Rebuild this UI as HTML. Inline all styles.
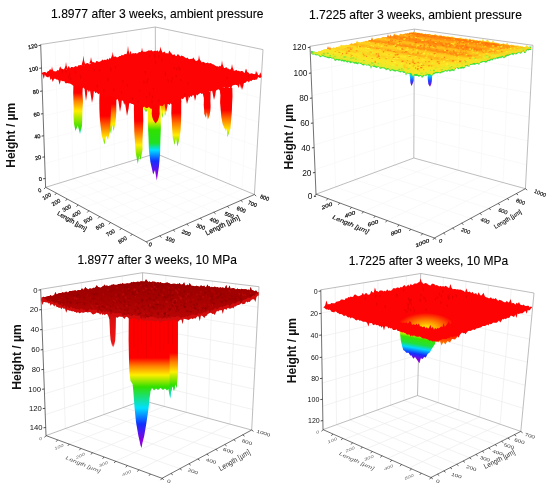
<!DOCTYPE html>
<html lang="en"><head><meta charset="utf-8"><title>Surface height maps</title>
<style>html,body{margin:0;padding:0;background:#fff}svg{display:block;font-family:"Liberation Sans",sans-serif;filter:blur(0.45px)}</style></head>
<body>
<svg width="550" height="492" viewBox="0 0 550 492">
<rect width="550" height="492" fill="#fff"/>
<defs>
<linearGradient id="g1" gradientUnits="userSpaceOnUse" x1="0" y1="100" x2="0" y2="180.5"><stop offset="0.000" stop-color="#ff8000"/><stop offset="0.099" stop-color="#ffee00"/><stop offset="0.261" stop-color="#f0f000"/><stop offset="0.373" stop-color="#30e000"/><stop offset="0.534" stop-color="#20e020"/><stop offset="0.621" stop-color="#00e0ff"/><stop offset="0.758" stop-color="#1030ff"/><stop offset="0.919" stop-color="#8a00e0"/></linearGradient>
<linearGradient id="g2" gradientUnits="userSpaceOnUse" x1="0" y1="85" x2="0" y2="134"><stop offset="0.163" stop-color="#ff0000"/><stop offset="0.327" stop-color="#ff8000"/><stop offset="0.531" stop-color="#ffee00"/><stop offset="0.878" stop-color="#30e000"/><stop offset="1.000" stop-color="#00e0ff"/><stop offset="1.000" stop-color="#1030ff"/><stop offset="1.000" stop-color="#8a00e0"/></linearGradient>
<linearGradient id="g3" gradientUnits="userSpaceOnUse" x1="0" y1="92" x2="0" y2="134"><stop offset="0.286" stop-color="#ff0000"/><stop offset="0.500" stop-color="#ff8000"/><stop offset="0.762" stop-color="#ffee00"/><stop offset="1.000" stop-color="#30e000"/><stop offset="1.000" stop-color="#00e0ff"/><stop offset="1.000" stop-color="#1030ff"/><stop offset="1.000" stop-color="#8a00e0"/></linearGradient>
<linearGradient id="g4" gradientUnits="userSpaceOnUse" x1="0" y1="92" x2="0" y2="144.5"><stop offset="0.457" stop-color="#ff0000"/><stop offset="0.686" stop-color="#ff8000"/><stop offset="0.876" stop-color="#ffee00"/><stop offset="1.000" stop-color="#30e000"/><stop offset="1.000" stop-color="#00e0ff"/><stop offset="1.000" stop-color="#1030ff"/><stop offset="1.000" stop-color="#8a00e0"/></linearGradient>
<linearGradient id="g5" gradientUnits="userSpaceOnUse" x1="0" y1="100" x2="0" y2="164"><stop offset="0.328" stop-color="#ff0000"/><stop offset="0.531" stop-color="#ff8000"/><stop offset="0.703" stop-color="#ffee00"/><stop offset="0.938" stop-color="#30e000"/><stop offset="1.000" stop-color="#00e0ff"/><stop offset="1.000" stop-color="#1030ff"/><stop offset="1.000" stop-color="#8a00e0"/></linearGradient>
<linearGradient id="g6" gradientUnits="userSpaceOnUse" x1="0" y1="98" x2="0" y2="146.5"><stop offset="0.309" stop-color="#ff0000"/><stop offset="0.536" stop-color="#ff8000"/><stop offset="0.763" stop-color="#ffee00"/><stop offset="1.000" stop-color="#30e000"/><stop offset="1.000" stop-color="#00e0ff"/><stop offset="1.000" stop-color="#1030ff"/><stop offset="1.000" stop-color="#8a00e0"/></linearGradient>
<linearGradient id="g7" gradientUnits="userSpaceOnUse" x1="0" y1="92" x2="0" y2="119.8"><stop offset="0.576" stop-color="#ff0000"/><stop offset="0.971" stop-color="#ff8000"/><stop offset="1.000" stop-color="#ffee00"/><stop offset="1.000" stop-color="#30e000"/><stop offset="1.000" stop-color="#00e0ff"/><stop offset="1.000" stop-color="#1030ff"/><stop offset="1.000" stop-color="#8a00e0"/></linearGradient>
<linearGradient id="g8" gradientUnits="userSpaceOnUse" x1="0" y1="88" x2="0" y2="137"><stop offset="0.449" stop-color="#ff0000"/><stop offset="0.653" stop-color="#ff8000"/><stop offset="0.857" stop-color="#ffee00"/><stop offset="1.000" stop-color="#30e000"/><stop offset="1.000" stop-color="#00e0ff"/><stop offset="1.000" stop-color="#1030ff"/><stop offset="1.000" stop-color="#8a00e0"/></linearGradient>
<linearGradient id="g9" gradientUnits="userSpaceOnUse" x1="0" y1="100" x2="0" y2="118"><stop offset="0.000" stop-color="#ff0000"/><stop offset="0.222" stop-color="#ff8000"/><stop offset="0.667" stop-color="#ffee00"/><stop offset="1.000" stop-color="#30e000"/><stop offset="1.000" stop-color="#00e0ff"/><stop offset="1.000" stop-color="#1030ff"/><stop offset="1.000" stop-color="#8a00e0"/></linearGradient>
<linearGradient id="g10" gradientUnits="userSpaceOnUse" x1="0" y1="100" x2="0" y2="112"><stop offset="0.000" stop-color="#ff0000"/><stop offset="0.000" stop-color="#ff8000"/><stop offset="0.667" stop-color="#ffee00"/><stop offset="1.000" stop-color="#30e000"/><stop offset="1.000" stop-color="#00e0ff"/><stop offset="1.000" stop-color="#1030ff"/><stop offset="1.000" stop-color="#8a00e0"/></linearGradient>
<linearGradient id="g11" gradientUnits="userSpaceOnUse" x1="0" y1="104" x2="0" y2="123.5"><stop offset="0.000" stop-color="#fd0303"/><stop offset="1.000" stop-color="#f00000"/></linearGradient>
<linearGradient id="g12" gradientUnits="userSpaceOnUse" x1="0" y1="70" x2="0" y2="86"><stop offset="0.125" stop-color="#30e060"/><stop offset="0.375" stop-color="#00c8ff"/><stop offset="0.688" stop-color="#2040ff"/><stop offset="1.000" stop-color="#8a00e0"/></linearGradient>
<linearGradient id="g13" gradientUnits="userSpaceOnUse" x1="0" y1="70" x2="0" y2="86.8"><stop offset="0.119" stop-color="#30e060"/><stop offset="0.357" stop-color="#00c8ff"/><stop offset="0.655" stop-color="#2040ff"/><stop offset="0.982" stop-color="#8a00e0"/></linearGradient>
<linearGradient id="g14" gradientUnits="userSpaceOnUse" x1="0" y1="312" x2="0" y2="448"><stop offset="0.029" stop-color="#ff0000"/><stop offset="0.338" stop-color="#ff0000"/><stop offset="0.397" stop-color="#ff8000"/><stop offset="0.463" stop-color="#ffee00"/><stop offset="0.551" stop-color="#30e000"/><stop offset="0.706" stop-color="#00e0ff"/><stop offset="0.824" stop-color="#1030ff"/><stop offset="0.941" stop-color="#8a00e0"/></linearGradient>
<linearGradient id="g15" gradientUnits="userSpaceOnUse" x1="0" y1="312" x2="0" y2="448"><stop offset="0.029" stop-color="#ff0000"/><stop offset="0.301" stop-color="#ff0000"/><stop offset="0.368" stop-color="#ff8000"/><stop offset="0.441" stop-color="#ffee00"/><stop offset="0.537" stop-color="#30e000"/><stop offset="0.625" stop-color="#00e0ff"/><stop offset="0.728" stop-color="#1030ff"/><stop offset="0.838" stop-color="#8a00e0"/></linearGradient>
<linearGradient id="g16" gradientUnits="userSpaceOnUse" x1="0" y1="305" x2="0" y2="347.6"><stop offset="0.000" stop-color="#c40808"/><stop offset="0.399" stop-color="#e01010"/><stop offset="1.000" stop-color="#f01818"/></linearGradient>
<linearGradient id="g17" gradientUnits="userSpaceOnUse" x1="0" y1="281" x2="0" y2="322"><stop offset="0" stop-color="#980000"/><stop offset="0.5" stop-color="#a80202"/><stop offset="1" stop-color="#bc0606"/></linearGradient>
<linearGradient id="g18" gradientUnits="userSpaceOnUse" x1="421" y1="328" x2="415" y2="362"><stop offset="0" stop-color="#ff3000"/><stop offset="0.12" stop-color="#ff9800"/><stop offset="0.2" stop-color="#ffee00"/><stop offset="0.32" stop-color="#38e400"/><stop offset="0.48" stop-color="#20e040"/><stop offset="0.6" stop-color="#00d8ff"/><stop offset="0.76" stop-color="#1030ff"/><stop offset="0.9" stop-color="#8000e0"/><stop offset="1" stop-color="#9400d8"/></linearGradient>
<linearGradient id="g19" gradientUnits="userSpaceOnUse" x1="0" y1="330" x2="0" y2="346"><stop offset="0.188" stop-color="#fd0303"/><stop offset="0.562" stop-color="#ff4000"/><stop offset="0.938" stop-color="#ff9000"/></linearGradient>
<radialGradient id="g20" gradientUnits="userSpaceOnUse" cx="426" cy="328.5" r="30" gradientTransform="translate(426 328.5) scale(1 0.52) translate(-426 -328.5)"><stop offset="0" stop-color="#fff000"/><stop offset="0.16" stop-color="#ffd800"/><stop offset="0.42" stop-color="#ff9a00"/><stop offset="0.72" stop-color="#ff4c00"/><stop offset="1" stop-color="#fd0303"/></radialGradient>
</defs>
<polyline points="41.5,68.3 155.4,48.1 261.6,73.8" fill="none" stroke="#f7f7f7" stroke-width="0.6"/>
<polyline points="42.3,92.1 155.5,69.2 260.1,97.9" fill="none" stroke="#f7f7f7" stroke-width="0.6"/>
<polyline points="43.2,115.9 155.6,90.2 258.7,122.1" fill="none" stroke="#f7f7f7" stroke-width="0.6"/>
<polyline points="44,139.7 155.6,111.3 257.3,146.2" fill="none" stroke="#f7f7f7" stroke-width="0.6"/>
<polyline points="44.8,163.5 155.7,132.4 255.8,170.4" fill="none" stroke="#f7f7f7" stroke-width="0.6"/>
<polyline points="58.2,194.1 168.1,158.6 168.8,29.8" fill="none" stroke="#f7f7f7" stroke-width="0.6"/>
<polyline points="70.8,200.9 180.5,163.8 182.2,32.6" fill="none" stroke="#f7f7f7" stroke-width="0.6"/>
<polyline points="83.3,207.7 192.8,168.9 195.7,35.5" fill="none" stroke="#f7f7f7" stroke-width="0.6"/>
<polyline points="95.9,214.6 205.1,174 209.2,38.3" fill="none" stroke="#f7f7f7" stroke-width="0.6"/>
<polyline points="108.5,221.4 217.4,179.1 222.6,41.1" fill="none" stroke="#f7f7f7" stroke-width="0.6"/>
<polyline points="121,228.2 229.8,184.2 236.1,44" fill="none" stroke="#f7f7f7" stroke-width="0.6"/>
<polyline points="133.6,235 242.1,189.4 249.5,46.8" fill="none" stroke="#f7f7f7" stroke-width="0.6"/>
<polyline points="159.7,235.9 59.4,183.1 55,42.3" fill="none" stroke="#f7f7f7" stroke-width="0.6"/>
<polyline points="173.2,230 73.2,178.9 69.4,40.1" fill="none" stroke="#f7f7f7" stroke-width="0.6"/>
<polyline points="186.8,224.1 86.9,174.6 83.7,37.9" fill="none" stroke="#f7f7f7" stroke-width="0.6"/>
<polyline points="200.3,218.2 100.7,170.4 98,35.8" fill="none" stroke="#f7f7f7" stroke-width="0.6"/>
<polyline points="213.8,212.2 114.5,166.2 112.3,33.6" fill="none" stroke="#f7f7f7" stroke-width="0.6"/>
<polyline points="227.3,206.3 128.2,161.9 126.7,31.4" fill="none" stroke="#f7f7f7" stroke-width="0.6"/>
<polyline points="240.9,200.4 142,157.7 141,29.2" fill="none" stroke="#f7f7f7" stroke-width="0.6"/>
<polyline points="40.7,44.5 155.3,27 263,49.6 254.4,194.5 155.8,153.5 45.6,187.3" fill="none" stroke="#a0a0a0" stroke-width="0.7"/>
<line x1="155.3" y1="27" x2="155.8" y2="153.5" stroke="#a0a0a0" stroke-width="0.7"/>
<polyline points="40.7,44.5 45.6,187.3 146.2,241.8 254.4,194.5" fill="none" stroke="#333" stroke-width="0.7"/>
<line x1="38.5" y1="45.6" x2="40.7" y2="45.3" stroke="#222" stroke-width="0.8"/>
<text x="37.7" y="47.3" font-size="5.6" text-anchor="end" transform="rotate(-12 37.7 47.3)" stroke="#111" stroke-width="0.22" fill="#111">120</text>
<line x1="39.3" y1="68.3" x2="41.5" y2="68" stroke="#222" stroke-width="0.8"/>
<text x="38.5" y="70" font-size="5.6" text-anchor="end" transform="rotate(-12 38.5 70)" stroke="#111" stroke-width="0.22" fill="#111">100</text>
<line x1="40.1" y1="91.3" x2="42.3" y2="91" stroke="#222" stroke-width="0.8"/>
<text x="39.3" y="93" font-size="5.6" text-anchor="end" transform="rotate(-12 39.3 93)" stroke="#111" stroke-width="0.22" fill="#111">80</text>
<line x1="40.9" y1="114" x2="43.1" y2="113.7" stroke="#222" stroke-width="0.8"/>
<text x="40.1" y="115.7" font-size="5.6" text-anchor="end" transform="rotate(-12 40.1 115.7)" stroke="#111" stroke-width="0.22" fill="#111">60</text>
<line x1="41.6" y1="136.1" x2="43.8" y2="135.8" stroke="#222" stroke-width="0.8"/>
<text x="40.8" y="137.8" font-size="5.6" text-anchor="end" transform="rotate(-12 40.8 137.8)" stroke="#111" stroke-width="0.22" fill="#111">40</text>
<line x1="42.4" y1="157.2" x2="44.6" y2="156.9" stroke="#222" stroke-width="0.8"/>
<text x="41.6" y="158.9" font-size="5.6" text-anchor="end" transform="rotate(-12 41.6 158.9)" stroke="#111" stroke-width="0.22" fill="#111">20</text>
<line x1="43.1" y1="178.8" x2="45.3" y2="178.5" stroke="#222" stroke-width="0.8"/>
<text x="42.3" y="180.5" font-size="5.6" text-anchor="end" transform="rotate(-12 42.3 180.5)" stroke="#111" stroke-width="0.22" fill="#111">0</text>
<line x1="45.6" y1="187.3" x2="44" y2="189.1" stroke="#222" stroke-width="0.7"/>
<line x1="56.4" y1="193.2" x2="54.8" y2="195" stroke="#222" stroke-width="0.7"/>
<line x1="67.2" y1="199" x2="65.6" y2="200.8" stroke="#222" stroke-width="0.7"/>
<line x1="78.1" y1="204.9" x2="76.5" y2="206.7" stroke="#222" stroke-width="0.7"/>
<line x1="88.9" y1="210.7" x2="87.3" y2="212.5" stroke="#222" stroke-width="0.7"/>
<line x1="99.7" y1="216.6" x2="98.1" y2="218.4" stroke="#222" stroke-width="0.7"/>
<line x1="110.5" y1="222.5" x2="108.9" y2="224.3" stroke="#222" stroke-width="0.7"/>
<line x1="121.3" y1="228.3" x2="119.7" y2="230.1" stroke="#222" stroke-width="0.7"/>
<line x1="132.1" y1="234.2" x2="130.5" y2="236" stroke="#222" stroke-width="0.7"/>
<line x1="146.2" y1="241.8" x2="148" y2="243.4" stroke="#222" stroke-width="0.7"/>
<line x1="159.7" y1="235.9" x2="161.5" y2="237.5" stroke="#222" stroke-width="0.7"/>
<line x1="173.2" y1="230" x2="175.1" y2="231.6" stroke="#222" stroke-width="0.7"/>
<line x1="186.8" y1="224.1" x2="188.6" y2="225.7" stroke="#222" stroke-width="0.7"/>
<line x1="200.3" y1="218.2" x2="202.1" y2="219.8" stroke="#222" stroke-width="0.7"/>
<line x1="213.8" y1="212.2" x2="215.6" y2="213.8" stroke="#222" stroke-width="0.7"/>
<line x1="227.3" y1="206.3" x2="229.2" y2="207.9" stroke="#222" stroke-width="0.7"/>
<line x1="240.9" y1="200.4" x2="242.7" y2="202" stroke="#222" stroke-width="0.7"/>
<line x1="254.4" y1="194.5" x2="256.2" y2="196.1" stroke="#222" stroke-width="0.7"/>
<text x="40.6" y="191.9" font-size="5.5" text-anchor="middle" transform="rotate(-30 40.6 191.9)" stroke="#111" stroke-width="0.22" fill="#111">0</text>
<text x="47.7" y="197.9" font-size="5.5" text-anchor="middle" transform="rotate(-30 47.7 197.9)" stroke="#111" stroke-width="0.22" fill="#111">100</text>
<text x="57" y="203.9" font-size="5.5" text-anchor="middle" transform="rotate(-30 57 203.9)" stroke="#111" stroke-width="0.22" fill="#111">200</text>
<text x="67.8" y="209.7" font-size="5.5" text-anchor="middle" transform="rotate(-30 67.8 209.7)" stroke="#111" stroke-width="0.22" fill="#111">300</text>
<text x="77.3" y="215.6" font-size="5.5" text-anchor="middle" transform="rotate(-30 77.3 215.6)" stroke="#111" stroke-width="0.22" fill="#111">400</text>
<text x="89" y="221.5" font-size="5.5" text-anchor="middle" transform="rotate(-30 89 221.5)" stroke="#111" stroke-width="0.22" fill="#111">500</text>
<text x="101" y="227.9" font-size="5.5" text-anchor="middle" transform="rotate(-30 101 227.9)" stroke="#111" stroke-width="0.22" fill="#111">600</text>
<text x="111.5" y="234.5" font-size="5.5" text-anchor="middle" transform="rotate(-30 111.5 234.5)" stroke="#111" stroke-width="0.22" fill="#111">700</text>
<text x="123.4" y="241.6" font-size="5.5" text-anchor="middle" transform="rotate(-30 123.4 241.6)" stroke="#111" stroke-width="0.22" fill="#111">800</text>
<text x="71" y="222.8" font-size="6.2" text-anchor="middle" transform="rotate(30 71 222.8)" stroke="#111" stroke-width="0.2" fill="#111">Length [µm]</text>
<text x="264" y="199.6" font-size="5.5" text-anchor="middle" transform="rotate(20 264 199.6)" stroke="#111" stroke-width="0.22" fill="#111">800</text>
<text x="251.8" y="205.7" font-size="5.5" text-anchor="middle" transform="rotate(20 251.8 205.7)" stroke="#111" stroke-width="0.22" fill="#111">700</text>
<text x="240.7" y="211.4" font-size="5.5" text-anchor="middle" transform="rotate(20 240.7 211.4)" stroke="#111" stroke-width="0.22" fill="#111">600</text>
<text x="228.5" y="216.9" font-size="5.5" text-anchor="middle" transform="rotate(20 228.5 216.9)" stroke="#111" stroke-width="0.22" fill="#111">500</text>
<text x="213.7" y="222.4" font-size="5.5" text-anchor="middle" transform="rotate(20 213.7 222.4)" stroke="#111" stroke-width="0.22" fill="#111">400</text>
<text x="200" y="228.6" font-size="5.5" text-anchor="middle" transform="rotate(20 200 228.6)" stroke="#111" stroke-width="0.22" fill="#111">300</text>
<text x="185.5" y="234.7" font-size="5.5" text-anchor="middle" transform="rotate(20 185.5 234.7)" stroke="#111" stroke-width="0.22" fill="#111">200</text>
<text x="169.5" y="241.4" font-size="5.5" text-anchor="middle" transform="rotate(20 169.5 241.4)" stroke="#111" stroke-width="0.22" fill="#111">100</text>
<text x="149.8" y="246.3" font-size="5.5" text-anchor="middle" transform="rotate(20 149.8 246.3)" stroke="#111" stroke-width="0.22" fill="#111">0</text>
<text x="223.5" y="227.3" font-size="7" text-anchor="middle" transform="rotate(-26 223.5 227.3)" stroke="#111" stroke-width="0.2" fill="#111">Length [µm]</text>
<text x="15.2" y="135.3" font-size="12" text-anchor="middle" font-weight="bold" transform="rotate(-90 15.2 135.3)" textLength="65" lengthAdjust="spacingAndGlyphs" fill="#111">Height / µm</text>
<text x="157.3" y="18.3" font-size="12.2" text-anchor="middle" textLength="212.5" lengthAdjust="spacingAndGlyphs" stroke="#000" stroke-width="0.1" fill="#000">1.8977 after 3 weeks, ambient pressure</text>
<polygon points="148,100 147.9,112.4 147.9,124.8 148.5,137.2 148.9,149.7 150.4,162.1 153.2,174.5 155,170 156.8,180.5 158.9,167.1 160.1,153.7 160.4,140.2 160.9,126.8 160.7,113.4 161,100" fill="url(#g1)"/>
<polygon points="73.4,85 73.2,92.7 73.4,100.3 73.7,108 73.5,115.7 73.9,123.3 75.5,131 77.8,125.5 80,134 82,125.8 82.3,117.7 82.5,109.5 83,101.3 82.5,93.2 82.8,85" fill="url(#g2)"/>
<polygon points="108.5,92 108.7,99 108.4,106 108.4,113 108.7,120 109.3,127 111,134 112.3,124.7 113.6,131 115.1,124.5 115.9,118 116.3,111.5 116.3,105 116.4,98.5 116.4,92" fill="url(#g3)"/>
<polygon points="99.6,92 99.3,100.8 99.4,109.5 99.8,118.2 100.7,127 101.8,135.8 104.5,144.5 106.2,135.7 108,140 109.9,132 110.4,124 110.7,116 111.1,108 111.1,100 111,92" fill="url(#g4)"/>
<polygon points="134,100 133.9,110.7 134.1,121.3 134.3,132 135,142.7 135.8,153.3 137.8,164 139.2,155.8 140.6,160 142.5,150 142.5,140 143,130 143.3,120 143,110 143.2,100" fill="url(#g5)"/>
<polygon points="171.5,98 171.5,105.8 171.3,113.7 171.8,121.5 172.2,129.3 172.7,137.2 174.5,145 176,138.5 177.5,146.5 179.5,138.4 180.6,130.3 181,122.2 181.2,114.2 181.2,106.1 181.2,98" fill="url(#g6)"/>
<polygon points="203.6,92 203.8,96.3 203.9,100.7 203.7,105 204.1,109.3 204.2,113.7 206,118 206.9,112.2 207.8,119.8 209.6,115.2 210.4,110.5 210.6,105.9 210.4,101.3 210.5,96.6 210.6,92" fill="url(#g7)"/>
<polygon points="220.3,88 220.4,95.2 220.1,102.5 220.7,109.8 221.3,117 222.7,124.2 226,131.5 226.8,128.3 227.6,137 230.4,128.8 231.1,120.7 231.8,112.5 232.1,104.3 232.5,96.2 232.3,88" fill="url(#g8)"/>
<polygon points="161,100 160.7,103 161,106 161.1,109 161.4,112 161.6,115 162.5,118 163.8,109.5 165,116 166,113.3 166.3,110.7 166.3,108 166.7,105.3 166.8,102.7 166.5,100" fill="url(#g9)"/>
<polygon points="143.5,100 143.3,102 143.3,104 143.5,106 143.8,108 144.4,110 146,112 147.6,110 147.9,108 148,106 148.4,104 148.4,102 148.5,100" fill="url(#g10)"/>
<polygon points="41.5,73.3 42.7,72.6 44,72.1 45.2,72 46.5,73 47.7,71.3 48.9,71.1 50.2,68.8 51.4,71.2 52.7,71.7 53.9,71 55.1,71.4 56.4,71.3 57.6,70 58.8,70.5 60.1,66.2 61.3,68.6 62.6,68.9 63.8,69.5 65,68.3 66.3,69.7 67.5,68.5 68.8,65.8 70,68.5 71.2,66.9 72.4,67.1 73.6,67.5 74.8,66.4 76,66.1 77.2,67 78.4,65.2 79.6,65.2 80.8,65.1 82,65.3 83.2,64.7 84.4,65.2 85.6,63.5 86.8,63.3 88,63 89.2,64.2 90.4,63.9 91.6,62.8 92.8,62.1 94,62.2 95.2,63.1 96.4,61.1 97.6,61.2 98.8,62 100,61.5 101.2,61.1 102.4,59.5 103.7,60.4 104.9,59.4 106.1,60.3 107.3,58.5 108.5,59.7 109.7,57.7 111,58.7 112.2,54.4 113.4,57.5 114.6,56.6 115.8,56.4 117,57.4 118.3,56.9 119.5,56.1 120.7,56.1 121.9,54.8 123.1,55.4 124.3,54.2 125.6,53.9 126.8,54.3 128,54.5 129.2,54.9 130.5,50.8 131.7,54.2 132.9,52.9 134.1,53.6 135.4,52.9 136.6,53.6 137.8,53.2 139,52 140.3,52.2 141.5,51.3 142.7,51.7 144,51.8 145.2,51.7 146.4,51.5 147.6,50.9 148.9,50.2 150.1,50.8 151.3,50.1 152.5,51.3 153.8,51.2 155,50.6 156.2,51.3 157.4,50.2 158.6,51.7 159.8,51 161,50.8 162.2,52.4 163.4,52.3 164.6,51.4 165.8,53.4 167,52.9 168.2,53.8 169.4,50.6 170.6,52.4 171.8,53.8 173,55.2 174.2,54 175.4,55.7 176.6,56.1 177.8,54 179,54.9 180.2,56.5 181.4,55.4 182.6,55.9 183.8,56.4 185,57.5 186.2,58.3 187.4,57.5 188.6,58.9 189.8,59.2 191,58.8 192.2,58.9 193.4,57.4 194.6,59.5 195.8,60.9 197,60.7 198.2,60.1 199.4,60.9 200.6,60.4 201.8,62.5 203,61.8 204.2,62.3 205.4,63.3 206.6,63 207.8,62.5 209,63.5 210.2,62.9 211.4,63.5 212.6,64.2 213.8,64.5 215,65.5 216.2,66.3 217.5,66.2 218.8,66.8 220,65.6 221.2,67 222.5,67.3 223.8,67.9 225,68 226.2,66.9 227.5,68.6 228.8,68.8 230,69.7 231.2,69.1 232.5,69.9 233.8,70.6 235,70.7 236.2,69.7 237.5,71 238.8,70.7 240,71.5 241.2,71.1 242.4,70.9 243.6,72.3 244.8,72.9 246,68.4 247.2,71.9 248.4,72.5 249.6,74 250.8,73.5 252,73.2 253.2,73.9 254.4,74 255.6,74.6 256.8,71.4 258,75.1 259.2,75.2 260.4,72.2 261.6,76.4 260.4,77.9 259.3,77.8 258.1,77.1 257,79.4 255.8,79.5 254.6,79.9 253.5,79.7 252.3,80.1 251.2,81.2 250,80.5 248.9,82.5 247.8,81.1 246.6,81.5 245.5,82.7 244.4,83.1 243.2,83.5 242.1,83.4 241,88.6 239.9,83.4 238.8,88 237.6,85.5 236.5,85 235.4,84.8 234.2,85.1 233.1,85.3 232,86 230.9,92.3 229.8,87 228.6,87.8 227.5,88.5 226.4,89.4 225.2,88 224.1,87.5 223,88.2 221.9,87.7 220.8,95.1 219.6,90 218.5,89.2 217.4,89.7 216.2,90.5 215.1,90.4 214,94.3 212.9,90.6 211.8,90.8 210.6,91.7 209.5,91.6 208.4,93.1 207.2,92.8 206.1,93.8 205,92.5 203.9,97.8 202.8,93.4 201.7,94.1 200.6,93 199.5,93.4 198.4,94.2 197.3,95.4 196.2,94.5 195.1,94.9 193.9,95.4 192.8,95.1 191.7,97.1 190.6,95.7 189.5,97.9 188.4,96.1 187.3,96.2 186.2,96.5 185.1,97.1 184,97.5 182.9,99.3 181.8,98.5 180.6,99.1 179.5,100.5 178.4,103.6 177.3,100.4 176.2,99.8 175.1,100.2 173.9,101 172.8,102.3 171.7,104.6 170.6,103.2 169.5,104.9 168.4,103.9 167.2,104.1 166.1,103.9 165,103.5 163.8,104.5 162.6,105.9 161.5,105.7 160.3,105.7 159.1,105.1 157.9,106.1 156.7,107.5 155.5,106.7 154.4,108.4 153.2,110.5 152,108.5 150.9,108.9 149.8,107.8 148.7,107.1 147.6,107.9 146.4,108.1 145.3,107.4 144.2,106.6 143.1,107.5 142,105.6 140.9,106.9 139.8,105.6 138.7,107 137.6,104.6 136.4,105.3 135.3,104.5 134.2,105.6 133.1,104 132,104 130.9,103.6 129.8,103.1 128.7,103.9 127.6,104 126.4,101.8 125.3,101.9 124.2,105 123.1,100.7 122,100.5 120.9,100.3 119.8,101.1 118.7,101 117.6,99 116.4,100.1 115.3,97.5 114.2,98 113.1,97.5 112,97 110.9,95.9 109.8,96.4 108.7,95.5 107.6,95.4 106.5,96.5 105.4,97.8 104.3,94.7 103.2,93.9 102.1,97.5 101,94.7 99.9,92.9 98.8,94.3 97.7,93.5 96.6,92.2 95.5,93.3 94.4,91.3 93.3,91.1 92.2,90 91.1,91.8 90,90 88.9,92.5 87.8,89.7 86.7,90.5 85.6,88.4 84.4,88.7 83.3,87.6 82.2,88.5 81.1,88.2 80,86.8 78.9,86.5 77.8,85.5 76.7,86.8 75.6,87.8 74.4,85 73.3,86 72.2,84.7 71.1,84.3 70,83.5 68.8,83.5 67.7,83 66.5,83.2 65.4,83.3 64.2,81.1 63.1,81.2 61.9,81 60.8,80.2 59.6,84.8 58.5,80.3 57.3,79.5 56.2,79.4 55,78.5 53.9,79.3 52.8,81.9 51.6,78.4 50.5,79.9 49.4,75.9 48.2,77.5 47.1,77 46,76.4 44.9,74.5 43.8,79 42.6,74.5" fill="#fd0303"/>
<path d="M98.8 69.4l0.7 2.6l0.8 -2z" fill="#d80000" opacity="0.55"/>
<path d="M180 79l0.7 2.6l0.8 -1.5z" fill="#d80000" opacity="0.55"/>
<path d="M152.7 87.7l0.7 2.6l0.8 -2.1z" fill="#d80000" opacity="0.55"/>
<path d="M151.8 95.2l0.7 3.6l0.8 -1.6z" fill="#d80000" opacity="0.55"/>
<path d="M96.5 84.5l0.7 3.7l0.8 -2.8z" fill="#d80000" opacity="0.55"/>
<path d="M69.9 76.9l0.7 4.1l0.8 -2.3z" fill="#d80000" opacity="0.55"/>
<path d="M107.3 76.9l0.7 4.9l0.8 -2.1z" fill="#d80000" opacity="0.55"/>
<path d="M144.5 71.1l0.7 3.2l0.8 -3.2z" fill="#d80000" opacity="0.55"/>
<path d="M193.4 60.1l0.7 2.6l0.8 -3z" fill="#d80000" opacity="0.55"/>
<path d="M65.3 68.9l0.7 4.7l0.8 -2.3z" fill="#d80000" opacity="0.55"/>
<path d="M178.2 65.8l0.7 4.6l0.8 -2.4z" fill="#d80000" opacity="0.55"/>
<path d="M61.6 70.1l0.7 3.7l0.8 -2.8z" fill="#d80000" opacity="0.55"/>
<path d="M154.3 55l0.7 3.9l0.8 -2.2z" fill="#d80000" opacity="0.55"/>
<path d="M114.6 66.3l0.7 2.8l0.8 -2.5z" fill="#d80000" opacity="0.55"/>
<path d="M158.2 55.2l0.7 3.5l0.8 -3.1z" fill="#d80000" opacity="0.55"/>
<path d="M172.3 56.5l0.7 2.4l0.8 -3.4z" fill="#d80000" opacity="0.55"/>
<path d="M203.7 63.7l0.7 2.2l0.8 -3.4z" fill="#d80000" opacity="0.55"/>
<path d="M184.1 93l0.7 3.9l0.8 -3.1z" fill="#d80000" opacity="0.55"/>
<path d="M146 96.1l0.7 2.7l0.8 -2.3z" fill="#d80000" opacity="0.55"/>
<path d="M226.4 76.7l0.7 2.5l0.8 -1.9z" fill="#d80000" opacity="0.55"/>
<path d="M143.3 80.5l0.7 3.2l0.8 -1.7z" fill="#d80000" opacity="0.55"/>
<path d="M148.9 91.5l0.7 4.7l0.8 -1.6z" fill="#d80000" opacity="0.55"/>
<path d="M187.4 83.2l0.7 2.1l0.8 -3.2z" fill="#d80000" opacity="0.55"/>
<path d="M120.8 91.1l0.7 3.7l0.8 -2.8z" fill="#d80000" opacity="0.55"/>
<path d="M122.2 79.9l0.7 3.7l0.8 -2.4z" fill="#d80000" opacity="0.55"/>
<path d="M164.5 71.3l0.7 3.3l0.8 -1.5z" fill="#d80000" opacity="0.55"/>
<path d="M164.7 73.6l0.7 2.7l0.8 -3z" fill="#d80000" opacity="0.55"/>
<path d="M179.3 68.4l0.7 2.5l0.8 -2.4z" fill="#d80000" opacity="0.55"/>
<path d="M67.8 75.3l0.7 3.3l0.8 -1.7z" fill="#d80000" opacity="0.55"/>
<path d="M147.2 79.1l0.7 2.1l0.8 -2.8z" fill="#d80000" opacity="0.55"/>
<path d="M131.6 96.7l0.7 4.3l0.8 -2.5z" fill="#d80000" opacity="0.55"/>
<path d="M103.2 89.5l0.7 3.1l0.8 -3.4z" fill="#d80000" opacity="0.55"/>
<path d="M151.2 99.3l0.7 5l0.8 -3z" fill="#d80000" opacity="0.55"/>
<path d="M154.8 60.1l0.7 4.9l0.8 -2.5z" fill="#d80000" opacity="0.55"/>
<path d="M247.9 75.6l0.7 2.5l0.8 -3.1z" fill="#d80000" opacity="0.55"/>
<path d="M154.1 53.9l0.7 3.1l0.8 -3z" fill="#d80000" opacity="0.55"/>
<path d="M158 99.9l0.7 2.8l0.8 -3.1z" fill="#d80000" opacity="0.55"/>
<path d="M113 87l0.7 4.8l0.8 -1.9z" fill="#d80000" opacity="0.55"/>
<path d="M126.7 83.9l0.7 3l0.8 -1.6z" fill="#d80000" opacity="0.55"/>
<path d="M79.9 74.6l0.7 4.8l0.8 -2.9z" fill="#d80000" opacity="0.55"/>
<path d="M161.2 57.5l0.7 4.4l0.8 -1.7z" fill="#d80000" opacity="0.55"/>
<path d="M170.7 80.5l0.7 3.1l0.8 -3.2z" fill="#d80000" opacity="0.55"/>
<path d="M167.4 78.1l0.7 4.6l0.8 -1.7z" fill="#d80000" opacity="0.55"/>
<path d="M221.4 67l0.7 3.2l0.8 -3.1z" fill="#d80000" opacity="0.55"/>
<path d="M180 99.7l0.7 3.7l0.8 -2.2z" fill="#d80000" opacity="0.55"/>
<path d="M175.8 68.3l0.7 2.5l0.8 -3z" fill="#d80000" opacity="0.55"/>
<path d="M137.4 100.7l0.7 2.8l0.8 -2.8z" fill="#d80000" opacity="0.55"/>
<path d="M215.7 66.2l0.7 4l0.8 -2.1z" fill="#d80000" opacity="0.55"/>
<path d="M45.4 74.4l0.7 2.4l0.8 -2.7z" fill="#d80000" opacity="0.55"/>
<path d="M146.3 79.5l0.7 4.7l0.8 -1.8z" fill="#d80000" opacity="0.55"/>
<path d="M138.9 89.7l0.7 2.1l0.8 -1.5z" fill="#d80000" opacity="0.55"/>
<path d="M93.4 68.6l0.7 3.1l0.8 -1.9z" fill="#d80000" opacity="0.55"/>
<path d="M171.5 77.6l0.7 2.6l0.8 -2.7z" fill="#d80000" opacity="0.55"/>
<path d="M110 66.7l0.7 4.8l0.8 -2z" fill="#d80000" opacity="0.55"/>
<path d="M69 73.1l0.7 3.9l0.8 -3.2z" fill="#d80000" opacity="0.55"/>
<path d="M173.5 66.7l0.7 2.8l0.8 -1.5z" fill="#d80000" opacity="0.55"/>
<path d="M175.4 75l0.7 3.1l0.8 -2.8z" fill="#d80000" opacity="0.55"/>
<path d="M193.8 92.3l0.7 4.2l0.8 -2z" fill="#d80000" opacity="0.55"/>
<path d="M148.8 54l0.7 3.6l0.8 -2.3z" fill="#d80000" opacity="0.55"/>
<path d="M74.9 69.8l0.7 4.3l0.8 -1.5z" fill="#d80000" opacity="0.55"/>
<polygon points="81.6,65 82.9,60.3 83.4,55.6 84,60.3 85.4,65" fill="#fd0303"/>
<polygon points="89.2,63.5 90.5,60.2 91,57 91.6,60.2 93,63.5" fill="#fd0303"/>
<polygon points="110.9,59.5 112.2,55.6 112.7,51.8 113.3,55.6 114.7,59.5" fill="#fd0303"/>
<polygon points="126.2,55.5 127.5,50.6 128,45.8 128.6,50.6 130,55.5" fill="#fd0303"/>
<polygon points="64.2,69.5 65.5,65.8 66,62 66.6,65.8 68,69.5" fill="#fd0303"/>
<polygon points="50.2,72 51.5,69.2 52,66.5 52.6,69.2 54,72" fill="#fd0303"/>
<polygon points="140.2,54 141.5,50.8 142,47.5 142.6,50.8 144,54" fill="#fd0303"/>
<polygon points="158.7,52.5 160,49.5 160.5,46.5 161.1,49.5 162.5,52.5" fill="#fd0303"/>
<polygon points="197.2,62.5 198.5,58.8 199,55 199.6,58.8 201,62.5" fill="#fd0303"/>
<polygon points="220.2,68 221.5,64.2 222,60.5 222.6,64.2 224,68" fill="#fd0303"/>
<polygon points="230.2,70.5 231.5,67.2 232,64 232.6,67.2 234,70.5" fill="#fd0303"/>
<polygon points="244.2,74 245.5,71.5 246,69 246.6,71.5 248,74" fill="#fd0303"/>
<polygon points="254.2,76 255.5,73.2 256,70.5 256.6,73.2 258,76" fill="#fd0303"/>
<polygon points="151.6,104 151.6,107.2 151.9,110.5 151.7,113.8 152.2,117 153.4,120.2 155.6,123.5 158,120.2 159,117 159.7,113.8 159.5,110.5 159.7,107.2 159.8,104" fill="url(#g11)"/>
<polygon points="84.5,88 85.2,94.5 86,101 87,94.5 87.5,88" fill="#fd0303"/>
<polygon points="90,90 91,96.5 92,103 93.3,96.5 94,90" fill="#fd0303"/>
<polygon points="118,98 119,105 120,112 121.3,105 122,98" fill="#fd0303"/>
<polygon points="124.5,100 125.8,108 127,116 128.7,108 129.5,100" fill="#fd0303"/>
<polygon points="164,101 165,106.5 166,112 167.3,106.5 168,101" fill="#fd0303"/>
<polygon points="185,95 186,99.5 187,104 188.3,99.5 189,95" fill="#fd0303"/>
<polygon points="193.5,93 194.2,97 195,101 196,97 196.5,93" fill="#fd0303"/>
<polygon points="212,90 213,95 214,100 215.3,95 216,90" fill="#fd0303"/>
<polygon points="240,82 241,86 242,90 243.3,86 244,82" fill="#fd0303"/>
<polyline points="311,70.9 414.3,50.6 531.7,69.2" fill="none" stroke="#f5f5f5" stroke-width="0.6"/>
<polyline points="312,95.6 414.2,72.1 530.5,93.1" fill="none" stroke="#f5f5f5" stroke-width="0.6"/>
<polyline points="313,120.2 414.1,93.6 529.2,117" fill="none" stroke="#f5f5f5" stroke-width="0.6"/>
<polyline points="314,144.9 414,115 527.9,140.9" fill="none" stroke="#f5f5f5" stroke-width="0.6"/>
<polyline points="315,169.5 413.9,136.5 526.7,164.8" fill="none" stroke="#f5f5f5" stroke-width="0.6"/>
<polyline points="339.7,203 436.1,164.1 438.1,32.3" fill="none" stroke="#f5f5f5" stroke-width="0.6"/>
<polyline points="363.4,211.7 458.4,170.3 461.8,35.6" fill="none" stroke="#f5f5f5" stroke-width="0.6"/>
<polyline points="387,220.5 480.8,176.4 485.6,38.8" fill="none" stroke="#f5f5f5" stroke-width="0.6"/>
<polyline points="410.7,229.2 503.1,182.6 509.3,42.1" fill="none" stroke="#f5f5f5" stroke-width="0.6"/>
<polyline points="452.6,228.1 335.6,187 330.9,42.9" fill="none" stroke="#f5f5f5" stroke-width="0.6"/>
<polyline points="470.8,218.3 355.1,179.7 351.8,39.4" fill="none" stroke="#f5f5f5" stroke-width="0.6"/>
<polyline points="489,208.4 374.7,172.5 372.6,36" fill="none" stroke="#f5f5f5" stroke-width="0.6"/>
<polyline points="507.2,198.6 394.2,165.2 393.5,32.5" fill="none" stroke="#f5f5f5" stroke-width="0.6"/>
<polyline points="310,46.3 414.4,29.1 533,45.3 525.4,188.7 413.8,158 316,194.2" fill="none" stroke="#a0a0a0" stroke-width="0.7"/>
<line x1="414.4" y1="29.1" x2="413.8" y2="158" stroke="#a0a0a0" stroke-width="0.7"/>
<polyline points="310,46.3 316,194.2 434.4,238 525.4,188.7" fill="none" stroke="#333" stroke-width="0.7"/>
<line x1="307.8" y1="47.6" x2="310" y2="47.3" stroke="#222" stroke-width="0.8"/>
<text x="306.4" y="50.3" font-size="8.4" text-anchor="end" fill="#111">120</text>
<line x1="308.9" y1="73.3" x2="311.1" y2="73" stroke="#222" stroke-width="0.8"/>
<text x="307.5" y="76" font-size="8.4" text-anchor="end" fill="#111">100</text>
<line x1="309.9" y1="98.3" x2="312.1" y2="98" stroke="#222" stroke-width="0.8"/>
<text x="308.5" y="101" font-size="8.4" text-anchor="end" fill="#111">80</text>
<line x1="310.9" y1="123.3" x2="313.1" y2="123" stroke="#222" stroke-width="0.8"/>
<text x="309.5" y="126" font-size="8.4" text-anchor="end" fill="#111">60</text>
<line x1="311.9" y1="147.9" x2="314.1" y2="147.6" stroke="#222" stroke-width="0.8"/>
<text x="310.5" y="150.6" font-size="8.4" text-anchor="end" fill="#111">40</text>
<line x1="312.9" y1="172.8" x2="315.1" y2="172.5" stroke="#222" stroke-width="0.8"/>
<text x="311.5" y="175.5" font-size="8.4" text-anchor="end" fill="#111">20</text>
<line x1="313.9" y1="196.6" x2="316.1" y2="196.3" stroke="#222" stroke-width="0.8"/>
<text x="312.5" y="199.3" font-size="8.4" text-anchor="end" fill="#111">0</text>
<line x1="316" y1="194.2" x2="314.6" y2="196" stroke="#222" stroke-width="0.7"/>
<line x1="327.8" y1="198.6" x2="326.4" y2="200.4" stroke="#222" stroke-width="0.7"/>
<line x1="339.7" y1="203" x2="338.3" y2="204.8" stroke="#222" stroke-width="0.7"/>
<line x1="351.5" y1="207.3" x2="350.1" y2="209.1" stroke="#222" stroke-width="0.7"/>
<line x1="363.4" y1="211.7" x2="362" y2="213.5" stroke="#222" stroke-width="0.7"/>
<line x1="375.2" y1="216.1" x2="373.8" y2="217.9" stroke="#222" stroke-width="0.7"/>
<line x1="387" y1="220.5" x2="385.6" y2="222.3" stroke="#222" stroke-width="0.7"/>
<line x1="398.9" y1="224.9" x2="397.5" y2="226.7" stroke="#222" stroke-width="0.7"/>
<line x1="410.7" y1="229.2" x2="409.3" y2="231" stroke="#222" stroke-width="0.7"/>
<line x1="422.6" y1="233.6" x2="421.2" y2="235.4" stroke="#222" stroke-width="0.7"/>
<line x1="434.4" y1="238" x2="433" y2="239.8" stroke="#222" stroke-width="0.7"/>
<line x1="434.4" y1="238" x2="436.2" y2="239.4" stroke="#222" stroke-width="0.7"/>
<line x1="443.5" y1="233.1" x2="445.3" y2="234.5" stroke="#222" stroke-width="0.7"/>
<line x1="452.6" y1="228.1" x2="454.4" y2="229.5" stroke="#222" stroke-width="0.7"/>
<line x1="461.7" y1="223.2" x2="463.5" y2="224.6" stroke="#222" stroke-width="0.7"/>
<line x1="470.8" y1="218.3" x2="472.6" y2="219.7" stroke="#222" stroke-width="0.7"/>
<line x1="479.9" y1="213.3" x2="481.7" y2="214.8" stroke="#222" stroke-width="0.7"/>
<line x1="489" y1="208.4" x2="490.8" y2="209.8" stroke="#222" stroke-width="0.7"/>
<line x1="498.1" y1="203.5" x2="499.9" y2="204.9" stroke="#222" stroke-width="0.7"/>
<line x1="507.2" y1="198.6" x2="509" y2="200" stroke="#222" stroke-width="0.7"/>
<line x1="516.3" y1="193.6" x2="518.1" y2="195" stroke="#222" stroke-width="0.7"/>
<line x1="525.4" y1="188.7" x2="527.2" y2="190.1" stroke="#222" stroke-width="0.7"/>
<text x="327.5" y="207.4" font-size="5.0" text-anchor="middle" font-style="italic" transform="rotate(-21 327.5 207.4)" textLength="11.1" lengthAdjust="spacingAndGlyphs" stroke="#111" stroke-width="0.2" fill="#111">200</text>
<text x="350.5" y="215.9" font-size="5.0" text-anchor="middle" font-style="italic" transform="rotate(-21 350.5 215.9)" textLength="11.1" lengthAdjust="spacingAndGlyphs" stroke="#111" stroke-width="0.2" fill="#111">400</text>
<text x="373.5" y="224.8" font-size="5.0" text-anchor="middle" font-style="italic" transform="rotate(-21 373.5 224.8)" textLength="11.1" lengthAdjust="spacingAndGlyphs" stroke="#111" stroke-width="0.2" fill="#111">600</text>
<text x="396.6" y="233.8" font-size="5.0" text-anchor="middle" font-style="italic" transform="rotate(-21 396.6 233.8)" textLength="11.1" lengthAdjust="spacingAndGlyphs" stroke="#111" stroke-width="0.2" fill="#111">800</text>
<text x="422.8" y="244.6" font-size="5.0" text-anchor="middle" font-style="italic" transform="rotate(-21 422.8 244.6)" textLength="14.8" lengthAdjust="spacingAndGlyphs" stroke="#111" stroke-width="0.2" fill="#111">1000</text>
<text x="350" y="226.2" font-size="6" text-anchor="middle" font-style="italic" transform="rotate(23 350 226.2)" textLength="39" lengthAdjust="spacingAndGlyphs" stroke="#111" stroke-width="0.15" fill="#111">Length [µm]</text>
<text x="539.5" y="194.9" font-size="5.4" text-anchor="middle" transform="rotate(22 539.5 194.9)" textLength="12.4" lengthAdjust="spacingAndGlyphs" stroke="#111" stroke-width="0.15" fill="#111">1000</text>
<text x="519.7" y="203.4" font-size="5.4" text-anchor="middle" transform="rotate(22 519.7 203.4)" textLength="9.3" lengthAdjust="spacingAndGlyphs" stroke="#111" stroke-width="0.15" fill="#111">800</text>
<text x="502.3" y="212.9" font-size="5.4" text-anchor="middle" transform="rotate(22 502.3 212.9)" textLength="9.3" lengthAdjust="spacingAndGlyphs" stroke="#111" stroke-width="0.15" fill="#111">600</text>
<text x="484.4" y="222.4" font-size="5.4" text-anchor="middle" transform="rotate(22 484.4 222.4)" textLength="9.3" lengthAdjust="spacingAndGlyphs" stroke="#111" stroke-width="0.15" fill="#111">400</text>
<text x="465" y="232.7" font-size="5.4" text-anchor="middle" transform="rotate(22 465 232.7)" textLength="9.3" lengthAdjust="spacingAndGlyphs" stroke="#111" stroke-width="0.15" fill="#111">200</text>
<text x="440" y="242.5" font-size="5.4" text-anchor="middle" transform="rotate(22 440 242.5)" textLength="3.1" lengthAdjust="spacingAndGlyphs" stroke="#111" stroke-width="0.15" fill="#111">0</text>
<text x="508.7" y="221" font-size="6.2" text-anchor="middle" transform="rotate(-31 508.7 221)" textLength="31" lengthAdjust="spacingAndGlyphs" stroke="#111" stroke-width="0.12" fill="#111">Length [µm]</text>
<text x="292.8" y="136.7" font-size="12" text-anchor="middle" font-weight="bold" transform="rotate(-90 292.8 136.7)" textLength="65.5" lengthAdjust="spacingAndGlyphs" fill="#111">Height / µm</text>
<text x="415.4" y="18.9" font-size="12.2" text-anchor="middle" textLength="213" lengthAdjust="spacingAndGlyphs" stroke="#000" stroke-width="0.1" fill="#000">1.7225 after 3 weeks, ambient pressure</text>
<polygon points="409.8,70 409.7,72.7 409.6,75.3 410.1,78 410.2,80.7 410.5,83.3 411.6,86 412.8,83.3 413.7,80.7 413.8,78 413.7,75.3 413.9,72.7 413.8,70" fill="url(#g12)"/>
<polygon points="427.8,70 427.8,72.8 427.7,75.6 427.7,78.4 428,81.2 428.3,84 430,86.8 431.3,84 431.8,81.2 432,78.4 432.2,75.6 432.1,72.8 432,70" fill="url(#g13)"/>
<polygon points="531.2,49.8 530.2,50 529.2,50 528.2,50.5 527.2,49.8 526.2,51.8 525.2,53.3 524.2,52.9 523.1,50.8 522.1,52.5 521.1,53 520.1,54 519.1,52.3 518.1,53.3 517.1,53.7 516.1,54.6 515.1,54.3 514.1,53.9 513.1,55.4 512.1,54.3 511.1,54.4 510.1,55.1 509.1,55.5 508.1,56 507,55.9 506,57 505,57.2 504,58.6 503,57.5 502,57.3 501,58.5 500,57.4 499,58.5 498,58.5 497,59 496,58.3 495,60 494,57.9 493,59.9 492,60.4 491,59.5 490,61.5 489,60.8 488,61.2 487,61.8 486,63 485,62.3 484,62.1 483,61.8 482,62.7 481,62.7 480,63.1 479,64.9 478,64 477,63.8 476,64.3 475,64.8 474,64.8 473,64.5 472,64.9 471,64.8 470,65.2 469,67.2 468,66.1 467,66.7 466,65.6 465,67.4 464,68.5 463,68.4 462,68.3 461,69 460,68.3 459,68.7 458,69.4 457,67.8 456,68.5 455,69.4 454,71.5 453,70.4 452,71.1 451,70.5 450,71.9 449,70.7 448,70.7 447,72.2 446,70.8 445,71.3 444,72 443,72.5 442,72.5 441,73.1 440,73.8 439,72.7 438,73.2 437,73.3 436,73.2 435,73.6 434,74.5 433,74.5 432,76.1 431,76.1 430,74.6 429,76.2 428,74.4 427,74.9 426,76.4 425,75.2 424,76.1 423,77 422,78 421,76.3 420,75.8 419,77.2 418,76.1 417,75.9 416,76 415,75.9 414,75.5 413,76.9 412,74.6 411,74.5 410,74 409,73.4 408,74 407,73.3 406,75.7 405,72.7 404,73.1 403,72.8 402,71.3 401,72.3 400,72.4 399,71.6 398,71.7 397,70.4 396,71.5 395,71.5 394,71.3 393,70.8 392,70.3 391,70.8 390,71.5 389,69.5 388,69.5 387,69.4 386,70.6 385,68.7 384,68.8 383,67.9 382,68.5 381,68.4 380,68.9 379,67.3 378,66.8 377,68.1 376,67.7 375,67.2 374,66.9 373,66.7 372,65.9 371,69 370,65.7 369,66 368,65.1 367,65.8 366,65.3 365,64 364,65.8 363,65.2 362,64.9 361,63.8 360,64.1 359,63.1 358,64.4 357,63.9 356,63.7 355,63.5 354,63.7 353,62.4 352,62.5 351,63 350,63.2 349,61.5 348,62.5 347,62.6 346,61.7 345,61 344,62.5 343,60.7 342,61.6 341,61.2 340,60 339,60.9 338,60.2 337,60.1 336,60.6 335,61.3 334,59.3 333,58.3 332,58.9 331,58.1 330,57.9 329,58.6 328,57.9 327,58 326,57.1 325,57.4 324,56.6 323,56.4 322,56 321,56.9 320,57.3 319,56.1 318,55.2 317,55.3 316,55.4 315,54.8 314,54.2 313,55.1 312,53.9 311,53.8 311,50.9 312,50.7 313,51.4 314,51.4 315,51.7 316,52.3 317,52.3 318,52.2 319,52.9 320,53.4 321,54 322,53.2 323,53.1 324,53.3 325,53.9 326,54.2 327,54.5 328,54.8 329,54.5 330,54.9 331,54.8 332,55.9 333,55.3 334,55.5 335,57.9 336,56.6 337,56.9 338,57.2 339,57.1 340,56.7 341,58.1 342,57.5 343,57.2 344,58.3 345,57.3 346,58.5 347,58.7 348,58.4 349,58.4 350,59.3 351,59 352,59.7 353,59.3 354,60.1 355,60.2 356,59.6 357,60.4 358,60.3 359,60.3 360,60.8 361,60.4 362,61.7 363,61.7 364,61.7 365,61.2 366,62.2 367,62.8 368,61.9 369,62.2 370,62.5 371,65.1 372,63.2 373,64 374,63 375,63.6 376,63.7 377,64.6 378,63.9 379,64.5 380,66 381,64.5 382,65.6 383,65.1 384,65.5 385,65.1 386,66.4 387,65.9 388,65.8 389,66.4 390,68 391,67.4 392,67.3 393,67.1 394,67.7 395,67.6 396,68.3 397,67.7 398,68 399,68.5 400,68.5 401,69 402,68.5 403,69.2 404,68.9 405,69.5 406,72.1 407,69.7 408,71 409,70.4 410,70.5 411,71 412,71.4 413,74 414,72.2 415,71.8 416,71.8 417,71.9 418,72.3 419,73.1 420,72.9 421,72.8 422,74.1 423,72.8 424,72.9 425,72.2 426,72.5 427,71.4 428,71.2 429,72 430,70.9 431,72.7 432,72.7 433,70.4 434,70.5 435,70 436,69.6 437,70 438,70 439,69.9 440,70.3 441,69.4 442,68.4 443,69.3 444,68.4 445,68.1 446,67.5 447,68.5 448,67.2 449,67.2 450,67.7 451,67 452,67.2 453,66.3 454,68 455,65.9 456,65.8 457,65.1 458,65.3 459,65.4 460,65.3 461,64.8 462,64.3 463,64.4 464,65.3 465,63.3 466,62.8 467,63.2 468,62.6 469,64.2 470,62 471,61.9 472,61.5 473,61 474,60.8 475,60.9 476,61.2 477,60.5 478,60.5 479,61.6 480,59.9 481,58.9 482,59.3 483,58.4 484,58.9 485,58.6 486,59 487,58 488,57.9 489,57.3 490,57.3 491,56.1 492,56.8 493,56 494,55.2 495,56 496,55.5 497,54.9 498,54.7 499,54.7 500,54 501,54.6 502,53.5 503,53.7 504,55.1 505,53.3 506,53 507,52.3 508.1,52.3 509.1,52.3 510.1,51.8 511.1,51.4 512.1,50.5 513.1,51.3 514.1,50.9 515.1,51.4 516.1,50.8 517.1,50.4 518.1,50.1 519.1,49.5 520.1,50.7 521.1,49 522.1,49.7 523.1,47.8 524.2,49 525.2,50.2 526.2,47.6 527.2,46.7 528.2,47 529.2,46.5 530.2,46.9 531.2,45.8" fill="#3be23a"/>
<clipPath id="c2"><polygon points="311,53.4 312,53.2 313,52.8 314,52.4 315,52 316,52.4 317,52.4 318,51.9 319,50.7 320,51.3 321,51.1 322,50.1 323,50.1 324,49.5 325,49.5 326,49.2 327,49.2 328,49.5 329,46.5 330,49 331,48 332,48.7 333,47.8 334,47.6 335,48.2 336,47.6 337,46.8 338,47.5 339,46.2 340,47 341,44.6 342,45.6 343,45.4 344,45.6 345,45.6 346,44.8 347,45.2 348,45.3 349,44.8 350,44.5 351,43.5 352,43.4 353,44.3 354,43.6 355,43.5 356,43 357,40.3 358,42.6 359,42.1 360,42.9 361,42.1 362,42.3 363,41.8 364,41.7 365,41.5 366,40.8 367,41.3 368,41.2 369,40.1 370,40 371,40.1 372,37 373,40.2 374,39.7 375,39.2 376,38.5 377,38.8 378,38.2 379,38.2 380,38.4 381,38.2 382,37.4 383,37.3 384,37.5 385.1,37.2 386.1,37.2 387.1,37.3 388.1,37 389.1,36.2 390.1,36.9 391.1,36.5 392.1,36.5 393.2,36.3 394.2,33 395.2,36.1 396.2,34.8 397.2,34.9 398.2,35.5 399.2,35.4 400.2,33.8 401.2,34.2 402.3,34.4 403.3,34.3 404.3,33.9 405.3,33.6 406.3,33.8 407.3,33.2 408.3,33.7 409.3,32.7 410.4,32.8 411.4,32.6 412.4,32.7 413.4,31.3 414.4,32.6 415.4,32.1 416.4,32.4 417.5,32.8 418.5,32.7 419.5,32.7 420.5,33.5 421.5,32.9 422.5,33.4 423.6,34.1 424.6,34 425.6,33.2 426.6,34.4 427.6,33.9 428.6,34.1 429.7,33.8 430.7,34.5 431.7,34.9 432.7,34.7 433.7,35.2 434.7,34.3 435.8,34 436.8,35.2 437.8,35.4 438.8,35.7 439.8,34.9 440.8,36 441.9,35.9 442.9,36.3 443.9,35.6 444.9,36.2 445.9,36.6 446.9,36.6 448,36.1 449,36.7 450,37 451,36.8 452,36.6 453,36.7 454,37.4 455,37.5 456,38.2 457,37.9 458,38 459,38 460,37.8 461,37.6 462,38.9 463,37.9 464,39 465,38.5 466,38.2 467,38.9 468,39.4 469,39.4 470,38.8 471,39.9 472,39.5 473,39.5 474,39.5 475,40.4 476,40.1 477,40.3 478,40.3 479,40.9 480,39.4 481,41.2 482,40.9 483,38.4 484,41.2 485,41.1 486,41.6 487,39.3 488,39.9 489,41.6 490,42.2 491,42.3 492,42.2 493,40 494,42.4 495,42.2 496,42.9 497,42.6 498,43.2 499,43.2 500,43.7 501.1,43.7 502.1,44 503.1,43.3 504.1,43.6 505.1,44.4 506.1,44.2 507.1,42.2 508.1,44.1 509.1,45.4 510.1,45.6 511.1,44.5 512.1,45 513.1,44.8 514.1,45.4 515.1,45.4 516.1,45.6 517.1,45.7 518.1,45.3 519.1,46.9 520.1,45.9 521.2,46.7 522.2,46.3 523.2,47.2 524.2,47.1 525.2,47.2 526.2,45.3 527.2,45.9 528.2,47.5 529.2,46.8 530.2,47.8 531.2,48.3 530.2,48.9 529.2,48.5 528.2,49 527.2,48.7 526.2,49.6 525.2,52.2 524.2,51 523.1,49.8 522.1,51.7 521.1,51 520.1,52.7 519.1,51.5 518.1,52.1 517.1,52.4 516.1,52.8 515.1,53.4 514.1,52.9 513.1,53.3 512.1,52.5 511.1,53.4 510.1,53.8 509.1,54.3 508.1,54.3 507,54.3 506,55 505,55.3 504,57.1 503,55.7 502,55.5 501,56.6 500,56 499,56.7 498,56.7 497,56.9 496,57.5 495,58 494,57.2 493,58 492,58.8 491,58.1 490,59.3 489,59.3 488,59.9 487,60 486,61 485,60.6 484,60.9 483,60.4 482,61.3 481,60.9 480,61.9 479,63.6 478,62.5 477,62.5 476,63.2 475,62.9 474,62.8 473,63 472,63.5 471,63.9 470,64 469,66.2 468,64.6 467,65.2 466,64.8 465,65.3 464,67.3 463,66.4 462,66.3 461,66.8 460,67.3 459,67.4 458,67.3 457,67.1 456,67.8 455,67.9 454,70 453,68.3 452,69.2 451,69 450,69.7 449,69.2 448,69.2 447,70.5 446,69.5 445,70.1 444,70.4 443,71.3 442,70.4 441,71.4 440,72.3 439,71.9 438,72 437,72 436,71.6 435,72 434,72.5 433,72.4 432,74.7 431,74.7 430,72.9 429,74 428,73.2 427,73.4 426,74.5 425,74.2 424,74.9 423,74.8 422,76.1 421,74.8 420,74.9 419,75.1 418,74.3 417,73.9 416,73.8 415,73.8 414,74.2 413,76 412,73.4 411,73 410,72.5 409,72.4 408,73 407,71.7 406,74.1 405,71.5 404,70.9 403,71.2 402,70.5 401,71 400,70.5 399,70.5 398,70 397,69.7 396,70.3 395,69.6 394,69.7 393,69.1 392,69.3 391,69.4 390,70 389,68.4 388,67.8 387,67.9 386,68.4 385,67.1 384,67.5 383,67.1 382,67.6 381,66.5 380,68 379,66.5 378,65.9 377,66.6 376,65.7 375,65.6 374,65 373,66 372,65.2 371,67.1 370,64.5 369,64.2 368,63.9 367,64.8 366,64.2 365,63.2 364,63.7 363,63.7 362,63.7 361,62.4 360,62.8 359,62.3 358,62.3 357,62.4 356,61.6 355,62.2 354,62.1 353,61.3 352,61.7 351,61 350,61.3 349,60.4 348,60.4 347,60.7 346,60.5 345,59.3 344,60.3 343,59.2 342,59.5 341,60.1 340,58.7 339,59.1 338,59.2 337,58.9 336,58.6 335,59.9 334,57.5 333,57.3 332,57.9 331,56.8 330,56.9 329,56.5 328,56.8 327,56.5 326,56.2 325,55.9 324,55.3 323,55.1 322,55.2 321,56 320,55.4 319,54.9 318,54.2 317,54.3 316,54.3 315,53.7 314,53.4 313,53.4 312,52.7"/></clipPath>
<polygon points="311,53.4 312,53.2 313,52.8 314,52.4 315,52 316,52.4 317,52.4 318,51.9 319,50.7 320,51.3 321,51.1 322,50.1 323,50.1 324,49.5 325,49.5 326,49.2 327,49.2 328,49.5 329,46.5 330,49 331,48 332,48.7 333,47.8 334,47.6 335,48.2 336,47.6 337,46.8 338,47.5 339,46.2 340,47 341,44.6 342,45.6 343,45.4 344,45.6 345,45.6 346,44.8 347,45.2 348,45.3 349,44.8 350,44.5 351,43.5 352,43.4 353,44.3 354,43.6 355,43.5 356,43 357,40.3 358,42.6 359,42.1 360,42.9 361,42.1 362,42.3 363,41.8 364,41.7 365,41.5 366,40.8 367,41.3 368,41.2 369,40.1 370,40 371,40.1 372,37 373,40.2 374,39.7 375,39.2 376,38.5 377,38.8 378,38.2 379,38.2 380,38.4 381,38.2 382,37.4 383,37.3 384,37.5 385.1,37.2 386.1,37.2 387.1,37.3 388.1,37 389.1,36.2 390.1,36.9 391.1,36.5 392.1,36.5 393.2,36.3 394.2,33 395.2,36.1 396.2,34.8 397.2,34.9 398.2,35.5 399.2,35.4 400.2,33.8 401.2,34.2 402.3,34.4 403.3,34.3 404.3,33.9 405.3,33.6 406.3,33.8 407.3,33.2 408.3,33.7 409.3,32.7 410.4,32.8 411.4,32.6 412.4,32.7 413.4,31.3 414.4,32.6 415.4,32.1 416.4,32.4 417.5,32.8 418.5,32.7 419.5,32.7 420.5,33.5 421.5,32.9 422.5,33.4 423.6,34.1 424.6,34 425.6,33.2 426.6,34.4 427.6,33.9 428.6,34.1 429.7,33.8 430.7,34.5 431.7,34.9 432.7,34.7 433.7,35.2 434.7,34.3 435.8,34 436.8,35.2 437.8,35.4 438.8,35.7 439.8,34.9 440.8,36 441.9,35.9 442.9,36.3 443.9,35.6 444.9,36.2 445.9,36.6 446.9,36.6 448,36.1 449,36.7 450,37 451,36.8 452,36.6 453,36.7 454,37.4 455,37.5 456,38.2 457,37.9 458,38 459,38 460,37.8 461,37.6 462,38.9 463,37.9 464,39 465,38.5 466,38.2 467,38.9 468,39.4 469,39.4 470,38.8 471,39.9 472,39.5 473,39.5 474,39.5 475,40.4 476,40.1 477,40.3 478,40.3 479,40.9 480,39.4 481,41.2 482,40.9 483,38.4 484,41.2 485,41.1 486,41.6 487,39.3 488,39.9 489,41.6 490,42.2 491,42.3 492,42.2 493,40 494,42.4 495,42.2 496,42.9 497,42.6 498,43.2 499,43.2 500,43.7 501.1,43.7 502.1,44 503.1,43.3 504.1,43.6 505.1,44.4 506.1,44.2 507.1,42.2 508.1,44.1 509.1,45.4 510.1,45.6 511.1,44.5 512.1,45 513.1,44.8 514.1,45.4 515.1,45.4 516.1,45.6 517.1,45.7 518.1,45.3 519.1,46.9 520.1,45.9 521.2,46.7 522.2,46.3 523.2,47.2 524.2,47.1 525.2,47.2 526.2,45.3 527.2,45.9 528.2,47.5 529.2,46.8 530.2,47.8 531.2,48.3 530.2,48.9 529.2,48.5 528.2,49 527.2,48.7 526.2,49.6 525.2,52.2 524.2,51 523.1,49.8 522.1,51.7 521.1,51 520.1,52.7 519.1,51.5 518.1,52.1 517.1,52.4 516.1,52.8 515.1,53.4 514.1,52.9 513.1,53.3 512.1,52.5 511.1,53.4 510.1,53.8 509.1,54.3 508.1,54.3 507,54.3 506,55 505,55.3 504,57.1 503,55.7 502,55.5 501,56.6 500,56 499,56.7 498,56.7 497,56.9 496,57.5 495,58 494,57.2 493,58 492,58.8 491,58.1 490,59.3 489,59.3 488,59.9 487,60 486,61 485,60.6 484,60.9 483,60.4 482,61.3 481,60.9 480,61.9 479,63.6 478,62.5 477,62.5 476,63.2 475,62.9 474,62.8 473,63 472,63.5 471,63.9 470,64 469,66.2 468,64.6 467,65.2 466,64.8 465,65.3 464,67.3 463,66.4 462,66.3 461,66.8 460,67.3 459,67.4 458,67.3 457,67.1 456,67.8 455,67.9 454,70 453,68.3 452,69.2 451,69 450,69.7 449,69.2 448,69.2 447,70.5 446,69.5 445,70.1 444,70.4 443,71.3 442,70.4 441,71.4 440,72.3 439,71.9 438,72 437,72 436,71.6 435,72 434,72.5 433,72.4 432,74.7 431,74.7 430,72.9 429,74 428,73.2 427,73.4 426,74.5 425,74.2 424,74.9 423,74.8 422,76.1 421,74.8 420,74.9 419,75.1 418,74.3 417,73.9 416,73.8 415,73.8 414,74.2 413,76 412,73.4 411,73 410,72.5 409,72.4 408,73 407,71.7 406,74.1 405,71.5 404,70.9 403,71.2 402,70.5 401,71 400,70.5 399,70.5 398,70 397,69.7 396,70.3 395,69.6 394,69.7 393,69.1 392,69.3 391,69.4 390,70 389,68.4 388,67.8 387,67.9 386,68.4 385,67.1 384,67.5 383,67.1 382,67.6 381,66.5 380,68 379,66.5 378,65.9 377,66.6 376,65.7 375,65.6 374,65 373,66 372,65.2 371,67.1 370,64.5 369,64.2 368,63.9 367,64.8 366,64.2 365,63.2 364,63.7 363,63.7 362,63.7 361,62.4 360,62.8 359,62.3 358,62.3 357,62.4 356,61.6 355,62.2 354,62.1 353,61.3 352,61.7 351,61 350,61.3 349,60.4 348,60.4 347,60.7 346,60.5 345,59.3 344,60.3 343,59.2 342,59.5 341,60.1 340,58.7 339,59.1 338,59.2 337,58.9 336,58.6 335,59.9 334,57.5 333,57.3 332,57.9 331,56.8 330,56.9 329,56.5 328,56.8 327,56.5 326,56.2 325,55.9 324,55.3 323,55.1 322,55.2 321,56 320,55.4 319,54.9 318,54.2 317,54.3 316,54.3 315,53.7 314,53.4 313,53.4 312,52.7" fill="#ffd820"/>
<g clip-path="url(#c2)">
<polygon points="305.5,52.3 426.5,76.4 429.2,75.7 308.1,51.8" fill="#dbed2f"/>
<polygon points="307.6,51.9 428.8,75.8 431.5,75.1 310.2,51.4" fill="#e1ec2d"/>
<polygon points="309.8,51.5 431.1,75.3 433.9,74.6 312.4,50.9" fill="#e6eb2b"/>
<polygon points="311.9,51 433.4,74.7 436.2,74 314.5,50.5" fill="#ecea2a"/>
<polygon points="314.1,50.6 435.7,74.1 438.5,73.4 316.6,50.1" fill="#f2e928"/>
<polygon points="316.2,50.2 438,73.6 440.8,72.9 318.8,49.7" fill="#f7e826"/>
<polygon points="318.4,49.7 440.3,73 443.1,72.3 320.9,49.2" fill="#f8e726"/>
<polygon points="320.5,49.3 442.6,72.4 445.4,71.7 323.1,48.8" fill="#f9e625"/>
<polygon points="322.7,48.9 444.9,71.8 447.7,71.2 325.2,48.4" fill="#f9e525"/>
<polygon points="324.8,48.5 447.2,71.3 450,70.6 327.4,48" fill="#fae325"/>
<polygon points="327,48 449.5,70.7 452.3,70 329.5,47.5" fill="#fbd923"/>
<polygon points="329.1,47.6 451.8,70.1 454.6,69.5 331.7,47.1" fill="#fcce20"/>
<polygon points="331.3,47.2 454.1,69.6 456.9,68.9 333.8,46.7" fill="#fcce20"/>
<polygon points="333.4,46.8 456.4,69 459.2,68.3 336,46.2" fill="#fcd923"/>
<polygon points="335.6,46.3 458.7,68.4 461.5,67.8 338.1,45.8" fill="#fddd23"/>
<polygon points="337.7,45.9 461,67.9 463.8,67.2 340.3,45.4" fill="#fddc23"/>
<polygon points="339.9,45.5 463.3,67.3 466.1,66.6 342.4,45" fill="#fedb23"/>
<polygon points="342,45 465.6,66.7 468.4,66 344.6,44.5" fill="#feda22"/>
<polygon points="344.1,44.6 468,66.2 470.7,65.5 346.7,44.1" fill="#ffce1f"/>
<polygon points="346.3,44.2 470.3,65.6 473,64.9 348.9,43.7" fill="#ffb61a"/>
<polygon points="348.4,43.8 472.6,65 475.3,64.3 351,43.3" fill="#ffad18"/>
<polygon points="350.6,43.3 474.9,64.4 477.6,63.8 353.1,42.8" fill="#ffb219"/>
<polygon points="352.7,42.9 477.2,63.9 479.9,63.2 355.3,42.4" fill="#ffc31d"/>
<polygon points="354.9,42.5 479.5,63.3 482.2,62.6 357.4,42" fill="#ffce20"/>
<polygon points="357,42.1 481.8,62.7 484.5,62.1 359.6,41.6" fill="#ffcc1f"/>
<polygon points="359.2,41.6 484.1,62.2 486.8,61.5 361.7,41.1" fill="#ffca1e"/>
<polygon points="361.3,41.2 486.4,61.6 489.1,60.9 363.9,40.7" fill="#ffc01c"/>
<polygon points="363.5,40.8 488.7,61 491.4,60.4 366,40.3" fill="#ff9f14"/>
<polygon points="365.6,40.4 491,60.5 493.7,59.8 368.2,39.8" fill="#ff8d10"/>
<polygon points="367.8,39.9 493.3,59.9 496,59.2 370.3,39.4" fill="#ff8a10"/>
<polygon points="369.9,39.5 495.6,59.3 498.3,58.6 372.5,39" fill="#ff9412"/>
<polygon points="372.1,39.1 497.9,58.8 500.6,58.1 374.6,38.6" fill="#ffaa17"/>
<polygon points="374.2,38.6 500.2,58.2 502.9,57.5 376.8,38.1" fill="#ffba1b"/>
<polygon points="376.4,38.2 502.5,57.6 505.2,56.9 378.9,37.7" fill="#ffb81a"/>
<polygon points="378.5,37.8 504.8,57.1 507.5,56.4 381.1,37.3" fill="#ffb619"/>
<polygon points="380.6,37.4 507.1,56.5 509.8,55.8 383.2,36.9" fill="#ff9913"/>
<polygon points="382.8,36.9 509.4,55.9 512.2,55.2 385.4,36.4" fill="#ff830e"/>
<polygon points="384.9,36.5 511.7,55.3 514.5,54.7 387.5,36" fill="#ff790b"/>
<polygon points="387.1,36.1 514,54.8 516.8,54.1 389.6,35.6" fill="#ff7a0c"/>
<polygon points="389.2,35.7 516.3,54.2 519.1,53.5 391.8,35.1" fill="#ff860e"/>
<polygon points="391.4,35.2 518.6,53.6 521.4,53 393.9,34.7" fill="#ff9a12"/>
<polygon points="393.5,34.8 520.9,53.1 523.7,52.4 396.1,34.3" fill="#ffa414"/>
<polygon points="395.7,34.4 523.2,52.5 526,51.8 398.2,33.9" fill="#ffa214"/>
<polygon points="397.8,33.9 525.5,51.9 528.3,51.3 400.4,33.4" fill="#ff9010"/>
<polygon points="400,33.5 527.8,51.4 530.6,50.7 402.5,33" fill="#ff7d0c"/>
<polygon points="402.1,33.1 530.1,50.8 532.9,50.1 404.7,32.6" fill="#ff740a"/>
<polygon points="404.3,32.7 532.4,50.2 535.2,49.5 406.8,32.2" fill="#ff720a"/>
<polygon points="406.4,32.2 534.7,49.7 537.5,49 409,31.7" fill="#ff770b"/>
<polygon points="391.4,71.8 510.9,43.6 548.4,48.5 426.5,78.9" fill="#ffe222" opacity="0.3"/>
<polygon points="401.2,73.8 521.5,44.9 548.4,48.5 426.5,78.9" fill="#fbe824" opacity="0.45"/>
<polygon points="408.9,75.3 529.7,46 548.4,48.5 426.5,78.9" fill="#e6ee2c" opacity="0.55"/>
<rect x="394.6" y="40.3" width="1.6" height="1" fill="#ff8c12"/>
<rect x="420.9" y="40.9" width="1.9" height="0.9" fill="#ff8c12"/>
<rect x="434.3" y="36.8" width="1.1" height="1.4" fill="#ff6c0e"/>
<rect x="488.8" y="56" width="2.1" height="1.1" fill="#ffc81c"/>
<rect x="376.8" y="50.6" width="1" height="1.3" fill="#ffe424"/>
<rect x="391.6" y="40.9" width="2" height="0.9" fill="#ffb018"/>
<rect x="444" y="49.8" width="1.9" height="1.2" fill="#ffe424"/>
<rect x="417.9" y="41.2" width="0.9" height="1.4" fill="#ff7a10"/>
<rect x="481.8" y="49.5" width="1.3" height="0.8" fill="#ff8010"/>
<rect x="403.5" y="65.9" width="2.1" height="1" fill="#ffc81c"/>
<rect x="447.8" y="51.7" width="1.1" height="0.9" fill="#ffc81c"/>
<rect x="473.4" y="48.5" width="1.8" height="1.2" fill="#ff7a10"/>
<rect x="431.3" y="65.5" width="0.9" height="0.9" fill="#ff8010"/>
<rect x="407.1" y="60.1" width="0.9" height="0.6" fill="#ff8010"/>
<rect x="349.8" y="54.2" width="1.9" height="1.1" fill="#ffc81c"/>
<rect x="483.7" y="57.3" width="1.7" height="1.2" fill="#ffe424"/>
<rect x="385.9" y="56.9" width="2.2" height="0.7" fill="#fff030"/>
<rect x="465.5" y="48.8" width="1.7" height="0.6" fill="#ff6c0e"/>
<rect x="348.7" y="50.6" width="2" height="0.9" fill="#ffe424"/>
<rect x="454" y="41.2" width="1.7" height="0.8" fill="#ffb018"/>
<rect x="405.2" y="48.9" width="2.2" height="1.2" fill="#ffc81c"/>
<rect x="482.8" y="52.4" width="1.6" height="1.2" fill="#ffc81c"/>
<rect x="407.3" y="63" width="1" height="1.3" fill="#ffd820"/>
<rect x="393" y="67.7" width="1.1" height="0.7" fill="#d8f030"/>
<rect x="419" y="41.2" width="1.1" height="0.9" fill="#ff7a10"/>
<rect x="391" y="65" width="1.9" height="1.2" fill="#f4ee28"/>
<rect x="362.6" y="53.4" width="1" height="1.2" fill="#ffc81c"/>
<rect x="398.5" y="41.2" width="1.6" height="0.9" fill="#ff6c0e"/>
<rect x="458.7" y="45.7" width="1.8" height="0.7" fill="#ff8c12"/>
<rect x="510.2" y="46.3" width="1" height="0.9" fill="#ffe424"/>
<rect x="371.5" y="50" width="1.3" height="0.7" fill="#fff030"/>
<rect x="450.9" y="66.2" width="1.5" height="0.9" fill="#80e634"/>
<rect x="336.4" y="51.4" width="1.5" height="1.3" fill="#ffd820"/>
<rect x="428.3" y="61.2" width="1.5" height="1" fill="#ff8010"/>
<rect x="391.1" y="60.7" width="1.8" height="1.2" fill="#ff9414"/>
<rect x="483.6" y="44.5" width="0.9" height="1.3" fill="#ff8c12"/>
<rect x="357.2" y="61.5" width="1.1" height="1.2" fill="#d8f030"/>
<rect x="505.7" y="51.2" width="2" height="1.3" fill="#f4ee28"/>
<rect x="365.5" y="50.3" width="1.1" height="0.7" fill="#fff030"/>
<rect x="503.5" y="47.8" width="0.9" height="1.1" fill="#ff9414"/>
<rect x="469.6" y="55.1" width="2.2" height="1" fill="#ff9414"/>
<rect x="380.5" y="46" width="1.7" height="0.7" fill="#e4f030"/>
<rect x="350" y="51.5" width="0.9" height="0.6" fill="#ffc81c"/>
<rect x="378" y="47.9" width="0.8" height="1.1" fill="#ff9414"/>
<rect x="456.3" y="44.6" width="1.8" height="1.1" fill="#ff7a10"/>
<rect x="392.8" y="51.2" width="2.2" height="0.8" fill="#ff8010"/>
<rect x="429.5" y="44.9" width="1.8" height="1.1" fill="#ff6c0e"/>
<rect x="420.9" y="54" width="2.3" height="1.4" fill="#ffc81c"/>
<rect x="513.4" y="51.5" width="0.9" height="1.3" fill="#ffc81c"/>
<rect x="423.8" y="44.1" width="1.7" height="1.5" fill="#ff6c0e"/>
<rect x="434" y="55.6" width="1.6" height="1.2" fill="#fff030"/>
<rect x="424.5" y="39.5" width="0.9" height="1.2" fill="#ffb018"/>
<rect x="414.8" y="57" width="1.2" height="1" fill="#e4f030"/>
<rect x="363.4" y="52.6" width="1.6" height="0.7" fill="#ffe424"/>
<rect x="429.5" y="39.7" width="1.8" height="1.2" fill="#ff6c0e"/>
<rect x="385.6" y="58.1" width="1" height="1.1" fill="#ff8010"/>
<rect x="381" y="42.6" width="2" height="0.7" fill="#ff9414"/>
<rect x="420.6" y="52.5" width="1.7" height="1.5" fill="#ff9414"/>
<rect x="416.5" y="51.3" width="1.1" height="1.5" fill="#e4f030"/>
<rect x="457.4" y="56" width="1.7" height="1" fill="#ffd820"/>
<rect x="320.5" y="53.3" width="1.5" height="0.7" fill="#ffe424"/>
<rect x="425.8" y="69.7" width="1.6" height="1.4" fill="#ffe424"/>
<rect x="420.5" y="38.1" width="2" height="1.3" fill="#ffc81c"/>
<rect x="340.3" y="58.7" width="1.9" height="1.5" fill="#ffc81c"/>
<rect x="390.6" y="39.1" width="1.3" height="0.9" fill="#ff7a10"/>
<rect x="377.3" y="41.5" width="1.2" height="0.8" fill="#ff8c12"/>
<rect x="451.9" y="60.1" width="2" height="1" fill="#ff9414"/>
<rect x="347.2" y="57.4" width="2.1" height="1.2" fill="#d8f030"/>
<rect x="465.5" y="45.8" width="1.9" height="0.8" fill="#ffb018"/>
<rect x="359.7" y="44.6" width="1.6" height="1.4" fill="#ffc81c"/>
<rect x="397.9" y="37.4" width="1.8" height="1" fill="#ffb018"/>
<rect x="378.1" y="46.5" width="1.1" height="1.5" fill="#ffc81c"/>
<rect x="405.4" y="49.4" width="2.1" height="1.1" fill="#fff030"/>
<rect x="334.2" y="56.2" width="1.3" height="1" fill="#80e634"/>
<rect x="444.5" y="39" width="1.3" height="0.6" fill="#ffe424"/>
<rect x="470.1" y="62.6" width="1.9" height="0.7" fill="#ffe424"/>
<rect x="357.9" y="46.6" width="1.7" height="1.1" fill="#fff030"/>
<rect x="525.5" y="49.3" width="2.2" height="0.7" fill="#ffc81c"/>
<rect x="379.1" y="58.1" width="1.3" height="0.9" fill="#ff9414"/>
<rect x="494" y="51.7" width="0.9" height="1.5" fill="#ff8010"/>
<rect x="387" y="53.5" width="1.3" height="1.1" fill="#ffe424"/>
<rect x="359.8" y="46.1" width="2.1" height="1.3" fill="#fff030"/>
<rect x="464.5" y="59.7" width="1" height="0.8" fill="#fff030"/>
<rect x="480.8" y="45.9" width="1.7" height="0.9" fill="#ffe424"/>
<rect x="335.8" y="51.3" width="1.2" height="1.1" fill="#fff030"/>
<rect x="489.7" y="56.9" width="1.7" height="0.7" fill="#ffe424"/>
<rect x="394" y="61.8" width="2.3" height="1.2" fill="#fff030"/>
<rect x="491.5" y="54.5" width="2.1" height="0.8" fill="#d8f030"/>
<rect x="340.2" y="48.5" width="1.2" height="0.6" fill="#fff030"/>
<rect x="365.3" y="62.1" width="2.1" height="1.2" fill="#d8f030"/>
<rect x="413" y="64.5" width="0.9" height="0.7" fill="#e4f030"/>
<rect x="461.9" y="46.1" width="1.1" height="1.1" fill="#ff7a10"/>
<rect x="475.7" y="45.7" width="1.3" height="1.4" fill="#ff8c12"/>
<rect x="367.4" y="63.4" width="1.1" height="1.4" fill="#d8f030"/>
<rect x="403.4" y="38.3" width="2.3" height="1" fill="#ffe424"/>
<rect x="509.9" y="47.9" width="1.6" height="1.5" fill="#fff030"/>
<rect x="384.6" y="65.5" width="1" height="0.6" fill="#d8f030"/>
<rect x="391.8" y="59.9" width="2" height="1" fill="#fff030"/>
<rect x="433.6" y="53.1" width="2.3" height="1.1" fill="#ff8010"/>
<rect x="403.8" y="61.3" width="1.9" height="1.3" fill="#ffc81c"/>
<rect x="429.6" y="62.4" width="1.6" height="0.9" fill="#ffc81c"/>
<rect x="396.9" y="47.5" width="1.5" height="1.2" fill="#e4f030"/>
<rect x="432.8" y="43.5" width="1.4" height="1.5" fill="#ff8c12"/>
<rect x="480.6" y="44" width="1.6" height="1.1" fill="#ff6c0e"/>
<rect x="434.3" y="69.1" width="2.2" height="1.4" fill="#ffe424"/>
<rect x="489.7" y="48.5" width="2" height="0.8" fill="#fff030"/>
<rect x="470.8" y="40.9" width="2.2" height="1" fill="#ffc81c"/>
<rect x="420.9" y="65.2" width="1.9" height="0.7" fill="#ff8010"/>
<rect x="423.7" y="47.2" width="1.1" height="0.9" fill="#ff7a10"/>
<rect x="448.4" y="40.6" width="0.8" height="0.6" fill="#ff8c12"/>
<rect x="412.1" y="42.9" width="1.9" height="1.2" fill="#ffc81c"/>
<rect x="453.3" y="67.1" width="2" height="1" fill="#ffc81c"/>
<rect x="497.1" y="46.4" width="2" height="0.9" fill="#ffe424"/>
<rect x="399.8" y="56.1" width="1.3" height="1.1" fill="#ffe424"/>
<rect x="434.6" y="36.9" width="2.1" height="1.3" fill="#ff8c12"/>
<rect x="401.2" y="69.2" width="2.1" height="1.5" fill="#80e634"/>
<rect x="344.5" y="47.7" width="1" height="0.9" fill="#ff9414"/>
<rect x="402.9" y="49.6" width="1.8" height="0.7" fill="#ffc81c"/>
<rect x="449.3" y="64.5" width="2.3" height="0.6" fill="#d8f030"/>
<rect x="423.7" y="64.7" width="1" height="1.1" fill="#ff9414"/>
<rect x="450" y="54.2" width="2.3" height="0.9" fill="#ff9414"/>
<rect x="415.8" y="37.1" width="1.6" height="0.6" fill="#ff8c12"/>
<rect x="394.4" y="59.8" width="1.6" height="0.7" fill="#e4f030"/>
<rect x="403.3" y="55.8" width="2.3" height="1.4" fill="#fff030"/>
<rect x="437.6" y="36.7" width="1.1" height="0.8" fill="#ffb018"/>
<rect x="322.9" y="52.9" width="2" height="1.5" fill="#80e634"/>
<rect x="375" y="54.4" width="1.6" height="1.1" fill="#ffc81c"/>
<rect x="495" y="56.4" width="1.2" height="1" fill="#f4ee28"/>
<rect x="410.4" y="49.3" width="1.4" height="1" fill="#ffd820"/>
<rect x="436.6" y="71.4" width="1.6" height="1.5" fill="#ffc81c"/>
<rect x="466.5" y="51.8" width="1.1" height="0.7" fill="#ffd820"/>
<rect x="488.9" y="48.9" width="1.4" height="1.1" fill="#ff9414"/>
<rect x="432.5" y="47" width="2.3" height="0.6" fill="#ffe424"/>
<rect x="486.4" y="52.6" width="1.6" height="0.9" fill="#e4f030"/>
<rect x="487.8" y="49.5" width="1.9" height="1" fill="#fff030"/>
<rect x="435" y="53.9" width="0.9" height="1.3" fill="#fff030"/>
<rect x="485.5" y="56" width="2.2" height="1" fill="#d8f030"/>
<rect x="445.6" y="47.5" width="2.3" height="0.7" fill="#ff8c12"/>
<rect x="431.2" y="43.9" width="2" height="0.8" fill="#ff8c12"/>
<rect x="420.2" y="66.9" width="2.2" height="1.4" fill="#ff8010"/>
<rect x="482.6" y="56.1" width="2" height="1.3" fill="#d8f030"/>
<rect x="340.8" y="54.1" width="1.3" height="1.2" fill="#ff9414"/>
<rect x="399.4" y="48.2" width="1.4" height="1.5" fill="#fff030"/>
<rect x="434.4" y="46.8" width="1.9" height="0.7" fill="#ff8c12"/>
<rect x="423.4" y="45.7" width="1.7" height="1.1" fill="#ff8c12"/>
<rect x="423.1" y="41" width="1.7" height="0.7" fill="#ff7a10"/>
<rect x="409.3" y="64.6" width="1.2" height="0.8" fill="#fff030"/>
<rect x="415.6" y="54.4" width="1.1" height="1" fill="#ff9414"/>
<rect x="464.2" y="47.4" width="1.9" height="0.9" fill="#ff7a10"/>
<rect x="398.4" y="68.8" width="1.8" height="1.3" fill="#80e634"/>
<rect x="390.7" y="53.7" width="1.1" height="1.5" fill="#e4f030"/>
<rect x="427.4" y="45.1" width="2.1" height="0.7" fill="#ffc81c"/>
<rect x="401.5" y="51.7" width="1.9" height="0.6" fill="#ff8010"/>
<rect x="425" y="49.5" width="1.5" height="1.5" fill="#ffd820"/>
<rect x="336.5" y="51.1" width="1.6" height="1.3" fill="#ffe424"/>
<rect x="465.1" y="52.6" width="2.2" height="0.9" fill="#ff9414"/>
<rect x="388.6" y="54.2" width="1.1" height="0.7" fill="#ff9414"/>
<rect x="407.3" y="38.1" width="1.6" height="0.6" fill="#ff8c12"/>
<rect x="462.9" y="51.8" width="1.6" height="1.3" fill="#ff9414"/>
<rect x="414.5" y="38.2" width="2.1" height="0.7" fill="#ff7a10"/>
<rect x="403.8" y="56.7" width="1.2" height="0.8" fill="#e4f030"/>
<rect x="372" y="52" width="1.4" height="1.4" fill="#e4f030"/>
<rect x="416.6" y="44.7" width="2" height="1.4" fill="#ffe424"/>
<rect x="360.2" y="52.2" width="1.8" height="1.4" fill="#e4f030"/>
<rect x="460.1" y="52.4" width="1.3" height="1" fill="#ffd820"/>
<rect x="460.3" y="50.3" width="1.6" height="1" fill="#ff7a10"/>
<rect x="406.2" y="47.6" width="1.5" height="0.8" fill="#ffd820"/>
<rect x="441.1" y="69.1" width="2.2" height="1" fill="#80e634"/>
<rect x="408.5" y="36.1" width="1" height="0.7" fill="#ffb018"/>
<rect x="496.4" y="48.5" width="2.2" height="1.1" fill="#ff9414"/>
<rect x="451.3" y="45.2" width="1.9" height="1.3" fill="#ffb018"/>
<rect x="384.3" y="45.2" width="1.1" height="0.7" fill="#ff8010"/>
<rect x="407.6" y="68.1" width="1.1" height="1.4" fill="#80e634"/>
<rect x="434.8" y="46.5" width="2.2" height="0.7" fill="#ff7a10"/>
<rect x="377.1" y="59.4" width="1.7" height="0.9" fill="#ffd820"/>
<rect x="386.5" y="44.6" width="1.6" height="0.8" fill="#fff030"/>
<rect x="486.2" y="44.4" width="1.3" height="0.7" fill="#ff7a10"/>
<rect x="414.4" y="60.5" width="1.5" height="1.3" fill="#ffe424"/>
<rect x="432.1" y="57.5" width="1.3" height="1.2" fill="#ffd820"/>
<rect x="405.9" y="62.5" width="1.2" height="0.9" fill="#ff9414"/>
<rect x="445.7" y="46.4" width="1.1" height="0.9" fill="#ff7a10"/>
<rect x="407.8" y="58.8" width="1" height="0.8" fill="#ffe424"/>
<rect x="501.5" y="48.7" width="0.8" height="1.1" fill="#fff030"/>
<rect x="451.2" y="38.8" width="1.3" height="0.8" fill="#ffb018"/>
<rect x="401.3" y="55.6" width="1.1" height="1.3" fill="#fff030"/>
<rect x="349.6" y="48.6" width="1.9" height="0.7" fill="#ff9414"/>
<rect x="371.4" y="58.3" width="1.6" height="0.7" fill="#ff9414"/>
<rect x="393" y="42.3" width="0.9" height="1.3" fill="#ffc81c"/>
<rect x="428.3" y="44.4" width="1.3" height="1.4" fill="#ff7a10"/>
<rect x="457" y="43.1" width="1" height="0.8" fill="#ff7a10"/>
<rect x="356.9" y="55.9" width="1.5" height="0.7" fill="#fff030"/>
<rect x="424" y="51.7" width="1.2" height="1.1" fill="#ffe424"/>
<rect x="519.2" y="47.2" width="1.6" height="1.4" fill="#ffc81c"/>
<rect x="416.4" y="73.7" width="1.7" height="1.2" fill="#f4ee28"/>
<rect x="418.4" y="64" width="2.3" height="1" fill="#fff030"/>
<rect x="388.1" y="42.4" width="0.9" height="1.1" fill="#ff7a10"/>
<rect x="401.6" y="60.7" width="2" height="1.3" fill="#ff8010"/>
<rect x="355.8" y="59.1" width="1.7" height="1.2" fill="#ffe424"/>
<rect x="434.8" y="42.2" width="1.7" height="0.8" fill="#ffe424"/>
<rect x="448.3" y="65.4" width="0.9" height="0.8" fill="#b4ec30"/>
<rect x="464.9" y="49.9" width="2" height="0.8" fill="#ffc81c"/>
<rect x="486.4" y="45.3" width="2.3" height="1.3" fill="#ff7a10"/>
<rect x="416.9" y="52.8" width="1.9" height="1.2" fill="#ff9414"/>
<rect x="401.2" y="62.2" width="1.4" height="1.2" fill="#ffd820"/>
<rect x="479.4" y="42.4" width="1.8" height="1.3" fill="#ffe424"/>
<rect x="416.8" y="68" width="1.9" height="1.3" fill="#ff9414"/>
<rect x="462.1" y="46.7" width="2" height="1.4" fill="#ffb018"/>
<rect x="449.6" y="66.4" width="1" height="1.5" fill="#f4ee28"/>
<rect x="421.5" y="41.3" width="1.2" height="1.1" fill="#ff8c12"/>
<rect x="469" y="57.9" width="2.1" height="0.6" fill="#ff8010"/>
<rect x="424.8" y="46.6" width="2" height="1" fill="#ffc81c"/>
<rect x="392.2" y="65.5" width="1.8" height="1.4" fill="#d8f030"/>
<rect x="389.5" y="50.4" width="0.8" height="0.7" fill="#e4f030"/>
<rect x="443.4" y="43.6" width="1" height="1.1" fill="#ffe424"/>
<rect x="363.1" y="60.1" width="1.2" height="0.7" fill="#b4ec30"/>
<rect x="417.4" y="61.9" width="1.6" height="0.8" fill="#ff8010"/>
<rect x="403.3" y="61.8" width="1.4" height="0.9" fill="#ffe424"/>
<rect x="345.2" y="53.8" width="1.7" height="1.4" fill="#ffd820"/>
<rect x="408.1" y="54.9" width="2" height="1.1" fill="#e4f030"/>
<rect x="511.7" y="51.6" width="0.8" height="0.8" fill="#b4ec30"/>
<rect x="461.6" y="41" width="1.9" height="1.2" fill="#ffc81c"/>
<rect x="498.5" y="44.5" width="1.4" height="1.4" fill="#ff8010"/>
<rect x="480.8" y="45.7" width="1.3" height="0.8" fill="#ff6c0e"/>
<rect x="375.8" y="53.4" width="1.4" height="1.1" fill="#ff8010"/>
<rect x="484.9" y="55.4" width="1.8" height="0.6" fill="#d8f030"/>
<rect x="504.5" y="49.8" width="1.5" height="1.3" fill="#ffc81c"/>
<rect x="487.7" y="46.8" width="2.2" height="1" fill="#ff9414"/>
<rect x="414.8" y="73.7" width="1.7" height="1.1" fill="#ffe424"/>
<rect x="359.1" y="60.9" width="2.3" height="1.2" fill="#f4ee28"/>
<rect x="422.3" y="64.1" width="2.3" height="1.2" fill="#e4f030"/>
<rect x="472.3" y="48.1" width="1.3" height="1.4" fill="#ffb018"/>
<rect x="438" y="63.2" width="2" height="0.9" fill="#ff9414"/>
<rect x="382.7" y="61.3" width="1.3" height="1.1" fill="#ffe424"/>
<rect x="485.5" y="55.3" width="2" height="0.9" fill="#80e634"/>
<rect x="414" y="43.8" width="1.1" height="0.9" fill="#ffe424"/>
<rect x="368.6" y="46.4" width="1.3" height="1.3" fill="#ffc81c"/>
<rect x="372.6" y="45.7" width="1.5" height="1.4" fill="#e4f030"/>
<rect x="465.9" y="54.1" width="1.2" height="1.1" fill="#ffe424"/>
<rect x="476.5" y="54.7" width="1.2" height="0.9" fill="#ff9414"/>
<rect x="467.4" y="42.9" width="1" height="1" fill="#ffb018"/>
<rect x="370.8" y="64.8" width="1.3" height="1.4" fill="#d8f030"/>
<rect x="365.7" y="52.8" width="0.9" height="1.1" fill="#e4f030"/>
<rect x="493.1" y="50.2" width="1" height="0.8" fill="#fff030"/>
<rect x="471.1" y="51.3" width="1.4" height="1.4" fill="#ffc81c"/>
<rect x="427.1" y="43.9" width="1.3" height="0.8" fill="#ffc81c"/>
<rect x="462.8" y="44" width="2.2" height="0.9" fill="#ffb018"/>
<rect x="409" y="63" width="1.6" height="1.4" fill="#ff9414"/>
<rect x="446.2" y="49.8" width="1.9" height="1.3" fill="#ff6c0e"/>
<rect x="479" y="54.4" width="1.8" height="1.3" fill="#ffe424"/>
<rect x="464.6" y="59.9" width="2.3" height="1.4" fill="#ff8010"/>
<rect x="382.8" y="51.1" width="1.4" height="1.4" fill="#ff8010"/>
<rect x="473.2" y="52.1" width="1.2" height="0.8" fill="#e4f030"/>
<rect x="344.6" y="50.7" width="0.9" height="0.6" fill="#ffd820"/>
<rect x="378.3" y="44.9" width="0.8" height="1.2" fill="#ffe424"/>
<rect x="355.9" y="56.3" width="1.7" height="1.1" fill="#ffc81c"/>
<rect x="373.6" y="64.4" width="1.1" height="1.2" fill="#80e634"/>
<rect x="383.3" y="52.9" width="1.6" height="1.3" fill="#ffe424"/>
<rect x="449.1" y="67.2" width="0.8" height="1.3" fill="#f4ee28"/>
<rect x="369.5" y="63.8" width="2.2" height="0.8" fill="#b4ec30"/>
<rect x="332.7" y="53.9" width="1.4" height="1.2" fill="#ffc81c"/>
<rect x="408.5" y="36" width="1.3" height="1.5" fill="#ff6c0e"/>
<rect x="371.2" y="62.2" width="2.3" height="1.4" fill="#80e634"/>
<rect x="396.7" y="44" width="1.4" height="0.9" fill="#ff7a10"/>
<rect x="413" y="64.6" width="2" height="1.3" fill="#ffc81c"/>
<rect x="476.8" y="51.3" width="1.9" height="1.5" fill="#ffd820"/>
<rect x="497.4" y="54.2" width="1.7" height="0.6" fill="#f4ee28"/>
<rect x="394.6" y="54.3" width="1.9" height="1.2" fill="#ff8010"/>
<rect x="378" y="55.1" width="1.3" height="0.9" fill="#ff8010"/>
<rect x="403.7" y="66.9" width="2.1" height="1.3" fill="#ffc81c"/>
<rect x="369.6" y="45.9" width="1.3" height="1.4" fill="#ffe424"/>
<rect x="370.6" y="44.9" width="1.5" height="1.3" fill="#fff030"/>
<rect x="336.3" y="53" width="1.4" height="0.9" fill="#e4f030"/>
<rect x="486.2" y="56.5" width="2.2" height="1.5" fill="#d8f030"/>
<rect x="438.9" y="58.4" width="2.1" height="1" fill="#ffd820"/>
<rect x="337.6" y="52.9" width="1.4" height="0.6" fill="#e4f030"/>
<rect x="487.8" y="49.3" width="1.1" height="1.1" fill="#ff9414"/>
<rect x="505.3" y="48.3" width="2.1" height="1" fill="#e4f030"/>
<rect x="400.6" y="43.8" width="1.4" height="0.7" fill="#ffc81c"/>
<rect x="386.5" y="43.4" width="1.7" height="1.4" fill="#ffc81c"/>
<rect x="486.7" y="55.3" width="1.9" height="0.6" fill="#ffc81c"/>
<rect x="405" y="51.2" width="2.3" height="1.2" fill="#ff8010"/>
<rect x="459.2" y="60.4" width="2.2" height="1.1" fill="#ff9414"/>
<rect x="343.8" y="57.2" width="0.8" height="1.1" fill="#ffe424"/>
<rect x="413.9" y="41.8" width="0.9" height="0.7" fill="#ffb018"/>
<rect x="505.6" y="45.8" width="1.4" height="1.4" fill="#ff9414"/>
<rect x="500.6" y="45.8" width="1.8" height="1.4" fill="#e4f030"/>
<rect x="355.3" y="51" width="2.2" height="1.3" fill="#ffd820"/>
<rect x="413.4" y="36.6" width="1" height="1.1" fill="#ff6c0e"/>
<rect x="409.1" y="67.9" width="0.9" height="0.6" fill="#ff9414"/>
<rect x="387.8" y="41.4" width="1.7" height="1.3" fill="#ff6c0e"/>
<rect x="325" y="52.9" width="1.5" height="1.2" fill="#d8f030"/>
<rect x="392.6" y="45.6" width="2" height="1" fill="#e4f030"/>
<rect x="395.7" y="64.6" width="2.3" height="1.2" fill="#ffc81c"/>
<rect x="377.4" y="62.7" width="1.9" height="1.4" fill="#b4ec30"/>
<rect x="410.5" y="37.4" width="1.3" height="0.9" fill="#ffc81c"/>
<rect x="427.4" y="54" width="0.8" height="0.7" fill="#ffe424"/>
<rect x="399.5" y="65.7" width="1.4" height="1.5" fill="#e4f030"/>
<rect x="473.3" y="43.5" width="1.9" height="0.7" fill="#ffb018"/>
<rect x="319.7" y="54.2" width="1.8" height="1.4" fill="#f4ee28"/>
<rect x="454.7" y="61.3" width="1.5" height="1.2" fill="#fff030"/>
<rect x="370.7" y="54.3" width="1.4" height="0.7" fill="#fff030"/>
<rect x="433" y="69.8" width="1.9" height="1.4" fill="#80e634"/>
<rect x="501.7" y="44.6" width="0.8" height="1.1" fill="#ffe424"/>
<rect x="407.3" y="57.1" width="1.3" height="1.3" fill="#ffd820"/>
<rect x="493.7" y="52.5" width="1" height="0.6" fill="#e4f030"/>
<rect x="448.2" y="42.8" width="1.6" height="1.5" fill="#ff7a10"/>
<rect x="386.6" y="61.1" width="1.2" height="1.4" fill="#e4f030"/>
<rect x="467.7" y="42.4" width="0.9" height="0.8" fill="#ffb018"/>
<rect x="442.2" y="65.7" width="1.4" height="0.7" fill="#d8f030"/>
<rect x="480.1" y="43.5" width="1.8" height="1.3" fill="#ff8c12"/>
<rect x="417.5" y="42" width="0.9" height="1.4" fill="#ff7a10"/>
<rect x="448" y="51.1" width="1.7" height="1.2" fill="#ffb018"/>
<rect x="452.1" y="53.6" width="1.9" height="1.1" fill="#ff9414"/>
<rect x="326.8" y="53.5" width="1.5" height="1.5" fill="#f4ee28"/>
<rect x="413.4" y="43.9" width="2.1" height="0.8" fill="#ff8c12"/>
<rect x="430.3" y="58.7" width="2.1" height="1.4" fill="#ff8010"/>
<rect x="395.1" y="50" width="2" height="0.8" fill="#ffc81c"/>
<rect x="492.4" y="48.9" width="1.7" height="1.4" fill="#fff030"/>
<rect x="328.4" y="53.8" width="1.7" height="1.2" fill="#f4ee28"/>
<rect x="345.7" y="52.6" width="1.4" height="1.2" fill="#ff9414"/>
<rect x="395.3" y="45.7" width="1.2" height="1.4" fill="#ff9414"/>
<rect x="449.1" y="39.7" width="1" height="1.3" fill="#ff8c12"/>
<rect x="377.9" y="55.6" width="2.1" height="1.4" fill="#ff9414"/>
<rect x="412.7" y="65.8" width="1.1" height="0.8" fill="#ff9414"/>
<rect x="376.5" y="56.7" width="2.1" height="0.8" fill="#ff8010"/>
<rect x="322.7" y="55.4" width="1.2" height="0.6" fill="#d8f030"/>
<rect x="369.4" y="46.5" width="1.5" height="1" fill="#ff8010"/>
<rect x="465.7" y="60.8" width="1.5" height="0.7" fill="#80e634"/>
<rect x="357.9" y="59.7" width="1.6" height="0.7" fill="#d8f030"/>
<rect x="417" y="64" width="2.3" height="1.4" fill="#ffd820"/>
<rect x="356.6" y="46.7" width="1.2" height="0.8" fill="#ff9414"/>
<rect x="425" y="38.9" width="1.5" height="1.5" fill="#ffc81c"/>
<rect x="407.4" y="39.3" width="1.3" height="0.8" fill="#ffb018"/>
<rect x="420.9" y="46" width="1.5" height="0.8" fill="#ffe424"/>
<rect x="384" y="67.4" width="1.8" height="1.2" fill="#b4ec30"/>
<rect x="385.8" y="66.8" width="1.7" height="1.2" fill="#f4ee28"/>
<rect x="415.2" y="67.3" width="0.9" height="1.4" fill="#ff8010"/>
<rect x="453.4" y="51.3" width="1.7" height="1.4" fill="#ff7a10"/>
<rect x="343.5" y="56.3" width="2.3" height="1.4" fill="#80e634"/>
<rect x="377.7" y="53.4" width="1.4" height="1.2" fill="#ff9414"/>
<rect x="416.7" y="73.8" width="1.4" height="1.4" fill="#80e634"/>
<rect x="465.1" y="49.6" width="1.1" height="1" fill="#ff8c12"/>
<rect x="431" y="62.6" width="1.3" height="1" fill="#ffd820"/>
<rect x="421.6" y="59.5" width="2" height="0.8" fill="#fff030"/>
<rect x="415.5" y="38.6" width="1.5" height="1.1" fill="#ff6c0e"/>
<rect x="400.4" y="41" width="1.2" height="1" fill="#ff7a10"/>
<rect x="521.1" y="50.7" width="2.1" height="0.7" fill="#d8f030"/>
<rect x="353.9" y="52" width="2" height="0.8" fill="#ffc81c"/>
<rect x="395.3" y="45.6" width="1.2" height="1.4" fill="#ff8010"/>
<rect x="359" y="45.9" width="2.3" height="1.4" fill="#ff9414"/>
<rect x="401.5" y="68.1" width="1.4" height="1.1" fill="#ffe424"/>
<rect x="492.2" y="49.2" width="1.7" height="1" fill="#e4f030"/>
<rect x="422.8" y="53" width="2.1" height="1.5" fill="#fff030"/>
<rect x="339.4" y="51" width="1.4" height="1.4" fill="#e4f030"/>
<rect x="484.9" y="43.8" width="1.2" height="1.3" fill="#ff6c0e"/>
<rect x="390" y="39.8" width="1.8" height="1.3" fill="#ff8c12"/>
<rect x="364.3" y="63.6" width="2.2" height="1.4" fill="#f4ee28"/>
<rect x="395.8" y="49.9" width="0.9" height="1.5" fill="#ffc81c"/>
<rect x="412.7" y="49.5" width="1.1" height="1.3" fill="#ff8010"/>
<rect x="422.8" y="59" width="2.3" height="1.2" fill="#ffe424"/>
<rect x="415" y="37" width="1.7" height="1.2" fill="#ffe424"/>
<rect x="411" y="52.3" width="1.3" height="1.2" fill="#e4f030"/>
<rect x="376" y="47.7" width="1.8" height="1.3" fill="#ff9414"/>
<rect x="364.9" y="47.5" width="2.1" height="1.2" fill="#fff030"/>
<rect x="457.2" y="52.9" width="1.4" height="1.4" fill="#ffe424"/>
<rect x="396.8" y="42.8" width="2.1" height="1.4" fill="#ffe424"/>
<rect x="394.5" y="44.8" width="1.4" height="1.1" fill="#e4f030"/>
<rect x="402" y="70.1" width="1.8" height="0.6" fill="#b4ec30"/>
<rect x="364.4" y="54" width="0.8" height="0.7" fill="#ffe424"/>
<rect x="520.5" y="49.6" width="0.9" height="0.9" fill="#d8f030"/>
<rect x="424.9" y="62.3" width="0.9" height="0.7" fill="#fff030"/>
<rect x="338" y="51.9" width="2.3" height="0.7" fill="#ff8010"/>
<rect x="438.9" y="40.8" width="1.1" height="1.4" fill="#ff8c12"/>
<rect x="374.8" y="42.7" width="1.4" height="0.9" fill="#ff8010"/>
<rect x="347" y="59.8" width="0.9" height="1.1" fill="#80e634"/>
<rect x="409.6" y="64.1" width="2" height="1.2" fill="#ffd820"/>
<rect x="450.8" y="44.2" width="1.1" height="1.1" fill="#ff7a10"/>
<rect x="392.4" y="64.6" width="1.6" height="1.1" fill="#fff030"/>
<rect x="351.7" y="47.6" width="1.1" height="0.9" fill="#ff9414"/>
<rect x="456.2" y="52.5" width="1.1" height="0.9" fill="#ff8c12"/>
<rect x="409.4" y="44.3" width="1.5" height="0.9" fill="#ff8c12"/>
<rect x="462" y="50.7" width="1.4" height="1.1" fill="#ffc81c"/>
<rect x="429.5" y="62.5" width="0.9" height="1.1" fill="#fff030"/>
<rect x="430.1" y="69.8" width="0.8" height="0.9" fill="#80e634"/>
<rect x="475" y="49.3" width="1.9" height="1.1" fill="#ff8010"/>
<rect x="403.4" y="39.1" width="1.5" height="0.7" fill="#ffe424"/>
<rect x="453.4" y="45.4" width="2.2" height="1" fill="#ffe424"/>
<rect x="445.3" y="48.1" width="2.2" height="1.2" fill="#ffb018"/>
<rect x="372.3" y="60.9" width="1" height="1.4" fill="#fff030"/>
<rect x="473.5" y="42.7" width="1.7" height="0.9" fill="#ffb018"/>
<rect x="401" y="68.1" width="1.6" height="0.7" fill="#80e634"/>
<rect x="465.3" y="51.5" width="1.2" height="1.3" fill="#ff9414"/>
<rect x="336.8" y="52.8" width="2" height="1.1" fill="#ffe424"/>
<rect x="380" y="49.6" width="1.4" height="0.9" fill="#ffd820"/>
<rect x="350.7" y="56" width="0.9" height="1.4" fill="#ff9414"/>
<rect x="492" y="45.4" width="2.2" height="1.1" fill="#ffe424"/>
<rect x="392.9" y="56.8" width="2" height="1.3" fill="#ff8010"/>
<rect x="462.7" y="42.3" width="1.3" height="0.8" fill="#ff6c0e"/>
<rect x="389.8" y="57.6" width="2.3" height="1.2" fill="#ffe424"/>
<rect x="425.2" y="61.4" width="1.1" height="1" fill="#ff8010"/>
<rect x="495.7" y="50.8" width="2" height="0.8" fill="#ff9414"/>
<rect x="319.2" y="53.4" width="2.1" height="1.3" fill="#ffe424"/>
<rect x="379.4" y="55.3" width="1.4" height="0.9" fill="#fff030"/>
<rect x="409.9" y="34" width="2" height="1.1" fill="#ffb018"/>
<rect x="500.2" y="47.7" width="2.3" height="1.3" fill="#ff9414"/>
<rect x="482.7" y="51.7" width="1.3" height="1" fill="#ff8010"/>
<rect x="369.6" y="51.8" width="2" height="0.9" fill="#ff8010"/>
<rect x="496.4" y="50" width="2.1" height="1.5" fill="#ffe424"/>
<rect x="464.2" y="44.2" width="2.3" height="1.5" fill="#ff6c0e"/>
<rect x="411.9" y="52.4" width="1.1" height="0.9" fill="#ffd820"/>
<rect x="348" y="50.3" width="2.2" height="0.6" fill="#ff9414"/>
<rect x="418.5" y="57.8" width="1.1" height="1" fill="#ff9414"/>
<rect x="443" y="60.6" width="1.8" height="1.4" fill="#fff030"/>
<rect x="406.9" y="47.2" width="1.3" height="1.4" fill="#ffd820"/>
<rect x="382.3" y="43.4" width="2.1" height="0.7" fill="#ffd820"/>
<rect x="358.5" y="44.3" width="1.1" height="0.9" fill="#ffe424"/>
<rect x="456.4" y="64.7" width="1.8" height="1.1" fill="#b4ec30"/>
<rect x="423.1" y="54.6" width="1.4" height="0.7" fill="#ffe424"/>
<rect x="458.3" y="57.8" width="1" height="1.3" fill="#fff030"/>
<rect x="380" y="41.9" width="1.5" height="0.9" fill="#ffb018"/>
<rect x="491.2" y="54.9" width="2.3" height="1.1" fill="#d8f030"/>
<rect x="468.8" y="41" width="1.8" height="0.7" fill="#ff7a10"/>
<rect x="526.4" y="49.5" width="1.1" height="1.4" fill="#ffe424"/>
<rect x="454.4" y="56" width="0.9" height="0.6" fill="#fff030"/>
<rect x="465.5" y="59.8" width="2.2" height="1.5" fill="#f4ee28"/>
<rect x="469.6" y="60.2" width="1" height="1" fill="#ffe424"/>
<rect x="329.2" y="55.7" width="1.2" height="1" fill="#ffc81c"/>
<rect x="417.2" y="51.5" width="2" height="1.4" fill="#ff9414"/>
<rect x="415.1" y="66.3" width="1.6" height="0.8" fill="#ffe424"/>
<rect x="476.5" y="57.3" width="1.9" height="0.7" fill="#ffc81c"/>
<rect x="426" y="55.1" width="2.1" height="1.4" fill="#ffd820"/>
<rect x="420.6" y="72.7" width="2.1" height="1.4" fill="#b4ec30"/>
<rect x="416.1" y="49.4" width="1.8" height="1.5" fill="#ffe424"/>
<rect x="431.8" y="61.6" width="1.1" height="1.4" fill="#ffe424"/>
<rect x="396.9" y="54.6" width="1.1" height="0.7" fill="#ff8010"/>
<rect x="366.1" y="55.9" width="1.4" height="1.4" fill="#ffe424"/>
<rect x="458.7" y="47.6" width="1.5" height="0.8" fill="#ffc81c"/>
<rect x="388.7" y="43.7" width="1.3" height="0.9" fill="#ff9414"/>
<rect x="329.3" y="54.1" width="1.3" height="1.2" fill="#d8f030"/>
<rect x="368.7" y="48.2" width="1.6" height="0.6" fill="#e4f030"/>
<rect x="447.1" y="45.2" width="2.2" height="1" fill="#ffb018"/>
<rect x="389.4" y="50.1" width="1.9" height="0.6" fill="#ff8010"/>
<rect x="453.8" y="50.2" width="2" height="1.1" fill="#ffe424"/>
<rect x="420" y="45.3" width="1.6" height="1.2" fill="#ff6c0e"/>
<rect x="355.8" y="50.2" width="1.7" height="1.3" fill="#ff9414"/>
<rect x="387.6" y="49.5" width="1.3" height="1.1" fill="#ff9414"/>
<rect x="481.4" y="44.4" width="1.2" height="1.1" fill="#ffc81c"/>
<rect x="467" y="57.4" width="1.4" height="0.9" fill="#ffd820"/>
<rect x="468" y="43.2" width="1.2" height="1" fill="#ffc81c"/>
<rect x="452" y="39.9" width="0.9" height="1.3" fill="#ff8c12"/>
<rect x="351.5" y="55.1" width="1" height="1.5" fill="#fff030"/>
<rect x="417.2" y="36.3" width="2.2" height="0.7" fill="#ff6c0e"/>
<rect x="457.1" y="41.2" width="1.5" height="1.3" fill="#ffb018"/>
<rect x="425.7" y="56.8" width="1.7" height="1.5" fill="#ffe424"/>
<rect x="321.1" y="53.8" width="1.3" height="1.2" fill="#b4ec30"/>
<rect x="379.9" y="59.6" width="1.7" height="1.2" fill="#ffe424"/>
<rect x="453.3" y="39" width="1.3" height="1" fill="#ffe424"/>
<rect x="411.7" y="53.4" width="1.9" height="0.8" fill="#ff8010"/>
<rect x="346.5" y="52.8" width="1.8" height="1" fill="#ff8010"/>
<rect x="478.8" y="56.8" width="2" height="1.1" fill="#ffc81c"/>
<rect x="457.4" y="60.8" width="1.8" height="1.1" fill="#fff030"/>
<rect x="331.6" y="51.3" width="1" height="0.8" fill="#e4f030"/>
<rect x="428.4" y="58.9" width="2.2" height="1.2" fill="#ffd820"/>
<rect x="506.3" y="47.5" width="1.8" height="1.1" fill="#ff8010"/>
<rect x="433.3" y="45.4" width="2.2" height="1.2" fill="#ff6c0e"/>
<rect x="385.9" y="54.3" width="2" height="1.3" fill="#ffe424"/>
<rect x="510.4" y="53" width="1.8" height="1.1" fill="#d8f030"/>
<rect x="432.7" y="42.4" width="1.5" height="0.8" fill="#ff6c0e"/>
<rect x="416.1" y="35.5" width="1" height="1.3" fill="#ff7a10"/>
<rect x="473.6" y="58.1" width="1.9" height="0.6" fill="#80e634"/>
<rect x="387.1" y="43.6" width="1.7" height="1" fill="#ff9414"/>
<rect x="496.2" y="48.3" width="1.8" height="0.7" fill="#ffc81c"/>
<rect x="443.9" y="56.7" width="1.2" height="1.3" fill="#ff8010"/>
<rect x="388.8" y="59.6" width="1.4" height="1.1" fill="#e4f030"/>
<rect x="482.2" y="49.4" width="1.3" height="1.2" fill="#ffd820"/>
<rect x="493.1" y="55.7" width="2" height="0.9" fill="#ffe424"/>
<rect x="471.9" y="56.6" width="1.3" height="1.4" fill="#ffe424"/>
<rect x="429.8" y="39.9" width="1.5" height="0.7" fill="#ffe424"/>
<rect x="502.5" y="50.5" width="1.7" height="1.4" fill="#ffc81c"/>
<rect x="351.5" y="58" width="1.1" height="0.7" fill="#ffc81c"/>
<rect x="409.1" y="38.5" width="1.2" height="0.7" fill="#ff6c0e"/>
<rect x="430.6" y="38.2" width="1.2" height="1.4" fill="#ff8c12"/>
<rect x="434.9" y="67.4" width="1.7" height="1.1" fill="#b4ec30"/>
<rect x="450.8" y="43" width="2" height="1.2" fill="#ffe424"/>
<rect x="414.7" y="41.9" width="2.2" height="1.4" fill="#ff6c0e"/>
<rect x="403.6" y="64.4" width="2.1" height="1.4" fill="#ffc81c"/>
<rect x="458.5" y="42.4" width="1.4" height="1.1" fill="#ff6c0e"/>
<rect x="457.7" y="47.7" width="1.4" height="1.5" fill="#ff7a10"/>
<rect x="428.9" y="35.2" width="1.4" height="1.1" fill="#ffc81c"/>
<rect x="346.7" y="47.4" width="2.2" height="1" fill="#ff9414"/>
<rect x="436.7" y="61" width="1.3" height="1.5" fill="#ff8010"/>
<rect x="438.7" y="50" width="1.1" height="0.8" fill="#ffb018"/>
<rect x="363.3" y="55.5" width="2.3" height="0.7" fill="#ff8010"/>
<rect x="372.9" y="65.3" width="1.8" height="1.3" fill="#ffc81c"/>
<rect x="347.8" y="50.7" width="2.3" height="1.2" fill="#ff9414"/>
<rect x="384.9" y="38.6" width="0.9" height="0.9" fill="#ffe424"/>
<rect x="484" y="46.1" width="2.2" height="1.1" fill="#ffc81c"/>
<rect x="397.7" y="36.5" width="2.2" height="0.8" fill="#ff8c12"/>
<rect x="346.3" y="51.5" width="1.6" height="0.9" fill="#ff8010"/>
<rect x="458.1" y="39.7" width="1.7" height="1.2" fill="#ff7a10"/>
<rect x="448.5" y="60.6" width="1" height="0.9" fill="#e4f030"/>
<rect x="488.6" y="56.6" width="1.7" height="1.2" fill="#80e634"/>
<rect x="408.3" y="65.2" width="2.2" height="0.9" fill="#fff030"/>
<rect x="385.7" y="45.1" width="1.7" height="1.3" fill="#ff9414"/>
<rect x="383.4" y="60.6" width="1.5" height="1" fill="#e4f030"/>
<rect x="472.3" y="50.3" width="1.2" height="1.3" fill="#ffe424"/>
<rect x="428" y="65.2" width="2.1" height="1.1" fill="#ff9414"/>
<rect x="409.2" y="53.6" width="2.3" height="0.6" fill="#ff8010"/>
<rect x="441" y="36.6" width="1.1" height="0.8" fill="#ff8c12"/>
<rect x="478" y="50.2" width="1.4" height="0.9" fill="#ff9414"/>
<rect x="470.2" y="60.3" width="1.1" height="1" fill="#ffe424"/>
<rect x="419.7" y="35.7" width="1.7" height="1" fill="#ff8c12"/>
<rect x="499.1" y="44.4" width="1.7" height="0.7" fill="#ffd820"/>
<rect x="401.5" y="49.1" width="1.9" height="0.8" fill="#ff8010"/>
<rect x="378.6" y="49.4" width="1.8" height="0.7" fill="#fff030"/>
<rect x="404.7" y="34.7" width="1" height="1" fill="#ffe424"/>
<rect x="399.1" y="47.6" width="1.2" height="1.2" fill="#ffe424"/>
<rect x="378.7" y="57" width="0.9" height="0.7" fill="#ffc81c"/>
<rect x="338.1" y="56.4" width="0.9" height="1.1" fill="#f4ee28"/>
<rect x="383.5" y="46.9" width="1.6" height="1" fill="#ffc81c"/>
<rect x="382.6" y="64.8" width="1" height="1" fill="#ffe424"/>
<rect x="400.2" y="65.2" width="2.3" height="1.2" fill="#e4f030"/>
<rect x="483.8" y="50.4" width="1.3" height="0.6" fill="#ffd820"/>
<rect x="453.7" y="54.5" width="2" height="1" fill="#ff8010"/>
<rect x="415.3" y="38.9" width="0.8" height="0.7" fill="#ff8c12"/>
<rect x="485.5" y="53.3" width="1.8" height="0.8" fill="#ffe424"/>
<rect x="412.6" y="68.1" width="0.8" height="0.6" fill="#ffe424"/>
<rect x="445.9" y="63.3" width="2.1" height="1.3" fill="#fff030"/>
<rect x="475.1" y="59" width="2" height="1.4" fill="#f4ee28"/>
<rect x="401.5" y="48.1" width="1.3" height="0.9" fill="#ff8010"/>
<rect x="430.5" y="53.8" width="1.8" height="0.7" fill="#fff030"/>
<rect x="360.7" y="62.3" width="1.6" height="0.8" fill="#b4ec30"/>
<rect x="471.7" y="49.4" width="1.5" height="1.2" fill="#e4f030"/>
<rect x="464" y="44.2" width="1.4" height="1.2" fill="#ffc81c"/>
<rect x="451.4" y="44.5" width="1.9" height="1.4" fill="#ff8c12"/>
<rect x="436.6" y="46.6" width="1.9" height="0.8" fill="#ffc81c"/>
<rect x="422.7" y="64.6" width="1.2" height="0.9" fill="#ff8010"/>
<rect x="373.1" y="65" width="0.8" height="1.5" fill="#80e634"/>
<rect x="441.4" y="55" width="2" height="0.9" fill="#ffd820"/>
<rect x="441.3" y="57.2" width="1.5" height="0.9" fill="#ffe424"/>
<rect x="393.4" y="57.6" width="2.1" height="1.4" fill="#fff030"/>
<rect x="404" y="52.3" width="1.1" height="0.7" fill="#ff8010"/>
<rect x="443.2" y="66.1" width="0.9" height="0.8" fill="#d8f030"/>
<rect x="363.4" y="61.4" width="1.6" height="0.7" fill="#d8f030"/>
<rect x="396.2" y="58.1" width="2.3" height="1" fill="#fff030"/>
<rect x="417.2" y="65.8" width="1.9" height="0.9" fill="#ff9414"/>
<rect x="452.9" y="50.3" width="1.7" height="1.1" fill="#ff7a10"/>
<rect x="345.9" y="50.6" width="2.2" height="0.8" fill="#ffd820"/>
<rect x="437.1" y="51.7" width="1.7" height="1.1" fill="#ff9414"/>
<rect x="409.4" y="37.2" width="1.1" height="0.9" fill="#ff8c12"/>
<rect x="395" y="51.8" width="1.3" height="1" fill="#ff9414"/>
<rect x="427" y="47.3" width="1.4" height="0.6" fill="#ff8c12"/>
<rect x="486.9" y="50.6" width="1.9" height="1" fill="#ffd820"/>
<rect x="385.4" y="67.6" width="1.7" height="1.3" fill="#ffc81c"/>
<rect x="461.5" y="45" width="2.3" height="1.3" fill="#ff7a10"/>
<rect x="496.4" y="54" width="1.5" height="0.8" fill="#d8f030"/>
<rect x="321.5" y="55.4" width="0.8" height="1" fill="#d8f030"/>
<rect x="462.1" y="61.5" width="2.3" height="0.8" fill="#d8f030"/>
<rect x="419.8" y="52" width="1.6" height="0.8" fill="#ffd820"/>
<rect x="446.6" y="61.9" width="1.6" height="0.9" fill="#e4f030"/>
<rect x="425.4" y="72.1" width="1.3" height="1.5" fill="#b4ec30"/>
<rect x="393.1" y="42.5" width="1.3" height="1" fill="#ff7a10"/>
<rect x="452" y="39.3" width="2.3" height="0.8" fill="#ff8c12"/>
<rect x="406.9" y="49.1" width="2" height="1" fill="#ffe424"/>
<rect x="440.4" y="42.4" width="1.4" height="1.4" fill="#ff7a10"/>
<rect x="389.2" y="54.7" width="1.5" height="0.8" fill="#e4f030"/>
<rect x="400.6" y="63.2" width="2" height="1.1" fill="#fff030"/>
<rect x="472" y="52.3" width="1.3" height="1.1" fill="#ffd820"/>
<rect x="378.5" y="60.8" width="1.2" height="0.9" fill="#ffe424"/>
<rect x="440.2" y="69.3" width="2.1" height="1.2" fill="#ffc81c"/>
<rect x="424.6" y="43.5" width="1.5" height="1.1" fill="#ffc81c"/>
<rect x="334.6" y="51.2" width="1.7" height="0.6" fill="#ff9414"/>
<rect x="520.7" y="49.6" width="2" height="0.7" fill="#d8f030"/>
<rect x="514.9" y="50" width="2.1" height="1" fill="#ffc81c"/>
<rect x="476.5" y="47.7" width="1.1" height="1.4" fill="#ff8c12"/>
<rect x="349" y="46.9" width="2.2" height="0.6" fill="#ff9414"/>
<rect x="391.2" y="39.3" width="1.2" height="1.4" fill="#ffb018"/>
<rect x="505.7" y="48.7" width="1.7" height="1.5" fill="#ffc81c"/>
<rect x="368.8" y="42" width="1.1" height="0.7" fill="#fff030"/>
<rect x="470.9" y="43.1" width="1.4" height="1.1" fill="#ff8c12"/>
<rect x="440.7" y="61.3" width="1.2" height="1.3" fill="#ffe424"/>
<rect x="425.6" y="40.3" width="0.9" height="0.7" fill="#ffe424"/>
<rect x="445.8" y="59.4" width="1.6" height="0.6" fill="#fff030"/>
<rect x="474.7" y="50.6" width="1.4" height="0.7" fill="#fff030"/>
<rect x="465.7" y="60.3" width="1.6" height="0.7" fill="#ffe424"/>
<rect x="460.8" y="41.9" width="1.8" height="0.8" fill="#ff8c12"/>
<rect x="472.6" y="58.1" width="1.8" height="1" fill="#d8f030"/>
<rect x="415.1" y="56.9" width="2" height="1.4" fill="#ffc81c"/>
<rect x="431.2" y="63" width="1.7" height="1.2" fill="#e4f030"/>
<rect x="410.1" y="67.2" width="0.9" height="1.5" fill="#ffd820"/>
<rect x="408.8" y="53.3" width="2.2" height="0.8" fill="#ff8010"/>
<rect x="367" y="60.1" width="1.3" height="1.2" fill="#ffe424"/>
<rect x="387.2" y="49.7" width="1.7" height="0.8" fill="#ff8010"/>
<rect x="421" y="53.7" width="1.5" height="0.7" fill="#e4f030"/>
<rect x="514" y="46.8" width="1.8" height="0.7" fill="#ffd820"/>
<rect x="452" y="60.7" width="1.9" height="0.8" fill="#ff8010"/>
<rect x="444.1" y="53.4" width="2" height="1.5" fill="#ffc81c"/>
<rect x="361.4" y="56.5" width="1.9" height="0.7" fill="#ffd820"/>
<rect x="498.5" y="50.5" width="1.1" height="0.8" fill="#ffe424"/>
<rect x="427.6" y="40.5" width="1.3" height="1" fill="#ff7a10"/>
<rect x="438.1" y="61.1" width="1.9" height="1.4" fill="#ff9414"/>
<rect x="405.9" y="66.9" width="2" height="1.5" fill="#ffc81c"/>
<rect x="336.7" y="49.8" width="1.8" height="1.1" fill="#ffc81c"/>
<rect x="380.7" y="57.3" width="1.6" height="1" fill="#ffd820"/>
<rect x="443" y="59.1" width="1.2" height="1.3" fill="#ffc81c"/>
<rect x="500" y="47.9" width="1.6" height="1" fill="#ff9414"/>
<rect x="398.4" y="45.9" width="1" height="1.2" fill="#ffd820"/>
<rect x="454" y="41.7" width="1.7" height="1.2" fill="#ffc81c"/>
<rect x="452.6" y="43.7" width="1.5" height="1.2" fill="#ffc81c"/>
<rect x="424.1" y="36.3" width="1.8" height="0.6" fill="#ff7a10"/>
<rect x="393.4" y="50.4" width="0.9" height="0.6" fill="#fff030"/>
<rect x="323.9" y="52.7" width="1.8" height="0.7" fill="#ffc81c"/>
<rect x="391.5" y="65.2" width="0.8" height="1.3" fill="#d8f030"/>
<rect x="369.3" y="49.3" width="1.9" height="1.4" fill="#e4f030"/>
<rect x="374.6" y="60.8" width="1.4" height="1" fill="#ffc81c"/>
<rect x="442.7" y="68.5" width="1.9" height="0.9" fill="#f4ee28"/>
<rect x="427.8" y="53" width="0.9" height="1" fill="#e4f030"/>
<rect x="424.9" y="38.6" width="1.2" height="0.7" fill="#ff6c0e"/>
<rect x="413" y="50.5" width="1.2" height="1.1" fill="#ffd820"/>
<rect x="357.9" y="45.4" width="1.3" height="1.1" fill="#ffd820"/>
<rect x="391.7" y="39.7" width="1.4" height="1.1" fill="#ff7a10"/>
<rect x="489.2" y="50" width="1.5" height="0.6" fill="#ffd820"/>
<rect x="351.3" y="54.9" width="1.6" height="1.1" fill="#ff9414"/>
<rect x="350.3" y="58.2" width="1.2" height="0.8" fill="#80e634"/>
<rect x="403.2" y="36.7" width="1.6" height="1.2" fill="#ff7a10"/>
<rect x="349.1" y="48.2" width="0.9" height="1.2" fill="#ffc81c"/>
<rect x="454" y="54.3" width="1.2" height="1.1" fill="#ffc81c"/>
<rect x="363.5" y="62.9" width="1.2" height="1.2" fill="#ffc81c"/>
<rect x="408.4" y="68.7" width="1.4" height="0.9" fill="#ffe424"/>
<rect x="430.8" y="41" width="1.4" height="1.4" fill="#ff8c12"/>
<rect x="449.1" y="67.5" width="2.2" height="0.8" fill="#80e634"/>
<rect x="465.9" y="46.8" width="1.8" height="1.3" fill="#ff6c0e"/>
<rect x="377.8" y="43.3" width="1.3" height="1.2" fill="#ffe424"/>
<rect x="453.6" y="40.5" width="0.9" height="1.2" fill="#ffb018"/>
<rect x="374.5" y="61.3" width="1.4" height="1.4" fill="#ff8010"/>
<rect x="455.7" y="39.7" width="1.4" height="1.2" fill="#ff8c12"/>
<rect x="462.4" y="49.3" width="1.4" height="1" fill="#ff6c0e"/>
<rect x="367.2" y="48" width="2.3" height="1" fill="#fff030"/>
<rect x="425.6" y="40" width="1.6" height="0.8" fill="#ffb018"/>
<rect x="436" y="61.3" width="1.5" height="0.9" fill="#ffc81c"/>
<rect x="439" y="61.4" width="1.6" height="0.8" fill="#ffd820"/>
<rect x="418.8" y="70.6" width="1.3" height="0.7" fill="#80e634"/>
<rect x="406.6" y="65.2" width="2" height="1.5" fill="#ffd820"/>
<rect x="350" y="49" width="2.2" height="0.8" fill="#ff9414"/>
<rect x="409.1" y="52.1" width="0.8" height="1.5" fill="#ffd820"/>
<rect x="362.8" y="53.8" width="1.5" height="1" fill="#ff9414"/>
<rect x="390.3" y="41.1" width="2.3" height="0.9" fill="#ff8c12"/>
<rect x="516.8" y="46.8" width="1.7" height="1.2" fill="#ffd820"/>
<rect x="472.5" y="57.3" width="2" height="0.7" fill="#ffe424"/>
<rect x="397" y="47.1" width="0.9" height="1.5" fill="#ffe424"/>
<rect x="468.8" y="48.4" width="2.2" height="1.3" fill="#ffe424"/>
<rect x="406.7" y="47.6" width="1.6" height="0.6" fill="#fff030"/>
<rect x="420.4" y="63.2" width="1.8" height="1.4" fill="#fff030"/>
<rect x="442.8" y="44.8" width="1.3" height="0.7" fill="#ff6c0e"/>
<rect x="467.5" y="55.1" width="1.8" height="1.2" fill="#ff8010"/>
<rect x="356" y="53.3" width="2.2" height="1.5" fill="#ffe424"/>
<rect x="446.7" y="59.3" width="2" height="0.7" fill="#ffe424"/>
<rect x="364.7" y="45.4" width="1.9" height="1.1" fill="#ffc81c"/>
<rect x="345.6" y="56.6" width="1.7" height="0.8" fill="#b4ec30"/>
<rect x="397.6" y="56.9" width="2.1" height="0.6" fill="#ff8010"/>
<rect x="401.7" y="69.7" width="1.3" height="0.6" fill="#ffe424"/>
<rect x="326.8" y="52.6" width="1.8" height="1.5" fill="#80e634"/>
<rect x="465.3" y="45.8" width="2.2" height="1.2" fill="#ff7a10"/>
<rect x="461.5" y="63.4" width="1.4" height="1" fill="#ffc81c"/>
<rect x="364.3" y="47" width="1.6" height="0.6" fill="#ffd820"/>
<rect x="440.7" y="46.3" width="0.9" height="1.4" fill="#ffc81c"/>
<rect x="411.4" y="44.5" width="2.1" height="0.8" fill="#ffe424"/>
<rect x="413.8" y="48.3" width="1.7" height="0.6" fill="#ffd820"/>
<rect x="369.1" y="51.7" width="2.2" height="1.1" fill="#ffc81c"/>
<rect x="417" y="33.2" width="1.8" height="1.1" fill="#ff6c0e"/>
<rect x="407.6" y="65.8" width="0.9" height="0.9" fill="#e4f030"/>
<rect x="396.8" y="42.2" width="0.9" height="1.3" fill="#ffb018"/>
<rect x="385.6" y="66.8" width="1.9" height="1.4" fill="#ffe424"/>
<rect x="470.7" y="50.3" width="1.3" height="1.1" fill="#ffd820"/>
<rect x="500.5" y="46" width="1.5" height="1.4" fill="#ffe424"/>
<rect x="427.3" y="36.1" width="2.2" height="0.9" fill="#ff6c0e"/>
<rect x="408.7" y="56" width="2.2" height="0.7" fill="#ff9414"/>
<rect x="443.9" y="42.5" width="0.9" height="0.9" fill="#ffb018"/>
<rect x="342" y="53" width="0.9" height="1.4" fill="#ff8010"/>
<rect x="452.4" y="43.3" width="2" height="1.3" fill="#ffe424"/>
<rect x="438.2" y="68.2" width="2.2" height="0.6" fill="#ffe424"/>
<rect x="435.4" y="38.6" width="2" height="1.2" fill="#ff8c12"/>
<rect x="511" y="52.6" width="2.2" height="0.9" fill="#ffe424"/>
<rect x="460.1" y="51.3" width="1.5" height="1.3" fill="#ff6c0e"/>
<rect x="394.5" y="44.1" width="2.1" height="0.8" fill="#ffc81c"/>
<rect x="460.3" y="50.7" width="1.9" height="0.9" fill="#ffc81c"/>
<rect x="352.3" y="57.4" width="2" height="1.1" fill="#80e634"/>
<rect x="367.3" y="46" width="1" height="0.7" fill="#ffe424"/>
<rect x="399.4" y="39.3" width="1" height="1" fill="#ff7a10"/>
<rect x="420.6" y="72.7" width="0.8" height="0.9" fill="#b4ec30"/>
<rect x="424.1" y="64.5" width="1.5" height="0.9" fill="#ffd820"/>
<rect x="500.5" y="50.3" width="1.2" height="1.3" fill="#ffc81c"/>
<rect x="369.4" y="55.6" width="2.1" height="1.3" fill="#ffd820"/>
<rect x="412.2" y="59.5" width="1.5" height="1.1" fill="#ff9414"/>
<rect x="429.9" y="39.7" width="1.1" height="1.2" fill="#ff7a10"/>
<rect x="435.7" y="49.2" width="1.5" height="0.9" fill="#ff7a10"/>
<rect x="501" y="50.8" width="1.6" height="1.3" fill="#ff9414"/>
<rect x="363.1" y="60" width="1.6" height="0.9" fill="#80e634"/>
<rect x="410" y="53.1" width="2.2" height="1" fill="#ffd820"/>
<rect x="426.9" y="35.6" width="1.6" height="0.6" fill="#ffb018"/>
<rect x="476" y="52.6" width="2" height="0.9" fill="#e4f030"/>
<rect x="421.4" y="39.7" width="2.3" height="1.3" fill="#ffe424"/>
<rect x="461.5" y="50.9" width="2.3" height="0.8" fill="#ffb018"/>
<rect x="396.5" y="53.7" width="2.2" height="1.2" fill="#ff8010"/>
<rect x="360.9" y="47.9" width="1" height="1.3" fill="#e4f030"/>
<rect x="497.4" y="53.7" width="1.4" height="0.8" fill="#ffc81c"/>
<rect x="476.9" y="43.4" width="1.3" height="0.9" fill="#ffe424"/>
<rect x="499.8" y="44.1" width="1.6" height="0.8" fill="#ffc81c"/>
<rect x="334.1" y="55.7" width="2.1" height="0.8" fill="#b4ec30"/>
<rect x="442.6" y="44.7" width="0.9" height="1.3" fill="#ff6c0e"/>
<rect x="351.9" y="54.1" width="2.2" height="1.3" fill="#ffe424"/>
<rect x="349.7" y="48.5" width="1.4" height="0.7" fill="#ff8010"/>
<rect x="355.1" y="58.7" width="1.7" height="0.9" fill="#80e634"/>
<rect x="383.4" y="48.6" width="1" height="1.3" fill="#ffe424"/>
<rect x="513.7" y="48.2" width="1.7" height="1.2" fill="#ffe424"/>
<rect x="414.9" y="56.2" width="1.8" height="1.1" fill="#fff030"/>
<rect x="388.5" y="41.9" width="1.7" height="0.9" fill="#ff8c12"/>
<rect x="388" y="68.3" width="1.9" height="0.9" fill="#f4ee28"/>
<rect x="413.6" y="63" width="1.8" height="1.1" fill="#ff8010"/>
<rect x="400.7" y="50.2" width="0.9" height="1.4" fill="#ffc81c"/>
<rect x="456.2" y="55.2" width="1.4" height="1.3" fill="#ff8010"/>
<rect x="366.9" y="51" width="1.7" height="0.8" fill="#e4f030"/>
<rect x="467.4" y="40.4" width="1.5" height="0.6" fill="#ffc81c"/>
<rect x="412.2" y="61.5" width="1.9" height="1.3" fill="#ff8010"/>
<rect x="472.2" y="55.7" width="1.7" height="1.3" fill="#ffc81c"/>
<rect x="366" y="55.7" width="1.2" height="1.4" fill="#ff9414"/>
<rect x="347.3" y="52.4" width="1" height="1.3" fill="#fff030"/>
<rect x="337" y="52.4" width="1.4" height="1.2" fill="#e4f030"/>
<rect x="458.9" y="61" width="1.8" height="1.1" fill="#ff8010"/>
<rect x="443.5" y="67.4" width="1.1" height="0.8" fill="#b4ec30"/>
<rect x="483.5" y="50.8" width="0.8" height="1.4" fill="#fff030"/>
<rect x="344.5" y="47.2" width="1" height="0.9" fill="#fff030"/>
<rect x="416.1" y="46.3" width="1.2" height="1.1" fill="#ffe424"/>
<rect x="391.6" y="50" width="2" height="0.6" fill="#ffd820"/>
<rect x="424.8" y="56.7" width="1.5" height="0.9" fill="#ffe424"/>
<rect x="423.1" y="69.3" width="1.2" height="0.8" fill="#ff9414"/>
<rect x="358.5" y="52.3" width="1.6" height="1.4" fill="#ffe424"/>
<rect x="403.3" y="55.9" width="1.8" height="0.8" fill="#ffe424"/>
<rect x="418.6" y="51.5" width="0.9" height="0.8" fill="#fff030"/>
<rect x="339.7" y="54.1" width="2.2" height="1.2" fill="#ffe424"/>
<rect x="381.3" y="45.4" width="1.1" height="1.3" fill="#fff030"/>
<rect x="465.1" y="61.3" width="1.1" height="1.3" fill="#80e634"/>
<rect x="367.2" y="63.7" width="1.6" height="1.4" fill="#ffe424"/>
<rect x="417.2" y="68.9" width="1.1" height="1.3" fill="#ff8010"/>
<rect x="362.6" y="49.4" width="1.9" height="0.9" fill="#e4f030"/>
<rect x="428.9" y="46.4" width="1.2" height="1.2" fill="#ff7a10"/>
<rect x="447.7" y="44.5" width="1.3" height="1.1" fill="#ffc81c"/>
<rect x="367.5" y="63.5" width="1.8" height="1" fill="#d8f030"/>
<rect x="522.2" y="48.1" width="1.6" height="1.4" fill="#b4ec30"/>
<rect x="329.5" y="55.2" width="1.5" height="1.1" fill="#80e634"/>
</g>
<polygon points="327,49 328,46 329,49" fill="#ff7a10"/>
<polygon points="329,49.5 330,46.5 331,49.5" fill="#ff7a10"/>
<polygon points="371,40.5 372,37.5 373,40.5" fill="#ff7a10"/>
<polygon points="387,37 388,34 389,37" fill="#ff7a10"/>
<polygon points="389.5,37.2 390.5,34.2 391.5,37.2" fill="#ff7a10"/>
<polygon points="394,36.6 395,33.6 396,36.6" fill="#ff7a10"/>
<polygon points="440,37.6 441,34.6 442,37.6" fill="#ff7a10"/>
<polygon points="469,41.2 470,38.2 471,41.2" fill="#ff7a10"/>
<polyline points="41.5,310.2 142.6,291 258,307.2" fill="none" stroke="#e9e9e9" stroke-width="0.6"/>
<polyline points="42.2,331.1 142.6,309.2 256.9,327.6" fill="none" stroke="#e9e9e9" stroke-width="0.6"/>
<polyline points="43,352 142.6,327.5 255.9,348.1" fill="none" stroke="#e9e9e9" stroke-width="0.6"/>
<polyline points="43.7,372.9 142.5,345.7 254.8,368.6" fill="none" stroke="#e9e9e9" stroke-width="0.6"/>
<polyline points="44.5,393.8 142.5,364 253.8,389.1" fill="none" stroke="#e9e9e9" stroke-width="0.6"/>
<polyline points="45.2,414.7 142.5,382.2 252.7,409.5" fill="none" stroke="#e9e9e9" stroke-width="0.6"/>
<polyline points="69.2,444.1 164.3,406.4 165.9,275.5" fill="none" stroke="#e9e9e9" stroke-width="0.6"/>
<polyline points="92.4,452.7 186.2,412.3 189.2,278.3" fill="none" stroke="#e9e9e9" stroke-width="0.6"/>
<polyline points="115.6,461.2 208,418.2 212.4,281.1" fill="none" stroke="#e9e9e9" stroke-width="0.6"/>
<polyline points="138.8,469.8 229.9,424.1 235.7,283.9" fill="none" stroke="#e9e9e9" stroke-width="0.6"/>
<polyline points="179.9,468.6 65.3,428.6 61.1,286" fill="none" stroke="#e9e9e9" stroke-width="0.6"/>
<polyline points="197.9,459 84.6,421.6 81.5,282.7" fill="none" stroke="#e9e9e9" stroke-width="0.6"/>
<polyline points="215.8,449.3 103.9,414.5 101.8,279.3" fill="none" stroke="#e9e9e9" stroke-width="0.6"/>
<polyline points="233.8,439.7 123.2,407.5 122.2,276" fill="none" stroke="#e9e9e9" stroke-width="0.6"/>
<polyline points="40.7,289.3 142.6,272.7 259,286.7 251.7,430 142.5,400.5 46,435.6" fill="none" stroke="#a0a0a0" stroke-width="0.7"/>
<line x1="142.6" y1="272.7" x2="142.5" y2="400.5" stroke="#a0a0a0" stroke-width="0.7"/>
<polyline points="40.7,289.3 46,435.6 162,478.3 251.7,430" fill="none" stroke="#333" stroke-width="0.7"/>
<line x1="38.5" y1="290.1" x2="40.7" y2="289.8" stroke="#222" stroke-width="0.8"/>
<text x="37.5" y="292.6" font-size="7.7" text-anchor="end" fill="#111">0</text>
<line x1="39.2" y1="309.9" x2="41.4" y2="309.6" stroke="#222" stroke-width="0.8"/>
<text x="38.2" y="312.4" font-size="7.7" text-anchor="end" fill="#111">20</text>
<line x1="40" y1="329.8" x2="42.2" y2="329.5" stroke="#222" stroke-width="0.8"/>
<text x="39" y="332.3" font-size="7.7" text-anchor="end" fill="#111">40</text>
<line x1="40.7" y1="349.9" x2="42.9" y2="349.6" stroke="#222" stroke-width="0.8"/>
<text x="39.7" y="352.4" font-size="7.7" text-anchor="end" fill="#111">60</text>
<line x1="41.4" y1="369.7" x2="43.6" y2="369.4" stroke="#222" stroke-width="0.8"/>
<text x="40.4" y="372.2" font-size="7.7" text-anchor="end" fill="#111">80</text>
<line x1="42.1" y1="389.3" x2="44.3" y2="389" stroke="#222" stroke-width="0.8"/>
<text x="41.1" y="391.8" font-size="7.7" text-anchor="end" fill="#111">100</text>
<line x1="42.8" y1="408.6" x2="45" y2="408.3" stroke="#222" stroke-width="0.8"/>
<text x="41.8" y="411.1" font-size="7.7" text-anchor="end" fill="#111">120</text>
<line x1="43.5" y1="427.8" x2="45.7" y2="427.5" stroke="#222" stroke-width="0.8"/>
<text x="42.5" y="430.3" font-size="7.7" text-anchor="end" fill="#111">140</text>
<line x1="46" y1="435.6" x2="44.6" y2="437.4" stroke="#222" stroke-width="0.7"/>
<line x1="57.6" y1="439.9" x2="56.2" y2="441.7" stroke="#222" stroke-width="0.7"/>
<line x1="69.2" y1="444.1" x2="67.8" y2="445.9" stroke="#222" stroke-width="0.7"/>
<line x1="80.8" y1="448.4" x2="79.4" y2="450.2" stroke="#222" stroke-width="0.7"/>
<line x1="92.4" y1="452.7" x2="91" y2="454.5" stroke="#222" stroke-width="0.7"/>
<line x1="104" y1="457" x2="102.6" y2="458.8" stroke="#222" stroke-width="0.7"/>
<line x1="115.6" y1="461.2" x2="114.2" y2="463" stroke="#222" stroke-width="0.7"/>
<line x1="127.2" y1="465.5" x2="125.8" y2="467.3" stroke="#222" stroke-width="0.7"/>
<line x1="138.8" y1="469.8" x2="137.4" y2="471.6" stroke="#222" stroke-width="0.7"/>
<line x1="150.4" y1="474" x2="149" y2="475.8" stroke="#222" stroke-width="0.7"/>
<line x1="162" y1="478.3" x2="160.6" y2="480.1" stroke="#222" stroke-width="0.7"/>
<line x1="162" y1="478.3" x2="163.8" y2="479.7" stroke="#222" stroke-width="0.7"/>
<line x1="171" y1="473.5" x2="172.8" y2="474.9" stroke="#222" stroke-width="0.7"/>
<line x1="179.9" y1="468.6" x2="181.7" y2="470" stroke="#222" stroke-width="0.7"/>
<line x1="188.9" y1="463.8" x2="190.7" y2="465.2" stroke="#222" stroke-width="0.7"/>
<line x1="197.9" y1="459" x2="199.7" y2="460.4" stroke="#222" stroke-width="0.7"/>
<line x1="206.8" y1="454.1" x2="208.7" y2="455.5" stroke="#222" stroke-width="0.7"/>
<line x1="215.8" y1="449.3" x2="217.6" y2="450.7" stroke="#222" stroke-width="0.7"/>
<line x1="224.8" y1="444.5" x2="226.6" y2="445.9" stroke="#222" stroke-width="0.7"/>
<line x1="233.8" y1="439.7" x2="235.6" y2="441.1" stroke="#222" stroke-width="0.7"/>
<line x1="242.7" y1="434.8" x2="244.5" y2="436.2" stroke="#222" stroke-width="0.7"/>
<line x1="251.7" y1="430" x2="253.5" y2="431.4" stroke="#222" stroke-width="0.7"/>
<text x="41" y="439.8" font-size="3.8" text-anchor="middle" font-style="italic" transform="rotate(-24 41 439.8)" textLength="3.2" lengthAdjust="spacingAndGlyphs" fill="#666">0</text>
<text x="59.5" y="448.1" font-size="3.8" text-anchor="middle" font-style="italic" transform="rotate(-24 59.5 448.1)" textLength="9.6" lengthAdjust="spacingAndGlyphs" fill="#666">100</text>
<text x="80.8" y="457" font-size="3.8" text-anchor="middle" font-style="italic" transform="rotate(-24 80.8 457)" textLength="9.6" lengthAdjust="spacingAndGlyphs" fill="#666">200</text>
<text x="103.8" y="465.3" font-size="3.8" text-anchor="middle" font-style="italic" transform="rotate(-24 103.8 465.3)" textLength="9.6" lengthAdjust="spacingAndGlyphs" fill="#666">300</text>
<text x="127" y="474.3" font-size="3.8" text-anchor="middle" font-style="italic" transform="rotate(-24 127 474.3)" textLength="9.6" lengthAdjust="spacingAndGlyphs" fill="#666">400</text>
<text x="82.5" y="466" font-size="5.0" text-anchor="middle" font-style="italic" transform="rotate(22 82.5 466)" textLength="37" lengthAdjust="spacingAndGlyphs" fill="#555">Length [µm]</text>
<text x="263" y="434.6" font-size="4.6" text-anchor="middle" transform="rotate(18 263 434.6)" textLength="14" lengthAdjust="spacingAndGlyphs" fill="#333">1000</text>
<text x="246.5" y="443.6" font-size="4.6" text-anchor="middle" transform="rotate(18 246.5 443.6)" textLength="10.5" lengthAdjust="spacingAndGlyphs" fill="#333">800</text>
<text x="227.8" y="452.2" font-size="4.6" text-anchor="middle" transform="rotate(18 227.8 452.2)" textLength="10.5" lengthAdjust="spacingAndGlyphs" fill="#333">600</text>
<text x="210.6" y="462.5" font-size="4.6" text-anchor="middle" transform="rotate(18 210.6 462.5)" textLength="10.5" lengthAdjust="spacingAndGlyphs" fill="#333">400</text>
<text x="192.4" y="472.9" font-size="4.6" text-anchor="middle" transform="rotate(18 192.4 472.9)" textLength="10.5" lengthAdjust="spacingAndGlyphs" fill="#333">200</text>
<text x="168.4" y="482.8" font-size="4.6" text-anchor="middle" transform="rotate(18 168.4 482.8)" textLength="3.5" lengthAdjust="spacingAndGlyphs" fill="#333">0</text>
<text x="235.7" y="462.4" font-size="7.5" text-anchor="middle" transform="rotate(-30 235.7 462.4)" textLength="35" lengthAdjust="spacingAndGlyphs" fill="#333">Length [µm]</text>
<text x="21.3" y="357" font-size="12" text-anchor="middle" font-weight="bold" transform="rotate(-90 21.3 357)" textLength="65.5" lengthAdjust="spacingAndGlyphs" fill="#111">Height / µm</text>
<text x="157.2" y="264" font-size="12.2" text-anchor="middle" textLength="159.5" lengthAdjust="spacingAndGlyphs" stroke="#000" stroke-width="0.1" fill="#000">1.8977 after 3 weeks, 10 MPa</text>
<polygon points="128.8,312 128.6,340 129,360 129.4,372 130.5,381 132.6,384 133.4,392 134.4,406 136,422 138.4,436 139.6,441 140.4,445 141.5,448 142.4,443 143.2,440 144.2,436 146.4,423 148.6,408 149.6,398 150.6,391 152,388 154,390.5 156,388.5 158,390 160.5,388 163,390 165,388.5 167,390.5 168.4,389 169.3,394 170.2,398.5 171,392 172.5,386 174,391 175.5,384 176.6,388 177.6,376 177.8,340 177.8,312" fill="url(#g14)"/>
<polygon points="169.6,312 169.6,386 170.2,398.5 171,392 172.5,386 174,391 175.5,384 176.6,388 177.6,376 177.8,340 177.8,312" fill="url(#g15)"/>
<rect x="133" y="316" width="1.6" height="31.9" fill="#d00000" opacity="0.3"/>
<rect x="137.5" y="316" width="0.8" height="40.9" fill="#d00000" opacity="0.3"/>
<rect x="141" y="316" width="1.1" height="28.6" fill="#d00000" opacity="0.3"/>
<rect x="146" y="316" width="0.9" height="41.9" fill="#d00000" opacity="0.3"/>
<rect x="150.5" y="316" width="1.5" height="30.9" fill="#d00000" opacity="0.3"/>
<rect x="155" y="316" width="0.9" height="40.6" fill="#d00000" opacity="0.3"/>
<rect x="159" y="316" width="1.5" height="36.2" fill="#d00000" opacity="0.3"/>
<rect x="163.5" y="316" width="0.9" height="33.8" fill="#d00000" opacity="0.3"/>
<rect x="167.5" y="316" width="1.7" height="28" fill="#d00000" opacity="0.3"/>
<rect x="172" y="316" width="1.2" height="28.8" fill="#d00000" opacity="0.3"/>
<polygon points="109.4,305 109.5,312 109.4,319 109.7,326 110,333 110.6,340 112.4,347 113,343.8 113.6,347.6 115.2,340.5 115.6,333.4 115.8,326.3 115.9,319.2 116,312.1 116,305" fill="url(#g16)"/>
<polygon points="41.2,298.6 42.4,297.4 43.6,296.8 44.8,297.3 46,296.8 47.2,296.4 48.3,296 49.5,295.9 50.7,295 51.8,296.2 53,295.6 54.2,295.3 55.4,292 56.6,294.4 57.8,293.7 59,293.3 60.2,293 61.4,293 62.6,292.3 63.8,292.7 65,292.4 66.1,291.5 67.3,292.4 68.4,292.2 69.5,291.1 70.7,290.9 71.8,291.1 72.9,290.8 74,290.7 75.2,290.3 76.3,291.1 77.4,290.5 78.6,290.1 79.7,290.2 80.8,290.1 82,288.2 83.1,289.8 84.2,289.3 85.3,287.1 86.5,288.5 87.6,289 88.7,289.5 89.9,288.2 91,288.8 92.1,288.7 93.3,287.7 94.4,288.1 95.5,287.3 96.7,285.3 97.8,286.7 99,287.3 100.1,287.7 101.2,287.5 102.4,286.4 103.5,285.9 104.6,284.4 105.8,286.3 106.9,285.3 108,286.3 109.2,285.8 110.3,285.7 111.5,284.8 112.6,284.7 113.7,284.2 114.9,284.9 116,284.8 117.1,284.9 118.2,284 119.3,283.9 120.4,283.8 121.5,284.1 122.7,283 123.8,283.9 124.9,283.7 126,283.7 127.1,283.2 128.2,283.4 129.3,283.4 130.4,282.9 131.5,282.1 132.6,282.4 133.7,281.8 134.8,282.2 135.9,282.3 137.1,281.8 138.2,281.8 139.3,282.1 140.4,281.6 141.5,281.3 142.6,281.4 143.7,281.6 144.9,281.5 146,279.2 147.1,280.8 148.2,282 149.4,281.6 150.5,282.1 151.6,282.1 152.7,281.5 153.9,281.7 155,281.7 156.1,282.7 157.2,282.2 158.4,282.2 159.5,282.8 160.6,282.1 161.7,283.3 162.9,283.1 164,283.4 165.1,283.1 166.2,282.7 167.4,282.6 168.5,282.9 169.6,283.6 170.7,283.9 171.9,284.1 173,283.8 174.1,283.8 175.2,283.8 176.3,284.2 177.5,283.8 178.6,284 179.7,283.1 180.8,284.7 181.9,284.4 183,284.2 184.1,282.2 185.2,285.5 186.4,285.4 187.5,284.5 188.6,285.4 189.7,282.9 190.8,284.9 191.9,285.9 193,285.8 194.1,286.2 195.3,286.3 196.4,285.8 197.5,286.1 198.6,286.4 199.7,286.8 200.8,285.6 201.9,285.7 203,286.4 204.1,285.6 205.2,287.2 206.3,286.9 207.4,284.6 208.5,286.4 209.6,286.3 210.7,287.5 211.9,286.7 213,287.4 214.1,286.7 215.2,286.8 216.3,287.6 217.4,287.1 218.5,287.7 219.6,287.7 220.7,287.3 221.8,287.9 222.9,287.2 224,288.2 225.1,287.7 226.2,285 227.3,288.1 228.4,288.2 229.5,285.5 230.7,289.1 231.8,288.3 232.9,288.2 234,288.1 235.1,289.3 236.2,289.5 237.3,288.6 238.4,289.1 239.5,288.9 240.6,289.4 241.7,288.7 242.8,289.3 244,289.3 245.1,289.3 246.2,289.2 247.3,290 248.4,289.5 249.5,290.4 250.7,286.9 251.8,290.2 253,290.3 254.2,291.2 255.3,290.7 256.5,290.7 257.6,292.4 258.8,292.2 258.8,295.5 257.7,295.7 256.5,296.9 255.4,302 254.3,299.4 253.1,299.2 252,299.5 250.8,300.6 249.7,301.9 248.5,301.8 247.3,302.4 246.2,301.4 245,303.7 243.8,304.1 242.6,304.2 241.5,303 240.3,304 239.1,305.1 238,304.9 236.8,305.4 235.6,306.6 234.5,306.5 233.3,308.5 232.1,307.5 231,308.4 229.8,308.7 228.7,308.2 227.5,308.1 226.3,310 225.2,309 224,309.2 222.8,314.1 221.7,310 220.5,310.3 219.4,310.3 218.2,311.6 217.1,310.8 215.9,312.6 214.8,315.1 213.6,313.8 212.5,314.1 211.3,313 210.1,312.7 209,313.6 207.8,314.1 206.7,315.7 205.5,315.9 204.4,318 203.2,316.7 202.1,315.8 200.9,315.8 199.8,321.3 198.6,316.6 197.5,316.3 196.3,317.5 195.2,318.8 194,317.9 192.9,319.3 191.7,318.5 190.6,318.7 189.4,319.4 188.3,319.9 187.1,319.5 186,319.2 184.9,319.1 183.7,318.8 182.6,324.3 181.5,319.8 180.3,319.8 179.2,320.4 178.1,321.8 177,320.9 175.8,321.2 174.7,319.3 173.6,320.7 172.4,319.5 171.3,320.1 170.2,321.8 169,319.9 167.9,320 166.8,320.8 165.7,320.7 164.5,321.1 163.4,321 162.3,320.9 161.1,323.6 160,321 158.9,321.2 157.8,320.3 156.7,321.5 155.6,320.2 154.4,321.5 153.3,320.7 152.2,320.9 151.1,319.9 150,320.5 148.9,321.4 147.8,319.8 146.7,320.4 145.6,319.4 144.4,321 143.3,320.7 142.2,320 141.1,318.9 140,319 138.9,321.8 137.8,319.1 136.7,319.3 135.6,319.6 134.4,317.8 133.3,317.6 132.2,318.8 131.1,319.2 130,319.3 128.9,318.4 127.8,317.5 126.7,316.7 125.6,317.3 124.4,319 123.3,317.7 122.2,316.4 121.1,316.9 120,316.6 118.8,316.7 117.7,317.7 116.5,317.4 115.3,316.9 114.1,316.8 113,316.2 111.8,315.2 110.6,317.2 109.5,319.5 108.3,316.1 107.1,313.9 105.9,314 104.8,315.3 103.6,314 102.5,315 101.3,313.3 100.2,314.8 99,313.3 97.9,313 96.7,312.6 95.6,313.4 94.4,314.1 93.3,314.4 92.1,314.1 91,312.6 89.8,312.1 88.6,312.3 87.5,312.5 86.3,311.9 85.1,311.9 83.9,312.7 82.7,312.7 81.5,312.2 80.4,313.1 79.2,313.3 78,312 76.8,312.9 75.6,312 74.5,312.1 73.3,311 72.1,311.4 70.9,310.8 69.7,310.8 68.5,310.2 67.4,309.8 66.2,312.8 65,308.6 63.8,308.9 62.6,307.5 61.4,309.3 60.2,307.5 59,307.9 57.8,306.9 56.6,306.9 55.4,304.7 54.2,306.6 53,304.6 51.8,304.1 50.7,305.8 49.5,303 48.3,303.4 47.2,302.3 46,302.6 44.8,302 43.6,301.9 42.4,305 41.2,300.6" fill="#d20c0c"/>
<clipPath id="c3"><polygon points="41.2,298.6 42.4,297.4 43.6,296.8 44.8,297.3 46,296.8 47.2,296.4 48.3,296 49.5,295.9 50.7,295 51.8,296.2 53,295.6 54.2,295.3 55.4,292 56.6,294.4 57.8,293.7 59,293.3 60.2,293 61.4,293 62.6,292.3 63.8,292.7 65,292.4 66.1,291.5 67.3,292.4 68.4,292.2 69.5,291.1 70.7,290.9 71.8,291.1 72.9,290.8 74,290.7 75.2,290.3 76.3,291.1 77.4,290.5 78.6,290.1 79.7,290.2 80.8,290.1 82,288.2 83.1,289.8 84.2,289.3 85.3,287.1 86.5,288.5 87.6,289 88.7,289.5 89.9,288.2 91,288.8 92.1,288.7 93.3,287.7 94.4,288.1 95.5,287.3 96.7,285.3 97.8,286.7 99,287.3 100.1,287.7 101.2,287.5 102.4,286.4 103.5,285.9 104.6,284.4 105.8,286.3 106.9,285.3 108,286.3 109.2,285.8 110.3,285.7 111.5,284.8 112.6,284.7 113.7,284.2 114.9,284.9 116,284.8 117.1,284.9 118.2,284 119.3,283.9 120.4,283.8 121.5,284.1 122.7,283 123.8,283.9 124.9,283.7 126,283.7 127.1,283.2 128.2,283.4 129.3,283.4 130.4,282.9 131.5,282.1 132.6,282.4 133.7,281.8 134.8,282.2 135.9,282.3 137.1,281.8 138.2,281.8 139.3,282.1 140.4,281.6 141.5,281.3 142.6,281.4 143.7,281.6 144.9,281.5 146,279.2 147.1,280.8 148.2,282 149.4,281.6 150.5,282.1 151.6,282.1 152.7,281.5 153.9,281.7 155,281.7 156.1,282.7 157.2,282.2 158.4,282.2 159.5,282.8 160.6,282.1 161.7,283.3 162.9,283.1 164,283.4 165.1,283.1 166.2,282.7 167.4,282.6 168.5,282.9 169.6,283.6 170.7,283.9 171.9,284.1 173,283.8 174.1,283.8 175.2,283.8 176.3,284.2 177.5,283.8 178.6,284 179.7,283.1 180.8,284.7 181.9,284.4 183,284.2 184.1,282.2 185.2,285.5 186.4,285.4 187.5,284.5 188.6,285.4 189.7,282.9 190.8,284.9 191.9,285.9 193,285.8 194.1,286.2 195.3,286.3 196.4,285.8 197.5,286.1 198.6,286.4 199.7,286.8 200.8,285.6 201.9,285.7 203,286.4 204.1,285.6 205.2,287.2 206.3,286.9 207.4,284.6 208.5,286.4 209.6,286.3 210.7,287.5 211.9,286.7 213,287.4 214.1,286.7 215.2,286.8 216.3,287.6 217.4,287.1 218.5,287.7 219.6,287.7 220.7,287.3 221.8,287.9 222.9,287.2 224,288.2 225.1,287.7 226.2,285 227.3,288.1 228.4,288.2 229.5,285.5 230.7,289.1 231.8,288.3 232.9,288.2 234,288.1 235.1,289.3 236.2,289.5 237.3,288.6 238.4,289.1 239.5,288.9 240.6,289.4 241.7,288.7 242.8,289.3 244,289.3 245.1,289.3 246.2,289.2 247.3,290 248.4,289.5 249.5,290.4 250.7,286.9 251.8,290.2 253,290.3 254.2,291.2 255.3,290.7 256.5,290.7 257.6,292.4 258.8,292.2 258.8,292.3 257.4,294 256.1,293.3 254.7,295.9 253.4,295.3 252,296.3 250.6,298 249.2,297.8 247.9,297.5 246.5,299.1 245.1,299.6 243.7,299.7 242.3,301.1 240.9,304.1 239.6,300.9 238.2,301.5 236.8,302.2 235.4,303.7 234,303.2 232.5,303.4 231.1,304.6 229.7,306.9 228.3,304.5 226.8,305.1 225.4,306.3 224,306 222.6,307.5 221.2,306.7 219.8,307 218.4,308.4 216.9,309.3 215.5,308.1 214.1,309.5 212.7,310.5 211.3,309.8 209.9,313.1 208.5,310.5 207.1,311.5 205.7,312.7 204.2,312 202.8,313.3 201.4,313.5 200,313.8 198.6,313.4 197.2,315 195.8,314.9 194.4,314.8 193,314.4 191.6,314.7 190.2,315.5 188.8,316.2 187.4,317.1 186,316 184.7,317.1 183.4,316.9 182.1,317.6 180.8,317.9 179.5,316.9 178.2,316.2 176.9,316.2 175.6,317 174.3,317.2 173,317.1 171.7,316.4 170.4,318.4 169.1,317.3 167.8,318.1 166.5,318.7 165.2,317.3 163.9,317.7 162.6,319 161.3,318.3 160,317.8 158.7,318.4 157.3,318.6 156,316.9 154.7,317.7 153.3,316.7 152,317.1 150.7,316.8 149.3,316.9 148,317.8 146.7,316.4 145.3,318.3 144,318.4 142.7,317 141.3,319.6 140,315.8 138.7,315.8 137.3,315.8 136,315.7 134.7,314.9 133.3,314.5 132,316 130.7,315.8 129.3,314.9 128,314 126.7,315.4 125.3,314.5 124,315 122.7,316.9 121.3,313.3 120,313.4 118.6,312.9 117.3,313.5 115.9,313.1 114.5,313.4 113.2,312.3 111.8,313.4 110.4,314.4 109.1,312 107.7,312.3 106.3,310.9 105,312.4 103.6,310.8 102.2,312.3 100.8,310.9 99.4,310.1 98,313.4 96.6,309.6 95.2,310.1 93.8,309.6 92.4,309.7 91,309.4 89.7,308.9 88.4,310.6 87.1,311.6 85.8,311.4 84.5,309.4 83.2,310.1 81.9,308.8 80.6,308.8 79.3,310.2 78,308.8 76.7,309.6 75.4,309.1 74.1,308.1 72.8,308.7 71.5,306.8 70.2,307.4 68.9,308.8 67.6,306 66.3,309.3 65,305.4 63.7,306.1 62.3,306.9 61,304.7 59.7,304.7 58.3,304.2 57,302.6 55.7,302.8 54.3,303.2 53,301.4 51.6,300.9 50.2,301.7 48.8,300.5 47.4,301.2 46,299.4 44.4,298.5 42.8,298.1 41.2,297.4"/></clipPath>
<polygon points="41.2,298.6 42.4,297.4 43.6,296.8 44.8,297.3 46,296.8 47.2,296.4 48.3,296 49.5,295.9 50.7,295 51.8,296.2 53,295.6 54.2,295.3 55.4,292 56.6,294.4 57.8,293.7 59,293.3 60.2,293 61.4,293 62.6,292.3 63.8,292.7 65,292.4 66.1,291.5 67.3,292.4 68.4,292.2 69.5,291.1 70.7,290.9 71.8,291.1 72.9,290.8 74,290.7 75.2,290.3 76.3,291.1 77.4,290.5 78.6,290.1 79.7,290.2 80.8,290.1 82,288.2 83.1,289.8 84.2,289.3 85.3,287.1 86.5,288.5 87.6,289 88.7,289.5 89.9,288.2 91,288.8 92.1,288.7 93.3,287.7 94.4,288.1 95.5,287.3 96.7,285.3 97.8,286.7 99,287.3 100.1,287.7 101.2,287.5 102.4,286.4 103.5,285.9 104.6,284.4 105.8,286.3 106.9,285.3 108,286.3 109.2,285.8 110.3,285.7 111.5,284.8 112.6,284.7 113.7,284.2 114.9,284.9 116,284.8 117.1,284.9 118.2,284 119.3,283.9 120.4,283.8 121.5,284.1 122.7,283 123.8,283.9 124.9,283.7 126,283.7 127.1,283.2 128.2,283.4 129.3,283.4 130.4,282.9 131.5,282.1 132.6,282.4 133.7,281.8 134.8,282.2 135.9,282.3 137.1,281.8 138.2,281.8 139.3,282.1 140.4,281.6 141.5,281.3 142.6,281.4 143.7,281.6 144.9,281.5 146,279.2 147.1,280.8 148.2,282 149.4,281.6 150.5,282.1 151.6,282.1 152.7,281.5 153.9,281.7 155,281.7 156.1,282.7 157.2,282.2 158.4,282.2 159.5,282.8 160.6,282.1 161.7,283.3 162.9,283.1 164,283.4 165.1,283.1 166.2,282.7 167.4,282.6 168.5,282.9 169.6,283.6 170.7,283.9 171.9,284.1 173,283.8 174.1,283.8 175.2,283.8 176.3,284.2 177.5,283.8 178.6,284 179.7,283.1 180.8,284.7 181.9,284.4 183,284.2 184.1,282.2 185.2,285.5 186.4,285.4 187.5,284.5 188.6,285.4 189.7,282.9 190.8,284.9 191.9,285.9 193,285.8 194.1,286.2 195.3,286.3 196.4,285.8 197.5,286.1 198.6,286.4 199.7,286.8 200.8,285.6 201.9,285.7 203,286.4 204.1,285.6 205.2,287.2 206.3,286.9 207.4,284.6 208.5,286.4 209.6,286.3 210.7,287.5 211.9,286.7 213,287.4 214.1,286.7 215.2,286.8 216.3,287.6 217.4,287.1 218.5,287.7 219.6,287.7 220.7,287.3 221.8,287.9 222.9,287.2 224,288.2 225.1,287.7 226.2,285 227.3,288.1 228.4,288.2 229.5,285.5 230.7,289.1 231.8,288.3 232.9,288.2 234,288.1 235.1,289.3 236.2,289.5 237.3,288.6 238.4,289.1 239.5,288.9 240.6,289.4 241.7,288.7 242.8,289.3 244,289.3 245.1,289.3 246.2,289.2 247.3,290 248.4,289.5 249.5,290.4 250.7,286.9 251.8,290.2 253,290.3 254.2,291.2 255.3,290.7 256.5,290.7 257.6,292.4 258.8,292.2 258.8,292.3 257.4,294 256.1,293.3 254.7,295.9 253.4,295.3 252,296.3 250.6,298 249.2,297.8 247.9,297.5 246.5,299.1 245.1,299.6 243.7,299.7 242.3,301.1 240.9,304.1 239.6,300.9 238.2,301.5 236.8,302.2 235.4,303.7 234,303.2 232.5,303.4 231.1,304.6 229.7,306.9 228.3,304.5 226.8,305.1 225.4,306.3 224,306 222.6,307.5 221.2,306.7 219.8,307 218.4,308.4 216.9,309.3 215.5,308.1 214.1,309.5 212.7,310.5 211.3,309.8 209.9,313.1 208.5,310.5 207.1,311.5 205.7,312.7 204.2,312 202.8,313.3 201.4,313.5 200,313.8 198.6,313.4 197.2,315 195.8,314.9 194.4,314.8 193,314.4 191.6,314.7 190.2,315.5 188.8,316.2 187.4,317.1 186,316 184.7,317.1 183.4,316.9 182.1,317.6 180.8,317.9 179.5,316.9 178.2,316.2 176.9,316.2 175.6,317 174.3,317.2 173,317.1 171.7,316.4 170.4,318.4 169.1,317.3 167.8,318.1 166.5,318.7 165.2,317.3 163.9,317.7 162.6,319 161.3,318.3 160,317.8 158.7,318.4 157.3,318.6 156,316.9 154.7,317.7 153.3,316.7 152,317.1 150.7,316.8 149.3,316.9 148,317.8 146.7,316.4 145.3,318.3 144,318.4 142.7,317 141.3,319.6 140,315.8 138.7,315.8 137.3,315.8 136,315.7 134.7,314.9 133.3,314.5 132,316 130.7,315.8 129.3,314.9 128,314 126.7,315.4 125.3,314.5 124,315 122.7,316.9 121.3,313.3 120,313.4 118.6,312.9 117.3,313.5 115.9,313.1 114.5,313.4 113.2,312.3 111.8,313.4 110.4,314.4 109.1,312 107.7,312.3 106.3,310.9 105,312.4 103.6,310.8 102.2,312.3 100.8,310.9 99.4,310.1 98,313.4 96.6,309.6 95.2,310.1 93.8,309.6 92.4,309.7 91,309.4 89.7,308.9 88.4,310.6 87.1,311.6 85.8,311.4 84.5,309.4 83.2,310.1 81.9,308.8 80.6,308.8 79.3,310.2 78,308.8 76.7,309.6 75.4,309.1 74.1,308.1 72.8,308.7 71.5,306.8 70.2,307.4 68.9,308.8 67.6,306 66.3,309.3 65,305.4 63.7,306.1 62.3,306.9 61,304.7 59.7,304.7 58.3,304.2 57,302.6 55.7,302.8 54.3,303.2 53,301.4 51.6,300.9 50.2,301.7 48.8,300.5 47.4,301.2 46,299.4 44.4,298.5 42.8,298.1 41.2,297.4" fill="url(#g17)"/>
<g clip-path="url(#c3)">
<path d="M115.9 286.9l1.1 2.8l1.4 -2.7z" fill="#c00808" opacity="0.5"/>
<path d="M144.5 284.1l1.1 2.8l1.4 -1.4z" fill="#7c0000" opacity="0.5"/>
<path d="M177.1 292.6l1.1 1.8l1.2 -2.4z" fill="#c81010" opacity="0.5"/>
<path d="M115.4 298.3l1.4 1.6l1.8 -2.4z" fill="#c00808" opacity="0.5"/>
<path d="M127.5 301.4l1.1 2.4l1.1 -1.2z" fill="#8e0000" opacity="0.5"/>
<path d="M180.3 304.5l1 2.1l0.9 -2.3z" fill="#7c0000" opacity="0.5"/>
<path d="M207.6 303.8l1.5 2.6l0.9 -1.7z" fill="#c00808" opacity="0.5"/>
<path d="M51 300l1.2 2.3l1.9 -1.2z" fill="#960000" opacity="0.5"/>
<path d="M108.3 310.8l1.7 3.4l1 -1.1z" fill="#c81010" opacity="0.5"/>
<path d="M182 295.5l1.4 1.6l1.3 -2z" fill="#8e0000" opacity="0.5"/>
<path d="M60.7 302.2l0.9 3.8l1.4 -1.3z" fill="#c81010" opacity="0.5"/>
<path d="M220.9 300.1l1.8 3.9l1.2 -2.9z" fill="#8e0000" opacity="0.5"/>
<path d="M162.4 303.8l1.7 3.3l0.9 -1.1z" fill="#8a0000" opacity="0.5"/>
<path d="M209.5 304.7l1.2 3.9l1.5 -1.7z" fill="#c00808" opacity="0.5"/>
<path d="M224.2 298.7l1.5 3.7l1.7 -1.4z" fill="#960000" opacity="0.5"/>
<path d="M68.4 299l1.3 3.8l1.4 -1.2z" fill="#c00808" opacity="0.5"/>
<path d="M132.9 289.2l1.5 1.9l1.4 -1.5z" fill="#c00808" opacity="0.5"/>
<path d="M97.9 298.1l1.1 2.6l1.6 -1.5z" fill="#c00808" opacity="0.5"/>
<path d="M114.6 306.2l1.2 3.4l1.4 -1.1z" fill="#8e0000" opacity="0.5"/>
<path d="M204 291.8l0.9 2.7l1.8 -2.6z" fill="#7c0000" opacity="0.5"/>
<path d="M129.6 313.4l1.2 3.5l1.1 -2.2z" fill="#c00808" opacity="0.5"/>
<path d="M104.6 307.9l1.1 3.6l1.5 -2z" fill="#8e0000" opacity="0.5"/>
<path d="M170.8 293.8l1.7 3.1l1.6 -1.8z" fill="#960000" opacity="0.5"/>
<path d="M127.4 304.5l1.5 1.9l1.8 -1.6z" fill="#7c0000" opacity="0.5"/>
<path d="M198.7 293.7l1.8 3.1l1.2 -2.6z" fill="#c00808" opacity="0.5"/>
<path d="M224.2 295.6l1.1 2.5l1.3 -1.2z" fill="#8a0000" opacity="0.5"/>
<path d="M209.8 292.4l1.2 2.8l1.3 -1.1z" fill="#960000" opacity="0.5"/>
<path d="M66.1 301.1l1.3 2.1l1.1 -2.3z" fill="#7c0000" opacity="0.5"/>
<path d="M186.3 310.3l1.8 2.2l1.4 -1.2z" fill="#8e0000" opacity="0.5"/>
<path d="M86.6 294.3l0.9 2.7l1.1 -2.9z" fill="#c00808" opacity="0.5"/>
<path d="M228.7 295.3l1.6 3.6l1 -2.9z" fill="#8e0000" opacity="0.5"/>
<path d="M152.3 293.7l1.1 2.4l1.7 -1.7z" fill="#960000" opacity="0.5"/>
<path d="M121.4 293l1.4 3.1l1 -1.2z" fill="#c00808" opacity="0.5"/>
<path d="M174.7 287.8l1.8 1.5l1.5 -1.4z" fill="#960000" opacity="0.5"/>
<path d="M134.2 303.1l1 3.4l1.9 -2.7z" fill="#c00808" opacity="0.5"/>
<path d="M231.8 298.1l1 2.7l1.8 -2.9z" fill="#8e0000" opacity="0.5"/>
<path d="M186.4 292.8l0.9 2.7l1.6 -1.4z" fill="#c81010" opacity="0.5"/>
<path d="M153.3 299.8l0.9 2.3l1 -2.9z" fill="#7c0000" opacity="0.5"/>
<path d="M123.4 299.9l1.3 3.1l1.3 -1.9z" fill="#7c0000" opacity="0.5"/>
<path d="M170.5 285.5l1.5 4l1.1 -2.1z" fill="#c00808" opacity="0.5"/>
<path d="M98.2 306.3l0.9 3.8l1 -2.8z" fill="#7c0000" opacity="0.5"/>
<path d="M123 312.3l1.7 2.8l1 -1.9z" fill="#8a0000" opacity="0.5"/>
<path d="M151.7 291.3l1.7 1.7l1.4 -2.4z" fill="#c00808" opacity="0.5"/>
<path d="M228 298.1l1.5 1.6l1.6 -1.7z" fill="#8a0000" opacity="0.5"/>
<path d="M170.1 286.4l1 2.8l1 -2.8z" fill="#960000" opacity="0.5"/>
<path d="M165.8 301.1l1.1 2.6l1.5 -2.4z" fill="#c81010" opacity="0.5"/>
<path d="M157.6 294.1l1.1 2.7l1.2 -2.2z" fill="#7c0000" opacity="0.5"/>
<path d="M218.8 293l1.7 2.1l1.1 -1.4z" fill="#8a0000" opacity="0.5"/>
<path d="M136.7 310.5l1.6 1.7l1 -2z" fill="#c00808" opacity="0.5"/>
<path d="M218.2 293.7l1.2 1.7l1.3 -2.9z" fill="#c00808" opacity="0.5"/>
<path d="M154.4 304.1l1.2 1.7l1.8 -1.6z" fill="#7c0000" opacity="0.5"/>
<path d="M256.8 293.1l1 1.8l1.6 -2z" fill="#7c0000" opacity="0.5"/>
<path d="M249.9 293.8l1.7 3.6l0.9 -1.3z" fill="#960000" opacity="0.5"/>
<path d="M241.6 292.2l1.1 2.3l1 -2.2z" fill="#c00808" opacity="0.5"/>
<path d="M166.6 294.7l0.9 3.7l1.5 -2.8z" fill="#8a0000" opacity="0.5"/>
<path d="M139.1 304.9l0.8 1.7l1.7 -1.3z" fill="#c81010" opacity="0.5"/>
<path d="M126 286.3l1.3 2.8l1.7 -1.4z" fill="#8a0000" opacity="0.5"/>
<path d="M96.3 302.1l1 3.1l0.9 -1.2z" fill="#7c0000" opacity="0.5"/>
<path d="M171.1 293.9l1.3 2.3l1.9 -2.4z" fill="#7c0000" opacity="0.5"/>
<path d="M127.2 313.4l0.8 3.7l1.5 -1.7z" fill="#c00808" opacity="0.5"/>
<path d="M92.3 297.8l1.6 2.4l1.5 -2.1z" fill="#8e0000" opacity="0.5"/>
<path d="M65.7 296.4l1.7 4l1.4 -1.8z" fill="#8e0000" opacity="0.5"/>
<path d="M151.6 287.4l0.9 2.9l1.3 -1.4z" fill="#c00808" opacity="0.5"/>
<path d="M175.7 305.9l1 3.9l1 -1.2z" fill="#7c0000" opacity="0.5"/>
<path d="M190 293.1l1 3.3l1.1 -2.4z" fill="#960000" opacity="0.5"/>
<path d="M187.2 299.3l1.1 3.2l1.3 -2.8z" fill="#c00808" opacity="0.5"/>
<path d="M213.8 294.7l1 2.7l1 -1.2z" fill="#c00808" opacity="0.5"/>
<path d="M119 307.5l1.5 3.6l1.7 -1.9z" fill="#7c0000" opacity="0.5"/>
<path d="M174.9 306.3l1.6 3.1l1.1 -3z" fill="#8e0000" opacity="0.5"/>
<path d="M137.2 306.7l1.6 1.7l1.8 -1.5z" fill="#c00808" opacity="0.5"/>
<path d="M144.1 312.3l1.7 3.5l0.9 -1.7z" fill="#8e0000" opacity="0.5"/>
<path d="M128.6 287.8l1.3 2.5l1.6 -1.2z" fill="#960000" opacity="0.5"/>
<path d="M219.9 300.6l1.3 2.4l1 -1.2z" fill="#7c0000" opacity="0.5"/>
<path d="M199.1 304l1 3.4l1.7 -2z" fill="#c00808" opacity="0.5"/>
<path d="M150 286.4l1.4 3.9l1.1 -1.8z" fill="#c81010" opacity="0.5"/>
<path d="M183.3 291.1l1.2 2.1l1.4 -2.4z" fill="#7c0000" opacity="0.5"/>
<path d="M155.9 304.8l1.6 2l1.2 -2.6z" fill="#960000" opacity="0.5"/>
<path d="M90.3 297.3l0.9 2.4l1.8 -1.2z" fill="#7c0000" opacity="0.5"/>
<path d="M134.7 310.2l1.1 3.2l1.1 -3z" fill="#c00808" opacity="0.5"/>
<path d="M195.8 302.7l0.9 2.8l1.5 -1.2z" fill="#7c0000" opacity="0.5"/>
<path d="M133.2 294.5l1.7 2l1.7 -2.1z" fill="#8e0000" opacity="0.5"/>
<path d="M93.1 293.5l1.6 1.7l1.3 -1.6z" fill="#8e0000" opacity="0.5"/>
<path d="M191.1 305.8l1.7 1.6l1.4 -1.1z" fill="#c00808" opacity="0.5"/>
<path d="M153.8 288.4l1.3 3.2l1.1 -2.7z" fill="#7c0000" opacity="0.5"/>
<path d="M94.7 302.8l1.8 2.4l1.9 -1.1z" fill="#8e0000" opacity="0.5"/>
<path d="M161.4 284.6l1.5 1.6l1.1 -1.5z" fill="#7c0000" opacity="0.5"/>
<path d="M136.8 290l0.9 2.7l1.2 -2.5z" fill="#c81010" opacity="0.5"/>
<path d="M204.5 306.6l1 3.8l1.8 -2.1z" fill="#7c0000" opacity="0.5"/>
<path d="M114.7 292.7l0.9 3.3l1.2 -1z" fill="#c81010" opacity="0.5"/>
<path d="M92 305.9l0.9 3.6l1.4 -2.3z" fill="#c81010" opacity="0.5"/>
<path d="M147.7 308.5l1.4 3.9l1.2 -1.4z" fill="#960000" opacity="0.5"/>
<path d="M220.6 295.9l1.4 2.9l1.6 -1.7z" fill="#8a0000" opacity="0.5"/>
<path d="M145.7 298.8l1.6 4l1.1 -2.8z" fill="#8e0000" opacity="0.5"/>
<path d="M169.2 293.9l1 3.7l1.3 -2.8z" fill="#8a0000" opacity="0.5"/>
<path d="M147.2 290l1.6 3.9l1.6 -2.7z" fill="#c00808" opacity="0.5"/>
<path d="M224.8 300.7l1.5 2.2l1.8 -2.2z" fill="#960000" opacity="0.5"/>
<path d="M145.7 315.2l1.1 3.3l1.8 -2.8z" fill="#8a0000" opacity="0.5"/>
<path d="M147.6 315.6l0.8 2.9l1.1 -1.8z" fill="#8a0000" opacity="0.5"/>
<path d="M243.6 293.5l1.4 3.3l1.6 -1.8z" fill="#c81010" opacity="0.5"/>
<path d="M151.5 298.9l1.8 2.7l1.1 -1.7z" fill="#8a0000" opacity="0.5"/>
<path d="M78.5 295.9l1.4 3.2l0.9 -1.9z" fill="#8e0000" opacity="0.5"/>
<path d="M163.4 284.4l0.9 2.2l1.4 -1.3z" fill="#960000" opacity="0.5"/>
<path d="M141.9 305.1l1.7 2.1l1.8 -1.7z" fill="#960000" opacity="0.5"/>
<path d="M198.6 307.5l1.1 1.5l1 -2.4z" fill="#c00808" opacity="0.5"/>
<path d="M92.5 293.3l1.4 3.1l1.7 -2.5z" fill="#8a0000" opacity="0.5"/>
<path d="M210.8 298.7l1.5 1.6l1 -1.5z" fill="#7c0000" opacity="0.5"/>
<path d="M154.6 287l1.6 2.6l1.1 -1.2z" fill="#c81010" opacity="0.5"/>
<path d="M143.4 283.9l0.8 2.6l1 -2.8z" fill="#c00808" opacity="0.5"/>
<path d="M143.1 312.3l1.6 2.9l1 -2.1z" fill="#c81010" opacity="0.5"/>
<path d="M163.9 300.1l1.8 2.3l1.3 -1.6z" fill="#c81010" opacity="0.5"/>
<path d="M210.5 301l0.9 3.2l1.8 -2.2z" fill="#8e0000" opacity="0.5"/>
<path d="M237.9 292.3l1.4 3.5l1.7 -2.3z" fill="#c81010" opacity="0.5"/>
<path d="M104.4 308.3l1.4 3.9l1.2 -1.3z" fill="#c81010" opacity="0.5"/>
<path d="M203.3 294l1.1 2.2l1.1 -1.2z" fill="#960000" opacity="0.5"/>
<path d="M234.4 296.2l1.5 1.5l1.8 -2.1z" fill="#8a0000" opacity="0.5"/>
<path d="M107.7 298.9l0.9 2.1l1.4 -1z" fill="#960000" opacity="0.5"/>
<path d="M122.9 303.9l1.6 3.6l1.4 -2.8z" fill="#8e0000" opacity="0.5"/>
<path d="M138 311.1l0.8 3.5l1.7 -2.3z" fill="#c00808" opacity="0.5"/>
<path d="M168.4 309.3l1.3 1.8l1.3 -1.3z" fill="#7c0000" opacity="0.5"/>
<path d="M205.3 294.3l0.9 3.1l1 -2.3z" fill="#c00808" opacity="0.5"/>
<path d="M136.5 290.7l1.8 2.5l1.9 -2.3z" fill="#960000" opacity="0.5"/>
<path d="M144.3 287l1.7 3.4l1.4 -2.2z" fill="#c81010" opacity="0.5"/>
<path d="M179.9 303.1l1.1 2l1.7 -1.9z" fill="#c00808" opacity="0.5"/>
<path d="M159.1 304.1l1 2.8l1.6 -2.4z" fill="#8e0000" opacity="0.5"/>
<path d="M154.8 317.3l1.3 1.5l0.9 -1.1z" fill="#8e0000" opacity="0.5"/>
<path d="M172.2 304.6l1.1 2.4l1.4 -1.6z" fill="#960000" opacity="0.5"/>
<path d="M227.5 290l1.3 2.8l1.2 -2.5z" fill="#c81010" opacity="0.5"/>
<path d="M169 309.7l1.7 3.5l1.2 -1.3z" fill="#c00808" opacity="0.5"/>
<path d="M171.4 290.5l1.2 3.4l1.3 -1.8z" fill="#c81010" opacity="0.5"/>
<path d="M134.5 296.3l0.9 1.6l1.2 -2.8z" fill="#c81010" opacity="0.5"/>
<path d="M166.4 294.8l1.5 2.5l1.1 -2.4z" fill="#8e0000" opacity="0.5"/>
<path d="M77.5 293.9l1.6 3.7l1.2 -1.5z" fill="#8a0000" opacity="0.5"/>
<path d="M129 289l0.8 2.1l1 -2.7z" fill="#8e0000" opacity="0.5"/>
<path d="M191.6 299.2l1.4 1.7l1.9 -2.5z" fill="#c00808" opacity="0.5"/>
<path d="M210.9 294.9l1 1.7l1.7 -2.4z" fill="#8a0000" opacity="0.5"/>
<path d="M163.5 312.2l1.7 3.5l1.2 -2.9z" fill="#7c0000" opacity="0.5"/>
<path d="M74.2 299.3l1.4 2.3l1.7 -1z" fill="#960000" opacity="0.5"/>
<path d="M175.2 310.9l0.8 1.7l1.6 -2z" fill="#8e0000" opacity="0.5"/>
<path d="M141.9 288.4l1.5 3.5l1.6 -1.2z" fill="#c81010" opacity="0.5"/>
<path d="M145.8 312.9l1.3 2.1l1.7 -2.4z" fill="#c00808" opacity="0.5"/>
<path d="M133.7 290l1.3 2.4l1.4 -1.3z" fill="#7c0000" opacity="0.5"/>
<path d="M188.1 292.7l0.9 2.5l1.9 -2.5z" fill="#c00808" opacity="0.5"/>
<path d="M204.2 308.1l1 2.7l1.1 -2.6z" fill="#7c0000" opacity="0.5"/>
<path d="M146.1 317.2l1 3.2l1.1 -2z" fill="#8e0000" opacity="0.5"/>
<path d="M75.8 302.3l1.6 2.5l1.1 -2.9z" fill="#7c0000" opacity="0.5"/>
<path d="M179.5 298.6l1.6 1.6l1.1 -2.7z" fill="#c81010" opacity="0.5"/>
<path d="M89.4 296.6l1.4 3.4l1 -3z" fill="#c00808" opacity="0.5"/>
<path d="M170.1 298.4l1.7 2.2l1.7 -2.5z" fill="#8a0000" opacity="0.5"/>
<path d="M211.2 303.2l1.4 3.8l1 -2.5z" fill="#c81010" opacity="0.5"/>
<path d="M116.9 312.6l1.7 2.2l1.6 -1.2z" fill="#c00808" opacity="0.5"/>
<path d="M228.8 296.7l1.6 1.8l1.8 -2.9z" fill="#c00808" opacity="0.5"/>
<path d="M100.7 297l1 3.7l1 -1.7z" fill="#8a0000" opacity="0.5"/>
<path d="M161.4 283.9l1.2 3.1l0.9 -1.8z" fill="#960000" opacity="0.5"/>
<path d="M59.5 301.8l0.9 2.2l1.4 -2.1z" fill="#8a0000" opacity="0.5"/>
<path d="M57.7 301.2l1 1.6l1.5 -2.4z" fill="#8e0000" opacity="0.5"/>
<path d="M214.6 295.9l1 1.7l1.5 -2.9z" fill="#c00808" opacity="0.5"/>
<path d="M133.2 287l1.3 3.8l1.2 -1z" fill="#c00808" opacity="0.5"/>
<path d="M171.7 302.9l1.3 2.4l1.5 -1.2z" fill="#c81010" opacity="0.5"/>
<path d="M199.9 309l1.6 2.9l1.2 -1.8z" fill="#960000" opacity="0.5"/>
<path d="M49.6 300.4l1 3l0.9 -1.4z" fill="#8e0000" opacity="0.5"/>
<path d="M100.8 303.2l0.9 3.7l1.9 -1.2z" fill="#8e0000" opacity="0.5"/>
<path d="M189 310.3l1.7 2.6l1.8 -1.1z" fill="#7c0000" opacity="0.5"/>
<path d="M196 294.3l0.9 1.7l1.4 -2.2z" fill="#c81010" opacity="0.5"/>
<path d="M131.9 289.7l1.1 2l1.1 -1.7z" fill="#c00808" opacity="0.5"/>
<path d="M222.7 298.5l1.7 3.1l1.1 -2.1z" fill="#960000" opacity="0.5"/>
<path d="M228.5 298.1l1.2 3.7l1.5 -2.8z" fill="#960000" opacity="0.5"/>
<path d="M214.8 292.2l1.3 1.5l1.8 -1.4z" fill="#960000" opacity="0.5"/>
<path d="M174.7 289.2l1.1 3.3l1 -2.7z" fill="#c81010" opacity="0.5"/>
<path d="M144 296.8l1.8 2.8l1.5 -1.4z" fill="#c00808" opacity="0.5"/>
<path d="M177.9 291.8l1.4 3.2l1.4 -1.3z" fill="#960000" opacity="0.5"/>
<path d="M95.2 292.2l1.7 3.8l1.6 -2.7z" fill="#8a0000" opacity="0.5"/>
<path d="M174.6 307.6l1 2l1.5 -2.9z" fill="#c81010" opacity="0.5"/>
<path d="M127.6 314.5l0.9 3.4l1.2 -2.4z" fill="#c00808" opacity="0.5"/>
<path d="M140.1 300.7l1.8 2.4l1.7 -2.6z" fill="#8a0000" opacity="0.5"/>
<path d="M179.1 291.8l1.8 3.7l1.3 -2.6z" fill="#960000" opacity="0.5"/>
<path d="M123.8 288.9l1.8 3.8l1.3 -2z" fill="#8e0000" opacity="0.5"/>
<path d="M141.2 313l1.4 3l1.8 -1.9z" fill="#c00808" opacity="0.5"/>
<path d="M112.4 301.4l0.9 2.2l1.7 -1.7z" fill="#8a0000" opacity="0.5"/>
<path d="M137.6 282.9l0.9 3.2l1.2 -1.4z" fill="#8a0000" opacity="0.5"/>
<path d="M189.2 301.3l1.6 1.6l1.4 -1.4z" fill="#8a0000" opacity="0.5"/>
<path d="M82.6 302.2l1.6 3l1 -1.3z" fill="#8e0000" opacity="0.5"/>
<path d="M225.9 300.1l0.8 1.9l1.3 -2.4z" fill="#960000" opacity="0.5"/>
<path d="M175.5 285.4l1.4 2.8l1.7 -2.1z" fill="#960000" opacity="0.5"/>
<path d="M152 306.1l0.8 2.7l1 -2.5z" fill="#7c0000" opacity="0.5"/>
<path d="M183.6 306.1l1.1 2l1.8 -2z" fill="#8e0000" opacity="0.5"/>
<path d="M249.5 292.1l0.9 3.8l1 -2.8z" fill="#c81010" opacity="0.5"/>
<path d="M212.7 290.7l1.4 3.4l1.5 -1.4z" fill="#c00808" opacity="0.5"/>
<path d="M137.4 313.4l1.3 1.5l1 -1.9z" fill="#960000" opacity="0.5"/>
<path d="M118 299.8l1.5 3.5l1.3 -1.9z" fill="#8e0000" opacity="0.5"/>
<path d="M127.2 297.8l1.7 2.2l1.6 -1.4z" fill="#7c0000" opacity="0.5"/>
<path d="M123.5 314l1.1 4l1.6 -1.6z" fill="#8a0000" opacity="0.5"/>
<path d="M216.7 297.5l1.3 1.8l1.9 -2.3z" fill="#8a0000" opacity="0.5"/>
<path d="M125.6 289.8l1.1 1.7l1.5 -2.4z" fill="#c00808" opacity="0.5"/>
<path d="M158.1 292.7l0.8 1.8l0.9 -2.1z" fill="#960000" opacity="0.5"/>
<path d="M121.1 293.7l1.3 2.7l1.4 -2.2z" fill="#c00808" opacity="0.5"/>
<path d="M167.6 290.7l1.3 2.8l1.7 -2.3z" fill="#c00808" opacity="0.5"/>
<path d="M215.8 290.8l0.9 3.6l1.2 -2.8z" fill="#960000" opacity="0.5"/>
<path d="M234.1 298.4l1.2 2.8l1.7 -1.1z" fill="#8e0000" opacity="0.5"/>
<path d="M162.6 298.9l1.7 2.9l1.6 -1.6z" fill="#8e0000" opacity="0.5"/>
<path d="M152.9 306.8l1.2 2.8l1.4 -2.7z" fill="#7c0000" opacity="0.5"/>
<path d="M102.5 299.9l1.4 2.7l1.2 -1.5z" fill="#960000" opacity="0.5"/>
<path d="M68.9 300.8l1.1 3.1l1.7 -1.6z" fill="#7c0000" opacity="0.5"/>
<path d="M165.9 312.9l0.8 2.1l1.2 -2.3z" fill="#c81010" opacity="0.5"/>
<path d="M116.4 305.9l1.7 2.3l1.2 -1.3z" fill="#c81010" opacity="0.5"/>
<path d="M148.4 307l1.5 2.7l1.7 -2.9z" fill="#960000" opacity="0.5"/>
<path d="M177 308.4l1.3 3l1.4 -1.3z" fill="#8a0000" opacity="0.5"/>
<path d="M185.4 300.2l0.9 2.7l1.1 -1.7z" fill="#c81010" opacity="0.5"/>
<path d="M117.2 301.4l1.1 2.2l1.5 -1.7z" fill="#c00808" opacity="0.5"/>
<path d="M251.4 294.3l1.2 2.4l1.4 -2.7z" fill="#8a0000" opacity="0.5"/>
<path d="M162.4 297.2l1.5 1.5l1.3 -2z" fill="#7c0000" opacity="0.5"/>
<path d="M83.2 301.5l1.5 3.9l1.9 -1.8z" fill="#960000" opacity="0.5"/>
<path d="M122 289.8l1 1.6l1.2 -2.8z" fill="#c00808" opacity="0.5"/>
<path d="M174.7 316.7l1.6 1.7l1.5 -1z" fill="#7c0000" opacity="0.5"/>
<path d="M208.7 297.4l1.1 2.2l1 -2.4z" fill="#c81010" opacity="0.5"/>
<path d="M140.5 305l1.6 3.9l1.3 -1.4z" fill="#8a0000" opacity="0.5"/>
<path d="M191.8 286.4l1.3 3.5l1.1 -2.7z" fill="#960000" opacity="0.5"/>
<path d="M75 297.3l1.2 3.5l1.9 -2.5z" fill="#c81010" opacity="0.5"/>
<path d="M209.3 298.8l1.3 2.5l0.9 -2.1z" fill="#8e0000" opacity="0.5"/>
<path d="M77.5 293l1.1 3.8l0.9 -1.7z" fill="#7c0000" opacity="0.5"/>
<path d="M199.2 294.6l1.1 3.5l1.1 -2.1z" fill="#8e0000" opacity="0.5"/>
<path d="M199.2 298.1l1.6 2.7l1.4 -2z" fill="#8a0000" opacity="0.5"/>
<path d="M201.7 296.6l1.4 2l1.6 -2.7z" fill="#c81010" opacity="0.5"/>
<path d="M124.5 314.3l1.6 2.5l1.3 -1.9z" fill="#8e0000" opacity="0.5"/>
<path d="M106.6 289l1.1 2.8l1.8 -2.6z" fill="#c00808" opacity="0.5"/>
<path d="M105.8 302.6l1.5 3.4l1.3 -1.2z" fill="#960000" opacity="0.5"/>
<path d="M230 295.5l1.7 3l1.4 -2.9z" fill="#8e0000" opacity="0.5"/>
<path d="M214.9 296.3l1.8 3.1l1.9 -2.8z" fill="#960000" opacity="0.5"/>
<path d="M150.5 311.5l1.4 3.4l1.6 -1.7z" fill="#960000" opacity="0.5"/>
<path d="M124.9 291.7l1.4 3.4l1 -1.5z" fill="#960000" opacity="0.5"/>
<path d="M75.4 294.2l1.4 3.6l1.8 -1.8z" fill="#7c0000" opacity="0.5"/>
<path d="M186.6 286.2l1.7 2.1l1.7 -1.6z" fill="#8e0000" opacity="0.5"/>
<path d="M152.6 284.7l1.6 1.7l1.9 -2.6z" fill="#8a0000" opacity="0.5"/>
<path d="M173.3 299.6l1.7 1.8l1.7 -2.8z" fill="#c81010" opacity="0.5"/>
<path d="M210.2 295.7l1.7 3.1l1.3 -2.3z" fill="#7c0000" opacity="0.5"/>
<path d="M60.7 296.1l1.5 2.2l0.9 -1.1z" fill="#c81010" opacity="0.5"/>
<path d="M184.6 295.1l1.7 2l1.5 -1.4z" fill="#c81010" opacity="0.5"/>
<path d="M109.6 290.1l1.4 3.2l1.4 -2.8z" fill="#8e0000" opacity="0.5"/>
<path d="M157.1 320.1l1.4 2.4l1.1 -1.8z" fill="#c00808" opacity="0.5"/>
<path d="M156.6 312.6l1.2 2.9l1.7 -1.3z" fill="#8a0000" opacity="0.5"/>
<path d="M163 288.3l0.9 3.5l1.2 -1.6z" fill="#c81010" opacity="0.5"/>
<path d="M209 292.7l1.1 2.4l1.5 -1.7z" fill="#960000" opacity="0.5"/>
<path d="M126.8 289.6l1.2 2.7l1 -2.7z" fill="#7c0000" opacity="0.5"/>
<path d="M113.4 299.8l1.7 3.2l1.1 -1.8z" fill="#c81010" opacity="0.5"/>
<path d="M57.5 300.2l1.7 1.6l1.8 -2.9z" fill="#c81010" opacity="0.5"/>
<path d="M124.4 296.6l1.5 2.7l1.3 -2.7z" fill="#c00808" opacity="0.5"/>
<path d="M119.7 301.5l1.3 2.4l1.2 -2.7z" fill="#8e0000" opacity="0.5"/>
<path d="M142.3 284.2l1 2.7l1.2 -2.2z" fill="#8e0000" opacity="0.5"/>
<path d="M133.1 287.1l1.4 2.1l1.5 -2.7z" fill="#960000" opacity="0.5"/>
<path d="M156.1 300.1l1.8 3.6l1.8 -1.6z" fill="#c81010" opacity="0.5"/>
<path d="M219.5 291.5l1.3 3.9l1 -1.8z" fill="#8e0000" opacity="0.5"/>
<path d="M161 312.5l1.3 2.9l1.1 -2.3z" fill="#c81010" opacity="0.5"/>
<path d="M196.7 309.5l1.5 2.2l1.2 -2.2z" fill="#960000" opacity="0.5"/>
<path d="M157.4 318.3l1 3.7l1.8 -2.9z" fill="#8e0000" opacity="0.5"/>
<path d="M138.8 284.5l0.9 3.2l1.4 -2.6z" fill="#c00808" opacity="0.5"/>
<path d="M198.5 309.2l1.1 2.8l1.5 -1.9z" fill="#c00808" opacity="0.5"/>
<path d="M206.3 294.1l1.1 2.8l1.4 -2.2z" fill="#8e0000" opacity="0.5"/>
<path d="M139.3 316.5l1.6 1.7l1 -2.2z" fill="#960000" opacity="0.5"/>
<path d="M78.5 301.7l1.7 1.6l1.2 -1.3z" fill="#8e0000" opacity="0.5"/>
<path d="M131.5 291.3l0.9 3.6l1.9 -1.6z" fill="#7c0000" opacity="0.5"/>
<path d="M135.5 302.5l1.6 2.4l1.7 -1z" fill="#c00808" opacity="0.5"/>
<path d="M237.9 296.7l1.6 1.8l1.4 -3z" fill="#960000" opacity="0.5"/>
<path d="M212.6 302.4l0.9 3.6l1.6 -2.9z" fill="#7c0000" opacity="0.5"/>
<path d="M210.5 288.8l1.7 3.7l1.7 -1.9z" fill="#c00808" opacity="0.5"/>
<path d="M192.7 304.2l0.9 1.7l1.2 -2z" fill="#960000" opacity="0.5"/>
<path d="M156.1 284.6l1.2 3.9l1.6 -1.9z" fill="#8a0000" opacity="0.5"/>
<path d="M95.3 305l1.6 1.9l1.8 -2z" fill="#c81010" opacity="0.5"/>
<path d="M175.4 298.5l0.9 3.5l1.5 -1.6z" fill="#c81010" opacity="0.5"/>
<path d="M175.8 290.1l1.4 3.9l1.8 -1.8z" fill="#c81010" opacity="0.5"/>
<path d="M196.4 297.6l1.7 3.6l1.3 -1.4z" fill="#8e0000" opacity="0.5"/>
<path d="M169 290.4l1.3 1.8l1.7 -1.8z" fill="#c81010" opacity="0.5"/>
<path d="M227.3 290l0.8 3.8l1.8 -2.1z" fill="#960000" opacity="0.5"/>
<path d="M147.5 304.1l0.8 3.2l1.6 -2.3z" fill="#7c0000" opacity="0.5"/>
<path d="M217.3 296l1.7 2.2l1.4 -2.4z" fill="#8e0000" opacity="0.5"/>
<path d="M159.7 289.1l0.9 3.7l1.5 -1.8z" fill="#8e0000" opacity="0.5"/>
<path d="M154.9 295.8l1.1 3.7l1.6 -2.1z" fill="#7c0000" opacity="0.5"/>
<path d="M239.8 293.1l1.3 3.7l1.8 -1.1z" fill="#8e0000" opacity="0.5"/>
<path d="M102.2 294.3l1 1.5l1.3 -2.7z" fill="#c81010" opacity="0.5"/>
<path d="M109.1 308.5l1.8 3.8l1.5 -1.2z" fill="#7c0000" opacity="0.5"/>
<path d="M138 283.7l1.5 2.4l1.7 -1.9z" fill="#7c0000" opacity="0.5"/>
<path d="M69.3 300.3l1.5 4l1.7 -1.9z" fill="#8e0000" opacity="0.5"/>
<path d="M234.1 297.1l1.5 2.8l1.3 -1.3z" fill="#8e0000" opacity="0.5"/>
<path d="M127 311.7l1.3 2.9l1.2 -1.1z" fill="#8a0000" opacity="0.5"/>
<path d="M171.2 304.1l1.4 3.1l1.1 -2.3z" fill="#8a0000" opacity="0.5"/>
<path d="M169.1 299.4l1.4 2.5l1.8 -2.4z" fill="#8a0000" opacity="0.5"/>
<path d="M168.8 290.1l1.4 2.8l1.8 -3z" fill="#7c0000" opacity="0.5"/>
<path d="M207.5 290.3l1.5 2.5l1.4 -1.8z" fill="#960000" opacity="0.5"/>
<path d="M177.8 288.4l1 2.3l1 -1.6z" fill="#c81010" opacity="0.5"/>
<path d="M182.4 302.4l1 2.3l1.6 -2.6z" fill="#c00808" opacity="0.5"/>
<path d="M183.2 299.8l0.9 3.7l1 -1.1z" fill="#960000" opacity="0.5"/>
<path d="M189.4 286.2l1.3 2.3l0.9 -1.1z" fill="#c00808" opacity="0.5"/>
<path d="M123.5 297.8l1.5 2l1.4 -2.8z" fill="#c81010" opacity="0.5"/>
<path d="M100.3 303.2l1.7 3.3l1.3 -2.2z" fill="#c00808" opacity="0.5"/>
<path d="M162.7 316l1.7 2.6l1.3 -2.2z" fill="#7c0000" opacity="0.5"/>
<path d="M189.9 305.7l1.5 1.9l1.5 -1.1z" fill="#8e0000" opacity="0.5"/>
<path d="M133.2 288.3l1.5 3.4l1.6 -2.7z" fill="#c81010" opacity="0.5"/>
<path d="M137.3 313.1l1.6 2.4l1.4 -2.2z" fill="#8e0000" opacity="0.5"/>
<path d="M171.4 290.5l1 2.8l1 -1.3z" fill="#8a0000" opacity="0.5"/>
<path d="M76.5 295.1l1.6 2.7l1.5 -2.3z" fill="#c00808" opacity="0.5"/>
<path d="M212.1 299.9l1.1 1.6l1.1 -2.7z" fill="#960000" opacity="0.5"/>
<path d="M125.6 309l1.1 2.7l1.8 -1.2z" fill="#960000" opacity="0.5"/>
<path d="M122 292.4l1.8 3.4l1.2 -1.7z" fill="#c81010" opacity="0.5"/>
<path d="M193.5 303.8l1.1 3l1 -1z" fill="#7c0000" opacity="0.5"/>
<path d="M181.7 296.4l1.2 1.7l1.7 -2.2z" fill="#8e0000" opacity="0.5"/>
<path d="M176.7 286.4l1 3.5l1.3 -1.4z" fill="#c81010" opacity="0.5"/>
<path d="M93.5 308.4l1.8 1.9l1.5 -1.4z" fill="#c00808" opacity="0.5"/>
<path d="M222.4 293l1.2 2.5l1.6 -1.6z" fill="#960000" opacity="0.5"/>
<path d="M136.6 302.1l1.6 2.2l1.6 -1.4z" fill="#8a0000" opacity="0.5"/>
<path d="M167.4 314.3l1 2.5l1.5 -1.7z" fill="#7c0000" opacity="0.5"/>
<path d="M163.3 313.4l1.1 2.1l1.7 -2.9z" fill="#7c0000" opacity="0.5"/>
<path d="M157 311.9l1.7 2.3l1 -1.4z" fill="#8a0000" opacity="0.5"/>
<path d="M199.9 291.3l1.2 2.3l1.6 -2.1z" fill="#c81010" opacity="0.5"/>
<path d="M152.5 285l1.5 3.3l1.6 -2z" fill="#c81010" opacity="0.5"/>
<path d="M184.2 305.3l1.1 3.2l1.2 -1.4z" fill="#8e0000" opacity="0.5"/>
<path d="M154 308.2l1.3 2.6l1.6 -1.7z" fill="#8e0000" opacity="0.5"/>
<path d="M138.4 309.5l1.3 2.6l0.9 -1.5z" fill="#960000" opacity="0.5"/>
<path d="M170.8 292.4l1.3 2.9l1.2 -2.1z" fill="#c00808" opacity="0.5"/>
<path d="M90.6 292.2l0.9 3l1.2 -1.8z" fill="#8a0000" opacity="0.5"/>
<path d="M122.5 295.9l1.2 3.6l1.7 -1z" fill="#8a0000" opacity="0.5"/>
<path d="M194.7 308.1l1.1 2.4l1.4 -2.8z" fill="#7c0000" opacity="0.5"/>
<path d="M119.6 309.4l1.6 2.9l1 -1.8z" fill="#c00808" opacity="0.5"/>
<path d="M127.3 287.6l0.9 2.4l1.7 -1.9z" fill="#c81010" opacity="0.5"/>
<path d="M156.1 303.7l1.6 1.8l1.6 -1.4z" fill="#7c0000" opacity="0.5"/>
<path d="M147.1 292.2l1.3 2.4l1.5 -1.8z" fill="#7c0000" opacity="0.5"/>
<path d="M185.1 310l1.7 2.6l1.1 -2z" fill="#8e0000" opacity="0.5"/>
<path d="M179.9 301.9l1.5 1.9l1.4 -1.5z" fill="#8e0000" opacity="0.5"/>
<path d="M176.5 287.5l1.4 2.4l1.5 -2.9z" fill="#8a0000" opacity="0.5"/>
<path d="M207.9 299l1.2 1.8l1 -2.3z" fill="#c00808" opacity="0.5"/>
<path d="M112.2 288.4l1.6 2.8l1.2 -3z" fill="#960000" opacity="0.5"/>
<path d="M198.7 294.9l0.8 2.3l0.9 -1.8z" fill="#8e0000" opacity="0.5"/>
<path d="M179.9 296.1l0.8 3.7l1.7 -2.2z" fill="#c81010" opacity="0.5"/>
<path d="M182.9 304.6l1.3 3.9l1.3 -2.2z" fill="#7c0000" opacity="0.5"/>
<path d="M150.9 306.6l1.2 1.8l0.9 -2.7z" fill="#960000" opacity="0.5"/>
<path d="M140.7 298.4l1.7 3.3l1.4 -2.5z" fill="#7c0000" opacity="0.5"/>
<path d="M173.5 302.3l1.4 2.1l1.5 -2.3z" fill="#7c0000" opacity="0.5"/>
<path d="M151.9 282.8l1.5 2.6l1.1 -2.7z" fill="#c81010" opacity="0.5"/>
<path d="M142.6 291.4l1.3 1.9l1.7 -2.3z" fill="#8e0000" opacity="0.5"/>
<path d="M101.8 308.2l1.3 1.8l1 -1.2z" fill="#c00808" opacity="0.5"/>
<path d="M165.5 307.7l1 3.2l1.7 -2.3z" fill="#c00808" opacity="0.5"/>
<path d="M90.5 307.9l0.9 2.8l1.6 -2.1z" fill="#960000" opacity="0.5"/>
<path d="M76.9 293.8l1 3.7l0.9 -1.6z" fill="#8e0000" opacity="0.5"/>
<path d="M164.2 295.8l1.5 3.7l1.1 -2.4z" fill="#7c0000" opacity="0.5"/>
<path d="M162.1 305.1l1 3.6l1.7 -1.2z" fill="#8e0000" opacity="0.5"/>
<path d="M149.3 314.3l1.7 2.3l1.8 -1.3z" fill="#8e0000" opacity="0.5"/>
<path d="M123.8 309.2l1 1.8l1.6 -2.4z" fill="#8a0000" opacity="0.5"/>
<path d="M126.4 286.6l0.8 3l1 -2.4z" fill="#8a0000" opacity="0.5"/>
<path d="M206 304.6l1.5 3.6l1.4 -1.6z" fill="#960000" opacity="0.5"/>
<path d="M131 313.1l1.6 3.2l1 -1.7z" fill="#8e0000" opacity="0.5"/>
<path d="M144.7 282.5l1.7 4l1.3 -1.3z" fill="#8e0000" opacity="0.5"/>
<path d="M148.8 298.7l1.7 2.2l1.3 -2.8z" fill="#960000" opacity="0.5"/>
<path d="M112.1 303.9l1 3.3l1.2 -1.8z" fill="#8e0000" opacity="0.5"/>
<path d="M117.9 295.1l1.7 3.8l1.1 -1.1z" fill="#8e0000" opacity="0.5"/>
<path d="M172.9 304.2l1.6 2.8l1.1 -2.8z" fill="#c00808" opacity="0.5"/>
<path d="M124 293.6l1.2 2.4l1.8 -3z" fill="#960000" opacity="0.5"/>
<path d="M201.2 307.2l1.4 2.2l1.1 -2z" fill="#7c0000" opacity="0.5"/>
<path d="M182.9 302.6l1.1 2.6l1.9 -1.6z" fill="#8a0000" opacity="0.5"/>
<path d="M172 300.2l0.9 2.4l1.2 -2.4z" fill="#c81010" opacity="0.5"/>
<path d="M167 305.7l1.5 2.5l1 -1.7z" fill="#c00808" opacity="0.5"/>
<path d="M76.1 293.8l1.3 2.7l1.6 -1.1z" fill="#960000" opacity="0.5"/>
<path d="M138.9 311.7l1.5 2.6l1.3 -1.6z" fill="#7c0000" opacity="0.5"/>
<path d="M110.2 304.3l1.2 3.4l1.4 -2.4z" fill="#c00808" opacity="0.5"/>
<path d="M228.6 290.3l1.2 2.8l1.8 -1.5z" fill="#c00808" opacity="0.5"/>
<path d="M199.2 307.4l1.5 2.8l1.6 -2.4z" fill="#c00808" opacity="0.5"/>
<path d="M219.3 293.3l1.1 3.3l1.2 -2.2z" fill="#8a0000" opacity="0.5"/>
<path d="M123.6 285.9l1.3 2.1l1.2 -2.1z" fill="#8a0000" opacity="0.5"/>
<path d="M137.2 288.6l1 3.6l1.2 -1.2z" fill="#7c0000" opacity="0.5"/>
<path d="M159.9 308.1l1.4 1.9l1.5 -2.3z" fill="#8e0000" opacity="0.5"/>
<path d="M144 308l0.8 2.9l1.1 -2z" fill="#8a0000" opacity="0.5"/>
<path d="M117.3 294.6l1.4 2.4l1.6 -2.5z" fill="#8a0000" opacity="0.5"/>
<path d="M135.7 290.4l1.2 3.8l1.9 -1.7z" fill="#c81010" opacity="0.5"/>
<path d="M89.6 300.8l1.2 2.2l0.9 -2.4z" fill="#960000" opacity="0.5"/>
<path d="M110.1 295.3l1.2 2.5l1.4 -1.3z" fill="#8e0000" opacity="0.5"/>
<path d="M90.1 304.2l1.8 2.6l1.3 -1.4z" fill="#c81010" opacity="0.5"/>
<path d="M143.7 314.9l1.6 3.5l1.8 -1.5z" fill="#8e0000" opacity="0.5"/>
<path d="M62.2 301.2l1.5 2.8l1.1 -1.1z" fill="#8e0000" opacity="0.5"/>
<path d="M148.5 297.1l0.9 3.4l1.1 -2.6z" fill="#7c0000" opacity="0.5"/>
<path d="M169.4 291.8l0.9 3l1.2 -1.9z" fill="#960000" opacity="0.5"/>
<path d="M49.6 299.8l1.2 1.8l1.3 -2.3z" fill="#c81010" opacity="0.5"/>
<path d="M143.6 316.6l1 1.9l1.5 -2.6z" fill="#c81010" opacity="0.5"/>
<path d="M154.2 318.5l1.3 2.6l1.6 -1.7z" fill="#8e0000" opacity="0.5"/>
<path d="M134 309.1l1.1 3.8l1.7 -2.8z" fill="#8a0000" opacity="0.5"/>
<path d="M105.7 305.4l1.1 2.8l1.4 -2.5z" fill="#c81010" opacity="0.5"/>
<path d="M101.3 306.1l1.1 1.6l1.4 -1.7z" fill="#8e0000" opacity="0.5"/>
<path d="M178.1 291.9l1.1 1.8l1.6 -2.1z" fill="#8e0000" opacity="0.5"/>
<path d="M98.1 299.2l1.2 1.7l1.5 -2.3z" fill="#8e0000" opacity="0.5"/>
<path d="M249.2 293.6l1.1 3l1.4 -1.1z" fill="#7c0000" opacity="0.5"/>
<path d="M102.5 305.7l1.5 2.7l1.8 -1.6z" fill="#8a0000" opacity="0.5"/>
<path d="M167.9 308.2l0.9 3.7l1.8 -2.2z" fill="#960000" opacity="0.5"/>
<path d="M189.2 291.8l1.6 3l1 -2.9z" fill="#960000" opacity="0.5"/>
<path d="M152.5 302l1.2 1.5l1.3 -2.1z" fill="#c81010" opacity="0.5"/>
<path d="M146.8 288.7l1.2 3l1.6 -1.4z" fill="#7c0000" opacity="0.5"/>
<path d="M111.9 299.3l1.6 2.1l1.9 -1.1z" fill="#c00808" opacity="0.5"/>
<path d="M126.7 308.7l1.2 1.9l1.7 -2.4z" fill="#8e0000" opacity="0.5"/>
<path d="M168.9 307.5l1.2 2.5l1.8 -1.6z" fill="#8e0000" opacity="0.5"/>
<path d="M177.7 295.3l1.7 2.7l1.4 -1.1z" fill="#c81010" opacity="0.5"/>
<path d="M193.1 307.1l1.2 1.8l1.5 -1.7z" fill="#7c0000" opacity="0.5"/>
<path d="M173.9 300l0.9 2.3l1.2 -2z" fill="#7c0000" opacity="0.5"/>
<path d="M187.5 295.8l1.6 2.3l1.9 -1.2z" fill="#960000" opacity="0.5"/>
<path d="M139.6 283.8l1.5 2.6l1.4 -1.7z" fill="#c00808" opacity="0.5"/>
<path d="M136.7 306.2l1.1 3.4l1.8 -1.4z" fill="#7c0000" opacity="0.5"/>
<path d="M171.6 306l1.1 4l1.2 -1.5z" fill="#c00808" opacity="0.5"/>
<path d="M148.8 303.3l1.1 3.7l1.7 -2.1z" fill="#c81010" opacity="0.5"/>
<path d="M72.2 294l1.4 2.6l1.2 -1z" fill="#7c0000" opacity="0.5"/>
<path d="M203.1 302.8l1.2 3.8l1.7 -2.4z" fill="#c00808" opacity="0.5"/>
<path d="M83 296.3l0.9 3.3l1.9 -1.8z" fill="#8a0000" opacity="0.5"/>
<path d="M241.6 293.8l1.3 3.5l1.5 -2.8z" fill="#c81010" opacity="0.5"/>
<path d="M109.5 304.4l1.3 3l1.4 -1.4z" fill="#8a0000" opacity="0.5"/>
<path d="M239.5 297.2l1.7 3.9l1.3 -2.1z" fill="#7c0000" opacity="0.5"/>
<path d="M175.7 305.7l1.5 2.3l1.8 -1.4z" fill="#8a0000" opacity="0.5"/>
<path d="M167.6 288.1l1.6 3.2l1.7 -1.4z" fill="#960000" opacity="0.5"/>
<path d="M166.8 285.9l1.4 3.9l1.9 -2.1z" fill="#c00808" opacity="0.5"/>
<path d="M152.2 305.2l1.2 2.6l1.1 -1.1z" fill="#8e0000" opacity="0.5"/>
<path d="M127.7 298.2l0.9 2.9l1.1 -1.6z" fill="#c00808" opacity="0.5"/>
<path d="M115.4 301l1.6 2.7l1.9 -2.1z" fill="#960000" opacity="0.5"/>
<path d="M99.7 309.5l1.3 2.8l1.3 -1.4z" fill="#8e0000" opacity="0.5"/>
<path d="M73.6 297.3l0.8 2.9l1 -2.8z" fill="#c81010" opacity="0.5"/>
<path d="M125.2 304.7l1.4 2.6l1.7 -2.4z" fill="#c81010" opacity="0.5"/>
<path d="M118.6 308.4l0.9 2.5l1.8 -1.7z" fill="#c81010" opacity="0.5"/>
<path d="M161 294.1l1.5 2.5l1.8 -1.6z" fill="#c81010" opacity="0.5"/>
<path d="M155.5 306.5l1.8 2.3l1 -1.4z" fill="#8a0000" opacity="0.5"/>
<path d="M73.9 305.1l0.9 1.9l1.1 -1.7z" fill="#c00808" opacity="0.5"/>
</g>
<polyline points="321.2,313.1 420.2,293.8 531.8,316.1" fill="none" stroke="#e9e9e9" stroke-width="0.6"/>
<polyline points="321.5,336.4 419.6,314.2 529.6,339.1" fill="none" stroke="#e9e9e9" stroke-width="0.6"/>
<polyline points="321.9,359.7 419.1,334.5 527.4,362.2" fill="none" stroke="#e9e9e9" stroke-width="0.6"/>
<polyline points="322.3,383 418.6,354.8 525.2,385.3" fill="none" stroke="#e9e9e9" stroke-width="0.6"/>
<polyline points="322.6,406.3 418,375.2 523,408.3" fill="none" stroke="#e9e9e9" stroke-width="0.6"/>
<polyline points="344.6,439.2 438.2,402.7 443.4,277.4" fill="none" stroke="#e9e9e9" stroke-width="0.6"/>
<polyline points="366.2,448.8 458.8,409.9 466,281.3" fill="none" stroke="#e9e9e9" stroke-width="0.6"/>
<polyline points="387.8,458.3 479.5,417 488.7,285.2" fill="none" stroke="#e9e9e9" stroke-width="0.6"/>
<polyline points="409.4,467.9 500.1,424.2 511.3,289.1" fill="none" stroke="#e9e9e9" stroke-width="0.6"/>
<polyline points="443.8,470.9 336.5,424.7 335.1,287.5" fill="none" stroke="#e9e9e9" stroke-width="0.6"/>
<polyline points="456.7,464.3 350,419.9 349.3,285.1" fill="none" stroke="#e9e9e9" stroke-width="0.6"/>
<polyline points="469.5,457.7 363.5,415 363.6,282.8" fill="none" stroke="#e9e9e9" stroke-width="0.6"/>
<polyline points="482.3,451.2 377,410.1 377.9,280.5" fill="none" stroke="#e9e9e9" stroke-width="0.6"/>
<polyline points="495.1,444.6 390.5,405.2 392.2,278.2" fill="none" stroke="#e9e9e9" stroke-width="0.6"/>
<polyline points="508,438 404,400.4 406.4,275.8" fill="none" stroke="#e9e9e9" stroke-width="0.6"/>
<polyline points="320.8,289.8 420.7,273.5 534,293 520.8,431.4 417.5,395.5 323,429.6" fill="none" stroke="#a0a0a0" stroke-width="0.7"/>
<line x1="420.7" y1="273.5" x2="417.5" y2="395.5" stroke="#a0a0a0" stroke-width="0.7"/>
<polyline points="320.8,289.8 323,429.6 431,477.5 520.8,431.4" fill="none" stroke="#333" stroke-width="0.7"/>
<line x1="318.6" y1="291.3" x2="320.8" y2="291" stroke="#222" stroke-width="0.8"/>
<text x="317.6" y="293.5" font-size="7.0" text-anchor="end" fill="#111">0</text>
<line x1="319" y1="313.7" x2="321.2" y2="313.4" stroke="#222" stroke-width="0.8"/>
<text x="318" y="315.9" font-size="7.0" text-anchor="end" fill="#111">20</text>
<line x1="319.3" y1="335.3" x2="321.5" y2="335" stroke="#222" stroke-width="0.8"/>
<text x="318.3" y="337.5" font-size="7.0" text-anchor="end" fill="#111">40</text>
<line x1="319.7" y1="357.5" x2="321.9" y2="357.2" stroke="#222" stroke-width="0.8"/>
<text x="318.7" y="359.7" font-size="7.0" text-anchor="end" fill="#111">60</text>
<line x1="320" y1="378.6" x2="322.2" y2="378.3" stroke="#222" stroke-width="0.8"/>
<text x="319" y="380.8" font-size="7.0" text-anchor="end" fill="#111">80</text>
<line x1="320.3" y1="399.6" x2="322.5" y2="399.3" stroke="#222" stroke-width="0.8"/>
<text x="319.3" y="401.8" font-size="7.0" text-anchor="end" fill="#111">100</text>
<line x1="320.7" y1="420.9" x2="322.9" y2="420.6" stroke="#222" stroke-width="0.8"/>
<text x="319.7" y="423.1" font-size="7.0" text-anchor="end" fill="#111">120</text>
<line x1="323" y1="429.6" x2="321.6" y2="431.4" stroke="#222" stroke-width="0.7"/>
<line x1="332.8" y1="434" x2="331.4" y2="435.8" stroke="#222" stroke-width="0.7"/>
<line x1="342.6" y1="438.3" x2="341.2" y2="440.1" stroke="#222" stroke-width="0.7"/>
<line x1="352.5" y1="442.7" x2="351.1" y2="444.5" stroke="#222" stroke-width="0.7"/>
<line x1="362.3" y1="447" x2="360.9" y2="448.8" stroke="#222" stroke-width="0.7"/>
<line x1="372.1" y1="451.4" x2="370.7" y2="453.2" stroke="#222" stroke-width="0.7"/>
<line x1="381.9" y1="455.7" x2="380.5" y2="457.5" stroke="#222" stroke-width="0.7"/>
<line x1="391.7" y1="460.1" x2="390.3" y2="461.9" stroke="#222" stroke-width="0.7"/>
<line x1="401.5" y1="464.4" x2="400.1" y2="466.2" stroke="#222" stroke-width="0.7"/>
<line x1="411.4" y1="468.8" x2="410" y2="470.6" stroke="#222" stroke-width="0.7"/>
<line x1="421.2" y1="473.1" x2="419.8" y2="474.9" stroke="#222" stroke-width="0.7"/>
<line x1="431" y1="477.5" x2="429.6" y2="479.3" stroke="#222" stroke-width="0.7"/>
<line x1="431" y1="477.5" x2="432.8" y2="478.9" stroke="#222" stroke-width="0.7"/>
<line x1="437.4" y1="474.2" x2="439.2" y2="475.6" stroke="#222" stroke-width="0.7"/>
<line x1="443.8" y1="470.9" x2="445.6" y2="472.3" stroke="#222" stroke-width="0.7"/>
<line x1="450.2" y1="467.6" x2="452" y2="469" stroke="#222" stroke-width="0.7"/>
<line x1="456.7" y1="464.3" x2="458.5" y2="465.7" stroke="#222" stroke-width="0.7"/>
<line x1="463.1" y1="461" x2="464.9" y2="462.4" stroke="#222" stroke-width="0.7"/>
<line x1="469.5" y1="457.7" x2="471.3" y2="459.1" stroke="#222" stroke-width="0.7"/>
<line x1="475.9" y1="454.4" x2="477.7" y2="455.8" stroke="#222" stroke-width="0.7"/>
<line x1="482.3" y1="451.2" x2="484.1" y2="452.6" stroke="#222" stroke-width="0.7"/>
<line x1="488.7" y1="447.9" x2="490.5" y2="449.3" stroke="#222" stroke-width="0.7"/>
<line x1="495.1" y1="444.6" x2="496.9" y2="446" stroke="#222" stroke-width="0.7"/>
<line x1="501.6" y1="441.3" x2="503.4" y2="442.7" stroke="#222" stroke-width="0.7"/>
<line x1="508" y1="438" x2="509.8" y2="439.4" stroke="#222" stroke-width="0.7"/>
<line x1="514.4" y1="434.7" x2="516.2" y2="436.1" stroke="#222" stroke-width="0.7"/>
<line x1="520.8" y1="431.4" x2="522.6" y2="432.8" stroke="#222" stroke-width="0.7"/>
<text x="318" y="433.3" font-size="3.8" text-anchor="middle" font-style="italic" transform="rotate(-22 318 433.3)" textLength="3.3" lengthAdjust="spacingAndGlyphs" fill="#666">0</text>
<text x="332.7" y="441.7" font-size="3.8" text-anchor="middle" font-style="italic" transform="rotate(-22 332.7 441.7)" textLength="9.9" lengthAdjust="spacingAndGlyphs" fill="#666">100</text>
<text x="350.6" y="450.6" font-size="3.8" text-anchor="middle" font-style="italic" transform="rotate(-22 350.6 450.6)" textLength="9.9" lengthAdjust="spacingAndGlyphs" fill="#666">200</text>
<text x="369.4" y="459.1" font-size="3.8" text-anchor="middle" font-style="italic" transform="rotate(-22 369.4 459.1)" textLength="9.9" lengthAdjust="spacingAndGlyphs" fill="#666">300</text>
<text x="389" y="468.6" font-size="3.8" text-anchor="middle" font-style="italic" transform="rotate(-22 389 468.6)" textLength="9.9" lengthAdjust="spacingAndGlyphs" fill="#666">400</text>
<text x="409.6" y="478.1" font-size="3.8" text-anchor="middle" font-style="italic" transform="rotate(-22 409.6 478.1)" textLength="9.9" lengthAdjust="spacingAndGlyphs" fill="#666">500</text>
<text x="356" y="462.5" font-size="5.0" text-anchor="middle" font-style="italic" transform="rotate(24 356 462.5)" textLength="38" lengthAdjust="spacingAndGlyphs" fill="#555">Length [µm]</text>
<text x="529.4" y="437.3" font-size="4.6" text-anchor="middle" transform="rotate(18 529.4 437.3)" textLength="10.5" lengthAdjust="spacingAndGlyphs" fill="#333">700</text>
<text x="519" y="442.6" font-size="4.6" text-anchor="middle" transform="rotate(18 519 442.6)" textLength="10.5" lengthAdjust="spacingAndGlyphs" fill="#333">600</text>
<text x="508.5" y="447.6" font-size="4.6" text-anchor="middle" transform="rotate(18 508.5 447.6)" textLength="10.5" lengthAdjust="spacingAndGlyphs" fill="#333">500</text>
<text x="497" y="454" font-size="4.6" text-anchor="middle" transform="rotate(18 497 454)" textLength="10.5" lengthAdjust="spacingAndGlyphs" fill="#333">400</text>
<text x="484.4" y="460.3" font-size="4.6" text-anchor="middle" transform="rotate(18 484.4 460.3)" textLength="10.5" lengthAdjust="spacingAndGlyphs" fill="#333">300</text>
<text x="470.8" y="469.6" font-size="4.6" text-anchor="middle" transform="rotate(18 470.8 469.6)" textLength="10.5" lengthAdjust="spacingAndGlyphs" fill="#333">200</text>
<text x="456" y="477" font-size="4.6" text-anchor="middle" transform="rotate(18 456 477)" textLength="10.5" lengthAdjust="spacingAndGlyphs" fill="#333">100</text>
<text x="437.3" y="482.8" font-size="4.6" text-anchor="middle" transform="rotate(18 437.3 482.8)" textLength="3.5" lengthAdjust="spacingAndGlyphs" fill="#333">0</text>
<text x="500.5" y="461.3" font-size="7.2" text-anchor="middle" transform="rotate(-27 500.5 461.3)" textLength="34" lengthAdjust="spacingAndGlyphs" fill="#333">Length [µm]</text>
<text x="296.4" y="350.6" font-size="12" text-anchor="middle" font-weight="bold" transform="rotate(-90 296.4 350.6)" textLength="65.2" lengthAdjust="spacingAndGlyphs" fill="#111">Height / µm</text>
<text x="428.4" y="265" font-size="12.2" text-anchor="middle" textLength="159.5" lengthAdjust="spacingAndGlyphs" stroke="#000" stroke-width="0.1" fill="#000">1.7225 after 3 weeks, 10 MPa</text>
<polygon points="399.5,326 400.2,334.9 400.8,340.5 402.2,346.5 403.3,350 405.1,351.2 406.3,352.7 408.6,352.7 410.2,355.5 411.6,355.5 413.3,358.8 415,356.9 416.8,359.4 419.4,363.2 420.8,358.2 422.7,359 424.1,356.9 425.8,357.5 427.6,354 429.9,352.3 431.1,349.9 433.6,345.9 435,344 435.8,339.4 436.5,330" fill="url(#g18)"/>
<polygon points="434,332 436.5,339 438,342.5 440,341 441.5,345.6 443.4,342 445.4,344.6 447.4,341 450,342.4 452,339 455,339.6 458,336 458,330" fill="url(#g19)"/>
<polygon points="322.8,307 324,307 325.2,305.3 326.4,300.4 327.7,304.6 328.9,304.1 330.1,304.2 331.3,302.9 332.5,303.3 333.7,303.2 335,303.2 336.2,301.8 337.4,301.4 338.6,301.2 339.8,301.1 341,299.4 342.2,299.5 343.4,299.8 344.6,299.9 345.9,298.1 347.1,298.6 348.3,296.9 349.5,297.6 350.7,296.6 351.9,297.1 353.1,296.7 354.3,294.7 355.5,294.5 356.7,295.4 358,296.3 359.2,295.9 360.4,295.4 361.6,295.1 362.8,292.8 364,295 365.2,293.5 366.4,293.1 367.6,294.6 368.9,294.7 370.1,294 371.3,290.8 372.5,292.2 373.7,292.8 374.9,287.5 376.1,290.9 377.4,291.2 378.6,292 379.8,290.6 381,290.5 382.2,290.4 383.4,291.4 384.6,290.8 385.9,291.5 387.1,289.3 388.3,290.8 389.5,290.6 390.8,290.7 392,290 393.2,288.3 394.5,288.2 395.8,288.4 397,287.5 398.2,287.4 399.5,288.3 400.8,286.8 402,287.5 403.2,286.1 404.5,285.1 405.8,286.7 407,285.9 408.2,284.5 409.5,286.2 410.8,283.7 412,285.2 413.2,284.4 414.5,283.6 415.7,283.4 417,283.5 418.2,282.6 419.5,282.1 420.7,283.6 421.9,281.8 423.2,283.9 424.4,283.4 425.7,282.9 426.9,283.4 428.1,284.5 429.4,285.3 430.6,285.5 431.9,283.8 433.1,283.7 434.4,284.2 435.6,285.5 436.8,285.1 438.1,285.8 439.3,286.6 440.6,285.8 441.8,286.8 443,286.1 444.3,286.7 445.5,285.8 446.8,286.5 448,287.6 449.2,288.1 450.4,284 451.7,288 452.9,289.3 454.1,289 455.3,289 456.5,289.5 457.8,289.2 459,289.8 460.2,289.6 461.4,289.9 462.6,290.6 463.8,291.1 465.1,292.3 466.3,288.2 467.5,291.7 468.7,292 469.9,291.6 471.2,293.2 472.4,291.7 473.6,293.6 474.8,293.8 476.1,292.9 477.3,295.3 478.6,292.2 479.8,294.6 481,295.7 482.3,294.6 483.5,292.7 484.8,296.2 486,297.2 487.2,297.5 488.5,298.3 489.7,298.3 490.9,297.2 492.1,298.7 493.4,298.4 494.6,299.1 495.8,298 497.1,299.9 498.3,300.8 499.5,299.7 500.7,300.2 502,300.7 503.2,301.7 504.4,302.3 505.7,302.3 506.9,300.7 508.1,302.4 509.3,302.1 510.6,298.9 511.8,303.4 513,302.8 514.2,303.6 515.4,304.8 516.6,302.8 517.8,303.7 519,302 520.2,304.5 521.4,305.1 522.6,305.2 523.8,304.6 525,306 526.2,306 527.4,305.7 528.6,305.7 529.8,307.4 531,306.3 532.2,307.8 531.1,308.2 530,310.1 528.9,310.4 527.8,310.1 526.7,313.7 525.6,310.9 524.5,311.6 523.3,312.5 522.2,313.4 521,313.2 519.9,313.4 518.7,313.9 517.6,313.5 516.4,318 515.3,314.5 514.1,316.9 513,316.6 511.8,315.8 510.6,315.7 509.5,317.5 508.3,318.1 507.1,317.8 506,319.2 504.8,318.5 503.7,319.4 502.5,319 501.3,321 500.2,322.4 499,320.6 497.8,321.8 496.6,322.7 495.5,322.7 494.3,322.7 493.1,322.4 491.9,323.7 490.7,324.3 489.5,323.8 488.4,325.5 487.2,324.5 486,325.4 484.9,326.1 483.7,326.1 482.6,326.1 481.5,327.1 480.4,327.4 479.2,327.7 478.1,328.3 477,328.3 475.9,328.7 474.7,329.9 473.6,329.6 472.5,329.8 471.3,330.4 470.2,331.1 469,330.8 467.9,331.3 466.7,332.5 465.6,334.3 464.4,332.9 463.3,333.3 462.1,332.5 461,333.4 459.8,334.9 458.6,337.8 457.5,335.7 456.3,336.1 455.1,336.6 453.9,336.2 452.7,337.3 451.5,336.5 450.4,336.6 449.2,338.3 448,337.6 446.8,338.8 445.6,338.9 444.4,339.1 443.1,338.8 441.9,338.8 440.7,340 439.5,340 438.4,340.3 437.2,339.7 436.1,340.4 434.9,338.8 433.8,340.1 432.6,338.5 431.5,338.9 430.3,337.9 429.2,337.9 428,338 426.9,337.4 425.7,336.9 424.6,337.5 423.4,336.5 422.3,336.6 421.1,335.3 420,335.5 418.9,335.3 417.8,335.1 416.7,336 415.6,334.3 414.4,335.5 413.3,334.6 412.2,336.6 411.1,334.7 410,334.1 408.9,333.7 407.8,335.2 406.7,332.5 405.6,332.4 404.4,333.1 403.3,331.4 402.2,332.4 401.1,332 400,331 398.8,331 397.7,331.1 396.5,329.3 395.3,330 394.2,330 393,330.1 391.8,328.1 390.7,328.4 389.5,327.6 388.4,328.6 387.3,326.6 386.2,326.5 385.1,326.2 384,330.5 382.8,326 381.7,327.7 380.6,325.9 379.5,326.4 378.4,325.2 377.3,325.1 376.2,325.2 375.1,324 374,325.3 372.9,324.7 371.8,323 370.7,323.2 369.5,322.8 368.4,326.6 367.3,323.2 366.2,322.1 365.1,321.8 364,321.8 362.9,321.8 361.8,321.1 360.7,320.4 359.6,320.8 358.5,319.7 357.4,319.8 356.3,320.4 355.2,319.8 354.1,318.5 353,318.2 351.9,317.2 350.7,318.5 349.6,317.1 348.5,317.5 347.4,317.1 346.3,315.7 345.2,315.3 344.1,316.3 343,315.2 341.9,314.2 340.8,313.9 339.7,314.3 338.6,313.2 337.5,313 336.3,311.8 335.2,311.3 334.1,312.6 333,312.1 331.8,311.9 330.7,310.6 329.6,309.6 328.4,309.9 327.3,309.2 326.2,309.4 325.1,308.4 323.9,307.4" fill="#fd0303"/>
<polygon points="418.5,285 420.6,278.6 422.5,285" fill="#fd0303"/>
<path d="M402.8 288.9l0.7 3.4l0.8 -3.3z" fill="#c80000" opacity="0.5"/>
<path d="M455.5 293.9l0.7 3.8l0.8 -2.2z" fill="#c80000" opacity="0.5"/>
<path d="M407.8 298l0.7 3l0.8 -2.9z" fill="#c80000" opacity="0.5"/>
<path d="M410.3 299.6l0.7 2.2l0.8 -3.3z" fill="#c80000" opacity="0.5"/>
<path d="M414.4 312.2l0.7 3.4l0.8 -2.2z" fill="#c80000" opacity="0.5"/>
<path d="M465.7 296.3l0.7 2.1l0.8 -2.9z" fill="#c80000" opacity="0.5"/>
<path d="M409.1 299.9l0.7 4.3l0.8 -2.8z" fill="#c80000" opacity="0.5"/>
<path d="M413.4 309.5l0.7 3.4l0.8 -3.1z" fill="#c80000" opacity="0.5"/>
<path d="M417.2 312.7l0.7 3.4l0.8 -1.8z" fill="#c80000" opacity="0.5"/>
<path d="M442 290.9l0.7 2.4l0.8 -3.3z" fill="#c80000" opacity="0.5"/>
<path d="M404.3 308.9l0.7 2.4l0.8 -1.5z" fill="#c80000" opacity="0.5"/>
<path d="M409.9 308.3l0.7 3.5l0.8 -1.7z" fill="#c80000" opacity="0.5"/>
<path d="M447.5 295.6l0.7 4.3l0.8 -2.7z" fill="#c80000" opacity="0.5"/>
<path d="M425 298.3l0.7 4.1l0.8 -1.7z" fill="#c80000" opacity="0.5"/>
<path d="M451.9 295.4l0.7 3.8l0.8 -2.6z" fill="#c80000" opacity="0.5"/>
<path d="M448.4 294.5l0.7 2.8l0.8 -2.4z" fill="#c80000" opacity="0.5"/>
<path d="M375 294.6l0.7 3.5l0.8 -2.7z" fill="#c80000" opacity="0.5"/>
<path d="M448.2 297.6l0.7 2.4l0.8 -1.7z" fill="#c80000" opacity="0.5"/>
<path d="M407.4 308.2l0.7 2.2l0.8 -3.5z" fill="#c80000" opacity="0.5"/>
<path d="M407.4 303.3l0.7 4.1l0.8 -3.4z" fill="#c80000" opacity="0.5"/>
<path d="M410.5 302.8l0.7 3.4l0.8 -2.6z" fill="#c80000" opacity="0.5"/>
<path d="M446.5 304.2l0.7 3.1l0.8 -2.1z" fill="#c80000" opacity="0.5"/>
<path d="M440.7 295.4l0.7 2.7l0.8 -3.3z" fill="#c80000" opacity="0.5"/>
<path d="M384.5 305.7l0.7 2.7l0.8 -3.1z" fill="#c80000" opacity="0.5"/>
<path d="M423.4 296.2l0.7 3.5l0.8 -2.2z" fill="#c80000" opacity="0.5"/>
<path d="M436.9 296.4l0.7 2.2l0.8 -1.6z" fill="#c80000" opacity="0.5"/>
<path d="M412.6 306.9l0.7 2.2l0.8 -1.9z" fill="#c80000" opacity="0.5"/>
<path d="M364.6 298.1l0.7 2.8l0.8 -3.5z" fill="#c80000" opacity="0.5"/>
<path d="M425.4 308.9l0.7 2.4l0.8 -2.7z" fill="#c80000" opacity="0.5"/>
<path d="M379.1 294.9l0.7 2.8l0.8 -2.4z" fill="#c80000" opacity="0.5"/>
<path d="M434.9 298.8l0.7 2.5l0.8 -3.5z" fill="#c80000" opacity="0.5"/>
<path d="M419.4 298.3l0.7 4.3l0.8 -3z" fill="#c80000" opacity="0.5"/>
<path d="M376 302.4l0.7 3.3l0.8 -2z" fill="#c80000" opacity="0.5"/>
<path d="M438.9 292.6l0.7 3.3l0.8 -2.1z" fill="#c80000" opacity="0.5"/>
<path d="M440.2 301.7l0.7 2.6l0.8 -2.5z" fill="#c80000" opacity="0.5"/>
<path d="M409 298.4l0.7 4.3l0.8 -2.9z" fill="#c80000" opacity="0.5"/>
<path d="M420.2 294.1l0.7 2.8l0.8 -2.3z" fill="#c80000" opacity="0.5"/>
<path d="M422.7 287.6l0.7 3.7l0.8 -1.7z" fill="#c80000" opacity="0.5"/>
<path d="M396.1 293.5l0.7 4.4l0.8 -3.1z" fill="#c80000" opacity="0.5"/>
<path d="M406 310.7l0.7 3.4l0.8 -2.6z" fill="#c80000" opacity="0.5"/>
<polygon points="397.5,322 398,317.5 402,314.6 410,313 420,312.4 430,313 440,314.6 447,317.4 451.5,321 451,325.5 446,328 436,331 426,329.6 416,327 406,324.6" fill="url(#g20)"/>
<polygon points="396.5,321.6 397.8,320.5 399,322.5 400.2,322.3 401.5,322.4 402.8,322.9 404,322.6 405.1,323.3 406.3,322 407.4,323.6 408.6,323 409.7,321 410.9,321.9 412,325 413.1,324.2 414.3,324.5 415.4,324.9 416.6,323.5 417.7,325.3 418.9,323.2 420,326.6 421.1,325.9 422.3,327.2 423.4,326.8 424.6,326.5 425.7,328.5 426.9,327 428,328.8 429.2,327.6 430.4,324.8 431.6,328.5 432.8,326.7 434,329.8 435.2,327.8 436.4,329.2 437.6,327.7 438.8,328.6 440,327.4 441.2,326.2 442.4,327.3 443.6,323.1 444.8,326.7 446,325.6 447.3,323.7 448.6,321.2 449.9,323.6 451.2,324.3 452.5,323.4 452.5,334 451.1,334.6 449.7,335 448.3,336.2 446.9,338.1 445.6,337.9 444.2,337.8 442.8,338.6 441.4,339.6 440,340 438.5,341.1 437,341.7 435.5,341.4 434,341.2 432.5,341.5 431,340.5 429.5,340.7 428,339.5 426.5,339 425,338.6 423.7,338.6 422.4,338.3 421.1,337.2 419.8,336.6 418.5,336.7 417.2,336.7 415.9,336.4 414.6,335.4 413.3,335.8 412,334.4 410.7,336.5 409.4,334.4 408.1,334.3 406.8,334.4 405.5,333.3 404.2,332.3 402.9,332.4 401.6,331.7 400.3,331.6 399,331.2 397.8,329.5 396.5,328" fill="#fd0303"/>
</svg>
</body></html>
